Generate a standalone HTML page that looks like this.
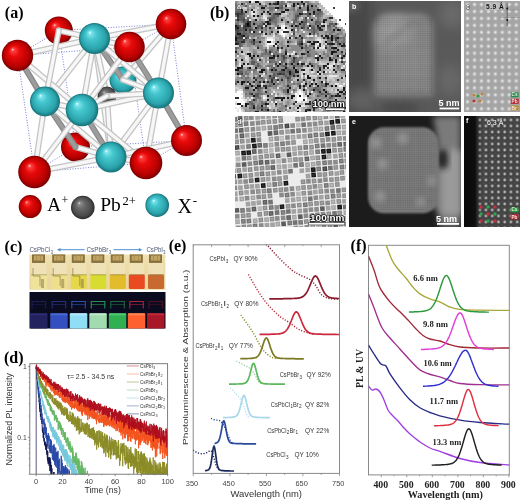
<!DOCTYPE html><html><head><meta charset="utf-8"><style>html,body{margin:0;padding:0;background:#fff;width:520px;height:501px;overflow:hidden}svg{display:block}</style></head><body><svg width="520" height="501" viewBox="0 0 520 501"><defs>
<radialGradient id="gR" cx="0.5" cy="0.5" r="0.5" fx="0.34" fy="0.3"><stop offset="0" stop-color="#ffe0e0"/><stop offset="0.1" stop-color="#ff4040"/><stop offset="0.35" stop-color="#e80a0a"/><stop offset="0.8" stop-color="#b80000"/><stop offset="1" stop-color="#780000"/></radialGradient>
<radialGradient id="gC" cx="0.5" cy="0.5" r="0.5" fx="0.34" fy="0.3"><stop offset="0" stop-color="#f0ffff"/><stop offset="0.1" stop-color="#80e4ec"/><stop offset="0.35" stop-color="#44c6ce"/><stop offset="0.8" stop-color="#2aa2aa"/><stop offset="1" stop-color="#167078"/></radialGradient>
<radialGradient id="gG" cx="0.5" cy="0.5" r="0.5" fx="0.34" fy="0.3"><stop offset="0" stop-color="#e0e0e0"/><stop offset="0.12" stop-color="#8a8a8a"/><stop offset="0.4" stop-color="#666"/><stop offset="0.8" stop-color="#4a4a4a"/><stop offset="1" stop-color="#2a2a2a"/></radialGradient>
</defs>
<line x1="58.8" y1="30.5" x2="171" y2="24" stroke="#5060c8" stroke-width="0.8" stroke-dasharray="1 1.6"/>
<line x1="171" y1="24" x2="129.5" y2="47" stroke="#5060c8" stroke-width="0.8" stroke-dasharray="1 1.6"/>
<line x1="129.5" y1="47" x2="17.5" y2="55.5" stroke="#5060c8" stroke-width="0.8" stroke-dasharray="1 1.6"/>
<line x1="17.5" y1="55.5" x2="58.8" y2="30.5" stroke="#5060c8" stroke-width="0.8" stroke-dasharray="1 1.6"/>
<line x1="75.5" y1="147" x2="186.5" y2="140.5" stroke="#5060c8" stroke-width="0.8" stroke-dasharray="1 1.6"/>
<line x1="186.5" y1="140.5" x2="146" y2="163" stroke="#5060c8" stroke-width="0.8" stroke-dasharray="1 1.6"/>
<line x1="146" y1="163" x2="34.5" y2="172" stroke="#5060c8" stroke-width="0.8" stroke-dasharray="1 1.6"/>
<line x1="34.5" y1="172" x2="75.5" y2="147" stroke="#5060c8" stroke-width="0.8" stroke-dasharray="1 1.6"/>
<line x1="58.8" y1="30.5" x2="75.5" y2="147" stroke="#5060c8" stroke-width="0.8" stroke-dasharray="1 1.6"/>
<line x1="171" y1="24" x2="186.5" y2="140.5" stroke="#5060c8" stroke-width="0.8" stroke-dasharray="1 1.6"/>
<line x1="129.5" y1="47" x2="146" y2="163" stroke="#5060c8" stroke-width="0.8" stroke-dasharray="1 1.6"/>
<line x1="17.5" y1="55.5" x2="34.5" y2="172" stroke="#5060c8" stroke-width="0.8" stroke-dasharray="1 1.6"/>
<circle cx="58.8" cy="30.5" r="14" fill="url(#gR)"/>
<circle cx="75.5" cy="147" r="14.5" fill="url(#gR)"/>
<circle cx="123" cy="80" r="13.5" fill="url(#gC)"/>
<line x1="94.5" y1="38.5" x2="123" y2="80" stroke="#8a8a8a" stroke-width="6" stroke-linecap="round"/>
<line x1="94.5" y1="38.5" x2="123" y2="80" stroke="#9c9c9c" stroke-width="3.4" stroke-linecap="round"/>
<line x1="171" y1="24" x2="123" y2="80" stroke="#c4c4c4" stroke-width="6" stroke-linecap="round"/>
<line x1="171" y1="24" x2="123" y2="80" stroke="#f7f7f7" stroke-width="3.4" stroke-linecap="round"/>
<line x1="123" y1="80" x2="158.5" y2="93" stroke="#c4c4c4" stroke-width="6" stroke-linecap="round"/>
<line x1="123" y1="80" x2="158.5" y2="93" stroke="#f7f7f7" stroke-width="3.4" stroke-linecap="round"/>
<line x1="94.5" y1="38.5" x2="111" y2="157" stroke="#c4c4c4" stroke-width="6" stroke-linecap="round"/>
<line x1="94.5" y1="38.5" x2="111" y2="157" stroke="#f7f7f7" stroke-width="3.4" stroke-linecap="round"/>
<line x1="107" y1="96" x2="94.5" y2="38.5" stroke="#c4c4c4" stroke-width="6" stroke-linecap="round"/>
<line x1="107" y1="96" x2="94.5" y2="38.5" stroke="#f7f7f7" stroke-width="3.4" stroke-linecap="round"/>
<line x1="107" y1="96" x2="111" y2="157" stroke="#c4c4c4" stroke-width="6" stroke-linecap="round"/>
<line x1="107" y1="96" x2="111" y2="157" stroke="#f7f7f7" stroke-width="3.4" stroke-linecap="round"/>
<line x1="75.5" y1="147" x2="111" y2="157" stroke="#c4c4c4" stroke-width="6" stroke-linecap="round"/>
<line x1="75.5" y1="147" x2="111" y2="157" stroke="#f7f7f7" stroke-width="3.4" stroke-linecap="round"/>
<line x1="75.5" y1="147" x2="45" y2="101.5" stroke="#8a8a8a" stroke-width="6" stroke-linecap="round"/>
<line x1="75.5" y1="147" x2="45" y2="101.5" stroke="#9c9c9c" stroke-width="3.4" stroke-linecap="round"/>
<line x1="82" y1="110" x2="111" y2="157" stroke="#8a8a8a" stroke-width="6" stroke-linecap="round"/>
<line x1="82" y1="110" x2="111" y2="157" stroke="#9c9c9c" stroke-width="3.4" stroke-linecap="round"/>
<circle cx="107" cy="96" r="9.5" fill="url(#gG)"/>
<line x1="58.8" y1="30.5" x2="94.5" y2="38.5" stroke="#c4c4c4" stroke-width="6" stroke-linecap="round"/>
<line x1="58.8" y1="30.5" x2="94.5" y2="38.5" stroke="#f7f7f7" stroke-width="3.4" stroke-linecap="round"/>
<line x1="17.5" y1="55.5" x2="94.5" y2="38.5" stroke="#c4c4c4" stroke-width="6" stroke-linecap="round"/>
<line x1="17.5" y1="55.5" x2="94.5" y2="38.5" stroke="#f7f7f7" stroke-width="3.4" stroke-linecap="round"/>
<line x1="129.5" y1="47" x2="94.5" y2="38.5" stroke="#c4c4c4" stroke-width="6" stroke-linecap="round"/>
<line x1="129.5" y1="47" x2="94.5" y2="38.5" stroke="#f7f7f7" stroke-width="3.4" stroke-linecap="round"/>
<line x1="171" y1="24" x2="94.5" y2="38.5" stroke="#c4c4c4" stroke-width="6" stroke-linecap="round"/>
<line x1="171" y1="24" x2="94.5" y2="38.5" stroke="#f7f7f7" stroke-width="3.4" stroke-linecap="round"/>
<line x1="171" y1="24" x2="158.5" y2="93" stroke="#c4c4c4" stroke-width="6" stroke-linecap="round"/>
<line x1="171" y1="24" x2="158.5" y2="93" stroke="#f7f7f7" stroke-width="3.4" stroke-linecap="round"/>
<line x1="94.5" y1="38.5" x2="82" y2="110" stroke="#c4c4c4" stroke-width="6" stroke-linecap="round"/>
<line x1="94.5" y1="38.5" x2="82" y2="110" stroke="#f7f7f7" stroke-width="3.4" stroke-linecap="round"/>
<line x1="94.5" y1="38.5" x2="45" y2="101.5" stroke="#c4c4c4" stroke-width="6" stroke-linecap="round"/>
<line x1="94.5" y1="38.5" x2="45" y2="101.5" stroke="#f7f7f7" stroke-width="3.4" stroke-linecap="round"/>
<line x1="94.5" y1="38.5" x2="158.5" y2="93" stroke="#c4c4c4" stroke-width="6" stroke-linecap="round"/>
<line x1="94.5" y1="38.5" x2="158.5" y2="93" stroke="#f7f7f7" stroke-width="3.4" stroke-linecap="round"/>
<line x1="17.5" y1="55.5" x2="45" y2="101.5" stroke="#8a8a8a" stroke-width="6" stroke-linecap="round"/>
<line x1="17.5" y1="55.5" x2="45" y2="101.5" stroke="#9c9c9c" stroke-width="3.4" stroke-linecap="round"/>
<line x1="17.5" y1="55.5" x2="82" y2="110" stroke="#c4c4c4" stroke-width="6" stroke-linecap="round"/>
<line x1="17.5" y1="55.5" x2="82" y2="110" stroke="#f7f7f7" stroke-width="3.4" stroke-linecap="round"/>
<line x1="58.8" y1="30.5" x2="45" y2="101.5" stroke="#c4c4c4" stroke-width="6" stroke-linecap="round"/>
<line x1="58.8" y1="30.5" x2="45" y2="101.5" stroke="#f7f7f7" stroke-width="3.4" stroke-linecap="round"/>
<line x1="45" y1="101.5" x2="82" y2="110" stroke="#c4c4c4" stroke-width="6" stroke-linecap="round"/>
<line x1="45" y1="101.5" x2="82" y2="110" stroke="#f7f7f7" stroke-width="3.4" stroke-linecap="round"/>
<line x1="82" y1="110" x2="158.5" y2="93" stroke="#c4c4c4" stroke-width="6" stroke-linecap="round"/>
<line x1="82" y1="110" x2="158.5" y2="93" stroke="#f7f7f7" stroke-width="3.4" stroke-linecap="round"/>
<line x1="45" y1="101.5" x2="111" y2="157" stroke="#c4c4c4" stroke-width="6" stroke-linecap="round"/>
<line x1="45" y1="101.5" x2="111" y2="157" stroke="#f7f7f7" stroke-width="3.4" stroke-linecap="round"/>
<line x1="158.5" y1="93" x2="111" y2="157" stroke="#c4c4c4" stroke-width="6" stroke-linecap="round"/>
<line x1="158.5" y1="93" x2="111" y2="157" stroke="#f7f7f7" stroke-width="3.4" stroke-linecap="round"/>
<line x1="107" y1="96" x2="158.5" y2="93" stroke="#c4c4c4" stroke-width="6" stroke-linecap="round"/>
<line x1="107" y1="96" x2="158.5" y2="93" stroke="#f7f7f7" stroke-width="3.4" stroke-linecap="round"/>
<line x1="107" y1="96" x2="82" y2="110" stroke="#c4c4c4" stroke-width="6" stroke-linecap="round"/>
<line x1="107" y1="96" x2="82" y2="110" stroke="#f7f7f7" stroke-width="3.4" stroke-linecap="round"/>
<line x1="34.5" y1="172" x2="45" y2="101.5" stroke="#c4c4c4" stroke-width="6" stroke-linecap="round"/>
<line x1="34.5" y1="172" x2="45" y2="101.5" stroke="#f7f7f7" stroke-width="3.4" stroke-linecap="round"/>
<line x1="34.5" y1="172" x2="82" y2="110" stroke="#c4c4c4" stroke-width="6" stroke-linecap="round"/>
<line x1="34.5" y1="172" x2="82" y2="110" stroke="#f7f7f7" stroke-width="3.4" stroke-linecap="round"/>
<line x1="34.5" y1="172" x2="111" y2="157" stroke="#c4c4c4" stroke-width="6" stroke-linecap="round"/>
<line x1="34.5" y1="172" x2="111" y2="157" stroke="#f7f7f7" stroke-width="3.4" stroke-linecap="round"/>
<line x1="146" y1="163" x2="111" y2="157" stroke="#c4c4c4" stroke-width="6" stroke-linecap="round"/>
<line x1="146" y1="163" x2="111" y2="157" stroke="#f7f7f7" stroke-width="3.4" stroke-linecap="round"/>
<line x1="146" y1="163" x2="82" y2="110" stroke="#c4c4c4" stroke-width="6" stroke-linecap="round"/>
<line x1="146" y1="163" x2="82" y2="110" stroke="#f7f7f7" stroke-width="3.4" stroke-linecap="round"/>
<line x1="146" y1="163" x2="158.5" y2="93" stroke="#c4c4c4" stroke-width="6" stroke-linecap="round"/>
<line x1="146" y1="163" x2="158.5" y2="93" stroke="#f7f7f7" stroke-width="3.4" stroke-linecap="round"/>
<line x1="186.5" y1="140.5" x2="158.5" y2="93" stroke="#8a8a8a" stroke-width="6" stroke-linecap="round"/>
<line x1="186.5" y1="140.5" x2="158.5" y2="93" stroke="#9c9c9c" stroke-width="3.4" stroke-linecap="round"/>
<line x1="186.5" y1="140.5" x2="111" y2="157" stroke="#c4c4c4" stroke-width="6" stroke-linecap="round"/>
<line x1="186.5" y1="140.5" x2="111" y2="157" stroke="#f7f7f7" stroke-width="3.4" stroke-linecap="round"/>
<line x1="129.5" y1="47" x2="82" y2="110" stroke="#c4c4c4" stroke-width="6" stroke-linecap="round"/>
<line x1="129.5" y1="47" x2="82" y2="110" stroke="#f7f7f7" stroke-width="3.4" stroke-linecap="round"/>
<line x1="129.5" y1="47" x2="158.5" y2="93" stroke="#8a8a8a" stroke-width="6" stroke-linecap="round"/>
<line x1="129.5" y1="47" x2="158.5" y2="93" stroke="#9c9c9c" stroke-width="3.4" stroke-linecap="round"/>
<circle cx="17.5" cy="55.5" r="15.7" fill="url(#gR)"/>
<circle cx="171" cy="24" r="15.3" fill="url(#gR)"/>
<circle cx="94.5" cy="38.5" r="15.5" fill="url(#gC)"/>
<circle cx="129.5" cy="47" r="15.3" fill="url(#gR)"/>
<circle cx="45" cy="101.5" r="15" fill="url(#gC)"/>
<circle cx="158.5" cy="93" r="15.5" fill="url(#gC)"/>
<circle cx="82" cy="110" r="16.3" fill="url(#gC)"/>
<circle cx="186.5" cy="140.5" r="15.5" fill="url(#gR)"/>
<circle cx="111" cy="157" r="15.5" fill="url(#gC)"/>
<circle cx="34.5" cy="172" r="16.3" fill="url(#gR)"/>
<circle cx="146" cy="163" r="16.3" fill="url(#gR)"/>
<circle cx="30.2" cy="206.6" r="11.5" fill="url(#gR)"/>
<circle cx="82.8" cy="207.5" r="11.8" fill="url(#gG)"/>
<circle cx="157.2" cy="205.2" r="11.8" fill="url(#gC)"/>
<text x="47.3" y="211" font-family="Liberation Serif, Times New Roman, serif" font-size="19">A</text><text x="61.5" y="203.8" font-family="Liberation Serif, Times New Roman, serif" font-size="12">+</text>
<text x="100.2" y="211.2" font-family="Liberation Serif, Times New Roman, serif" font-size="19.5">Pb</text><text x="122.4" y="204.6" font-family="Liberation Serif, Times New Roman, serif" font-size="12.5">2+</text>
<text x="177.4" y="212.6" font-family="Liberation Serif, Times New Roman, serif" font-size="20">X</text><text x="192.8" y="204.8" font-family="Liberation Serif, Times New Roman, serif" font-size="13">-</text>
<text x="4.8" y="18.3" font-family="Liberation Serif, Times New Roman, serif" font-weight="bold" font-size="16">(a)</text>
<text x="209.9" y="18.3" font-family="Liberation Serif, Times New Roman, serif" font-weight="bold" font-size="16">(b)</text>
<text x="4.6" y="252" font-family="Liberation Serif, Times New Roman, serif" font-weight="bold" font-size="16">(c)</text>
<text x="4" y="362.5" font-family="Liberation Serif, Times New Roman, serif" font-weight="bold" font-size="16">(d)</text>
<text x="168.7" y="250.8" font-family="Liberation Serif, Times New Roman, serif" font-weight="bold" font-size="16">(e)</text>
<text x="350.6" y="250.8" font-family="Liberation Serif, Times New Roman, serif" font-weight="bold" font-size="16">(f)</text>
<defs><filter id="blA" x="0" y="0" width="1" height="1"><feGaussianBlur stdDeviation="0.55"/></filter><clipPath id="cpBa"><rect x="235" y="1" width="111" height="111"/></clipPath><clipPath id="cpBd"><rect x="235" y="116" width="111" height="111"/></clipPath></defs>
<g filter="url(#blA)" clip-path="url(#cpBa)">
<path fill="#000000" d="M247 23h2v2h-2z"/>
<path fill="#171717" d="M249 1h2v2h-2zM255 1h2v2h-2zM257 1h2v2h-2zM277 1h2v2h-2zM301 1h2v2h-2zM259 3h2v2h-2zM269 3h2v2h-2zM277 3h2v2h-2zM293 3h2v2h-2zM297 3h2v2h-2zM303 3h2v2h-2zM237 5h2v2h-2zM239 5h2v2h-2zM285 5h2v2h-2zM293 5h2v2h-2zM311 5h2v2h-2zM261 7h2v2h-2zM263 7h2v2h-2zM277 7h2v2h-2zM299 7h2v2h-2zM307 7h2v2h-2zM285 9h2v2h-2zM287 9h2v2h-2zM307 9h2v2h-2zM317 9h2v2h-2zM245 11h2v2h-2zM267 11h2v2h-2zM283 11h2v2h-2zM313 11h2v2h-2zM261 13h2v2h-2zM269 13h2v2h-2zM279 13h2v2h-2zM299 13h2v2h-2zM309 13h2v2h-2zM253 15h2v2h-2zM257 15h2v2h-2zM255 19h2v2h-2zM281 19h2v2h-2zM311 19h2v2h-2zM267 21h2v2h-2zM301 21h2v2h-2zM323 21h2v2h-2zM253 23h2v2h-2zM267 23h2v2h-2zM299 23h2v2h-2zM235 25h2v2h-2zM247 25h2v2h-2zM265 25h2v2h-2zM291 25h2v2h-2zM295 25h2v2h-2zM309 25h2v2h-2zM317 25h2v2h-2zM323 25h2v2h-2zM237 27h2v2h-2zM255 27h2v2h-2zM277 27h2v2h-2zM279 27h2v2h-2zM285 27h2v2h-2zM319 27h2v2h-2zM245 29h2v2h-2zM291 29h2v2h-2zM333 29h2v2h-2zM337 29h2v2h-2zM253 31h2v2h-2zM261 31h2v2h-2zM277 31h2v2h-2zM237 33h2v2h-2zM239 33h2v2h-2zM265 33h2v2h-2zM309 33h2v2h-2zM243 35h2v2h-2zM299 35h2v2h-2zM325 35h2v2h-2zM331 35h2v2h-2zM235 37h2v2h-2zM289 37h2v2h-2zM327 37h2v2h-2zM331 37h2v2h-2zM337 37h2v2h-2zM235 39h2v2h-2zM253 39h2v2h-2zM331 39h2v2h-2zM259 41h2v2h-2zM267 41h2v2h-2zM269 41h2v2h-2zM277 41h2v2h-2zM287 41h2v2h-2zM309 41h2v2h-2zM317 41h2v2h-2zM325 41h2v2h-2zM235 43h2v2h-2zM275 43h2v2h-2zM301 43h2v2h-2zM311 43h2v2h-2zM313 43h2v2h-2zM331 43h2v2h-2zM339 43h2v2h-2zM287 45h2v2h-2zM341 45h2v2h-2zM277 47h2v2h-2zM301 47h2v2h-2zM317 47h2v2h-2zM333 47h2v2h-2zM335 47h2v2h-2zM337 49h2v2h-2zM235 51h2v2h-2zM241 51h2v2h-2zM307 51h2v2h-2zM331 51h2v2h-2zM333 51h2v2h-2zM247 53h2v2h-2zM249 53h2v2h-2zM285 53h2v2h-2zM301 53h2v2h-2zM331 53h2v2h-2zM249 55h2v2h-2zM253 55h2v2h-2zM257 55h2v2h-2zM273 55h2v2h-2zM277 55h2v2h-2zM289 55h2v2h-2zM319 55h2v2h-2zM337 55h2v2h-2zM343 55h2v2h-2zM251 57h2v2h-2zM269 57h2v2h-2zM271 57h2v2h-2zM317 57h2v2h-2zM329 57h2v2h-2zM341 57h2v2h-2zM235 59h2v2h-2zM241 59h2v2h-2zM317 59h2v2h-2zM329 59h2v2h-2zM335 59h2v2h-2zM335 61h2v2h-2zM243 63h2v2h-2zM279 63h2v2h-2zM285 63h2v2h-2zM291 63h2v2h-2zM297 63h2v2h-2zM301 63h2v2h-2zM327 63h2v2h-2zM241 65h2v2h-2zM277 65h2v2h-2zM307 65h2v2h-2zM311 65h2v2h-2zM323 65h2v2h-2zM333 65h2v2h-2zM237 67h2v2h-2zM239 67h2v2h-2zM249 67h2v2h-2zM255 67h2v2h-2zM285 67h2v2h-2zM293 67h2v2h-2zM235 69h2v2h-2zM237 69h2v2h-2zM261 69h2v2h-2zM263 69h2v2h-2zM271 69h2v2h-2zM283 69h2v2h-2zM295 69h2v2h-2zM303 69h2v2h-2zM311 69h2v2h-2zM319 69h2v2h-2zM333 69h2v2h-2zM261 71h2v2h-2zM289 71h2v2h-2zM295 71h2v2h-2zM297 71h2v2h-2zM317 71h2v2h-2zM323 71h2v2h-2zM237 73h2v2h-2zM289 73h2v2h-2zM319 73h2v2h-2zM297 75h2v2h-2zM307 75h2v2h-2zM345 75h1v2h-1zM307 77h2v2h-2zM309 77h2v2h-2zM319 77h2v2h-2zM297 79h2v2h-2zM313 79h2v2h-2zM237 81h2v2h-2zM241 81h2v2h-2zM243 81h2v2h-2zM263 81h2v2h-2zM321 81h2v2h-2zM241 83h2v2h-2zM249 83h2v2h-2zM273 83h2v2h-2zM305 83h2v2h-2zM311 83h2v2h-2zM315 83h2v2h-2zM325 83h2v2h-2zM251 85h2v2h-2zM257 85h2v2h-2zM259 85h2v2h-2zM299 85h2v2h-2zM303 85h2v2h-2zM309 85h2v2h-2zM317 85h2v2h-2zM331 85h2v2h-2zM335 85h2v2h-2zM245 87h2v2h-2zM247 87h2v2h-2zM255 87h2v2h-2zM265 87h2v2h-2zM289 87h2v2h-2zM343 87h2v2h-2zM253 89h2v2h-2zM287 89h2v2h-2zM303 89h2v2h-2zM313 89h2v2h-2zM323 89h2v2h-2zM343 89h2v2h-2zM287 91h2v2h-2zM325 91h2v2h-2zM339 91h2v2h-2zM341 91h2v2h-2zM345 91h1v2h-1zM309 93h2v2h-2zM253 95h2v2h-2zM267 95h2v2h-2zM291 95h2v2h-2zM293 95h2v2h-2zM299 95h2v2h-2zM307 95h2v2h-2zM325 95h2v2h-2zM335 95h2v2h-2zM339 95h2v2h-2zM275 97h2v2h-2zM277 97h2v2h-2zM283 97h2v2h-2zM287 97h2v2h-2zM291 97h2v2h-2zM345 97h1v2h-1zM267 99h2v2h-2zM281 99h2v2h-2zM335 99h2v2h-2zM313 101h2v2h-2zM329 101h2v2h-2zM237 103h2v2h-2zM239 103h2v2h-2zM245 103h2v2h-2zM265 103h2v2h-2zM275 103h2v2h-2zM327 103h2v2h-2zM245 105h2v2h-2zM261 105h2v2h-2zM299 105h2v2h-2zM321 105h2v2h-2zM253 107h2v2h-2zM297 107h2v2h-2zM325 107h2v2h-2zM337 107h2v2h-2zM267 109h2v2h-2zM309 109h2v2h-2zM255 111h2v1h-2zM279 111h2v1h-2zM297 111h2v1h-2zM305 111h2v1h-2zM343 111h2v1h-2z"/>
<path fill="#2e2e2e" d="M241 3h2v2h-2zM273 3h2v2h-2zM275 3h2v2h-2zM307 5h2v2h-2zM275 7h2v2h-2zM241 9h2v2h-2zM251 9h2v2h-2zM319 9h2v2h-2zM241 11h2v2h-2zM253 11h2v2h-2zM263 11h2v2h-2zM281 11h2v2h-2zM237 13h2v2h-2zM275 13h2v2h-2zM277 13h2v2h-2zM301 13h2v2h-2zM313 13h2v2h-2zM237 15h2v2h-2zM329 17h2v2h-2zM331 17h2v2h-2zM237 19h2v2h-2zM269 19h2v2h-2zM323 19h2v2h-2zM325 19h2v2h-2zM247 21h2v2h-2zM249 21h2v2h-2zM265 21h2v2h-2zM287 21h2v2h-2zM245 23h2v2h-2zM263 23h2v2h-2zM269 23h2v2h-2zM335 23h2v2h-2zM245 25h2v2h-2zM249 25h2v2h-2zM321 25h2v2h-2zM235 27h2v2h-2zM261 27h2v2h-2zM269 27h2v2h-2zM301 27h2v2h-2zM319 29h2v2h-2zM321 29h2v2h-2zM339 29h2v2h-2zM271 31h2v2h-2zM283 31h2v2h-2zM285 31h2v2h-2zM287 31h2v2h-2zM241 35h2v2h-2zM321 35h2v2h-2zM327 35h2v2h-2zM295 37h2v2h-2zM301 37h2v2h-2zM323 37h2v2h-2zM241 41h2v2h-2zM243 41h2v2h-2zM307 41h2v2h-2zM313 41h2v2h-2zM315 41h2v2h-2zM237 43h2v2h-2zM319 43h2v2h-2zM327 43h2v2h-2zM329 43h2v2h-2zM333 43h2v2h-2zM343 43h2v2h-2zM273 45h2v2h-2zM319 45h2v2h-2zM343 45h2v2h-2zM257 47h2v2h-2zM281 47h2v2h-2zM313 47h2v2h-2zM325 47h2v2h-2zM331 47h2v2h-2zM269 51h2v2h-2zM285 51h2v2h-2zM335 51h2v2h-2zM341 51h2v2h-2zM295 53h2v2h-2zM303 53h2v2h-2zM345 53h1v2h-1zM273 57h2v2h-2zM293 57h2v2h-2zM315 57h2v2h-2zM321 57h2v2h-2zM259 59h2v2h-2zM331 59h2v2h-2zM341 61h2v2h-2zM247 63h2v2h-2zM303 63h2v2h-2zM309 63h2v2h-2zM325 65h2v2h-2zM241 67h2v2h-2zM319 67h2v2h-2zM323 67h2v2h-2zM327 67h2v2h-2zM275 69h2v2h-2zM281 69h2v2h-2zM301 69h2v2h-2zM341 69h2v2h-2zM343 69h2v2h-2zM259 71h2v2h-2zM335 71h2v2h-2zM279 73h2v2h-2zM303 73h2v2h-2zM259 75h2v2h-2zM269 75h2v2h-2zM293 75h2v2h-2zM253 77h2v2h-2zM325 77h2v2h-2zM341 77h2v2h-2zM255 79h2v2h-2zM271 79h2v2h-2zM277 79h2v2h-2zM281 79h2v2h-2zM303 79h2v2h-2zM337 79h2v2h-2zM247 81h2v2h-2zM253 81h2v2h-2zM259 81h2v2h-2zM267 81h2v2h-2zM271 81h2v2h-2zM327 83h2v2h-2zM263 85h2v2h-2zM265 85h2v2h-2zM287 85h2v2h-2zM325 85h2v2h-2zM299 87h2v2h-2zM337 89h2v2h-2zM265 91h2v2h-2zM319 91h2v2h-2zM251 93h2v2h-2zM337 93h2v2h-2zM343 93h2v2h-2zM331 95h2v2h-2zM337 95h2v2h-2zM235 97h2v2h-2zM237 97h2v2h-2zM279 97h2v2h-2zM281 97h2v2h-2zM253 99h2v2h-2zM303 99h2v2h-2zM315 99h2v2h-2zM319 99h2v2h-2zM295 101h2v2h-2zM309 101h2v2h-2zM319 101h2v2h-2zM325 101h2v2h-2zM247 103h2v2h-2zM267 103h2v2h-2zM293 103h2v2h-2zM305 103h2v2h-2zM307 103h2v2h-2zM309 103h2v2h-2zM335 103h2v2h-2zM241 105h2v2h-2zM253 105h2v2h-2zM289 107h2v2h-2zM313 107h2v2h-2zM345 107h1v2h-1zM261 109h2v2h-2zM305 109h2v2h-2zM307 109h2v2h-2zM313 109h2v2h-2zM333 109h2v2h-2zM257 111h2v1h-2z"/>
<path fill="#454545" d="M333 7h2v2h-2zM235 13h2v2h-2zM239 13h2v2h-2zM241 13h2v2h-2zM297 15h2v2h-2zM237 17h2v2h-2zM305 17h2v2h-2zM243 19h2v2h-2zM339 19h2v2h-2zM249 23h2v2h-2zM345 23h1v2h-1zM237 25h2v2h-2zM243 25h2v2h-2zM297 25h2v2h-2zM243 27h2v2h-2zM245 27h2v2h-2zM307 27h2v2h-2zM317 27h2v2h-2zM235 29h2v2h-2zM237 29h2v2h-2zM249 29h2v2h-2zM237 31h2v2h-2zM293 33h2v2h-2zM235 35h2v2h-2zM239 35h2v2h-2zM237 37h2v2h-2zM239 37h2v2h-2zM241 37h2v2h-2zM245 37h2v2h-2zM335 37h2v2h-2zM243 39h2v2h-2zM335 39h2v2h-2zM235 41h2v2h-2zM237 41h2v2h-2zM253 41h2v2h-2zM301 41h2v2h-2zM253 43h2v2h-2zM299 43h2v2h-2zM283 55h2v2h-2zM283 57h2v2h-2zM293 59h2v2h-2zM293 61h2v2h-2zM275 63h2v2h-2zM293 65h2v2h-2zM241 73h2v2h-2zM277 73h2v2h-2zM281 73h2v2h-2zM283 73h2v2h-2zM273 77h2v2h-2zM287 77h2v2h-2zM257 87h2v2h-2zM345 93h1v2h-1zM285 105h2v2h-2z"/>
<path fill="#5c5c5c" d="M245 5h2v2h-2zM265 5h2v2h-2zM281 5h2v2h-2zM303 5h2v2h-2zM315 5h2v2h-2zM279 7h2v2h-2zM281 7h2v2h-2zM235 11h2v2h-2zM237 11h2v2h-2zM239 11h2v2h-2zM307 11h2v2h-2zM319 11h2v2h-2zM243 13h2v2h-2zM273 13h2v2h-2zM305 13h2v2h-2zM307 13h2v2h-2zM317 13h2v2h-2zM239 15h2v2h-2zM241 15h2v2h-2zM273 15h2v2h-2zM277 15h2v2h-2zM295 15h2v2h-2zM307 15h2v2h-2zM239 17h2v2h-2zM241 17h2v2h-2zM243 17h2v2h-2zM269 17h2v2h-2zM271 17h2v2h-2zM273 17h2v2h-2zM295 17h2v2h-2zM239 19h2v2h-2zM241 19h2v2h-2zM247 19h2v2h-2zM271 19h2v2h-2zM295 19h2v2h-2zM305 19h2v2h-2zM243 21h2v2h-2zM245 21h2v2h-2zM269 21h2v2h-2zM293 21h2v2h-2zM303 21h2v2h-2zM305 21h2v2h-2zM315 21h2v2h-2zM317 21h2v2h-2zM293 23h2v2h-2zM303 23h2v2h-2zM315 23h2v2h-2zM319 23h2v2h-2zM329 23h2v2h-2zM331 23h2v2h-2zM239 25h2v2h-2zM257 25h2v2h-2zM259 25h2v2h-2zM261 25h2v2h-2zM303 25h2v2h-2zM327 25h2v2h-2zM329 25h2v2h-2zM333 25h2v2h-2zM239 27h2v2h-2zM247 27h2v2h-2zM249 27h2v2h-2zM257 27h2v2h-2zM303 27h2v2h-2zM311 27h2v2h-2zM313 27h2v2h-2zM335 27h2v2h-2zM239 29h2v2h-2zM241 29h2v2h-2zM243 29h2v2h-2zM251 29h2v2h-2zM293 29h2v2h-2zM313 29h2v2h-2zM235 31h2v2h-2zM239 31h2v2h-2zM243 31h2v2h-2zM249 31h2v2h-2zM293 31h2v2h-2zM313 31h2v2h-2zM235 33h2v2h-2zM241 33h2v2h-2zM243 33h2v2h-2zM245 33h2v2h-2zM313 33h2v2h-2zM237 35h2v2h-2zM247 35h2v2h-2zM247 37h2v2h-2zM329 37h2v2h-2zM237 39h2v2h-2zM239 39h2v2h-2zM241 39h2v2h-2zM301 39h2v2h-2zM239 41h2v2h-2zM251 41h2v2h-2zM299 41h2v2h-2zM337 41h2v2h-2zM239 43h2v2h-2zM297 43h2v2h-2zM337 43h2v2h-2zM239 45h2v2h-2zM299 45h2v2h-2zM301 45h2v2h-2zM305 45h2v2h-2zM345 45h1v2h-1zM235 47h2v2h-2zM265 49h2v2h-2zM277 49h2v2h-2zM285 49h2v2h-2zM265 51h2v2h-2zM269 53h2v2h-2zM281 55h2v2h-2zM307 55h2v2h-2zM285 57h2v2h-2zM295 57h2v2h-2zM283 59h2v2h-2zM251 61h2v2h-2zM253 61h2v2h-2zM269 61h2v2h-2zM281 61h2v2h-2zM251 63h2v2h-2zM253 63h2v2h-2zM257 63h2v2h-2zM257 65h2v2h-2zM283 65h2v2h-2zM285 65h2v2h-2zM301 65h2v2h-2zM337 65h2v2h-2zM247 67h2v2h-2zM273 67h2v2h-2zM273 69h2v2h-2zM287 69h2v2h-2zM289 69h2v2h-2zM239 71h2v2h-2zM241 71h2v2h-2zM279 71h2v2h-2zM281 71h2v2h-2zM283 71h2v2h-2zM287 71h2v2h-2zM291 71h2v2h-2zM239 73h2v2h-2zM273 73h2v2h-2zM291 73h2v2h-2zM293 73h2v2h-2zM273 75h2v2h-2zM285 75h2v2h-2zM289 75h2v2h-2zM261 77h2v2h-2zM269 77h2v2h-2zM271 77h2v2h-2zM289 77h2v2h-2zM287 79h2v2h-2zM235 83h2v2h-2zM269 85h2v2h-2zM259 87h2v2h-2zM315 87h2v2h-2zM257 89h2v2h-2zM317 89h2v2h-2zM249 93h2v2h-2zM255 93h2v2h-2zM257 93h2v2h-2zM321 93h2v2h-2zM327 93h2v2h-2zM255 95h2v2h-2zM257 95h2v2h-2zM317 95h2v2h-2zM333 95h2v2h-2zM329 97h2v2h-2zM249 101h2v2h-2zM251 103h2v2h-2zM263 103h2v2h-2zM327 105h2v2h-2zM261 107h2v2h-2zM265 109h2v2h-2zM273 111h2v1h-2z"/>
<path fill="#737373" d="M275 1h2v2h-2zM281 1h2v2h-2zM289 1h2v2h-2zM305 1h2v2h-2zM307 1h2v2h-2zM235 3h2v2h-2zM243 3h2v2h-2zM271 3h2v2h-2zM279 3h2v2h-2zM281 3h2v2h-2zM283 3h2v2h-2zM285 3h2v2h-2zM299 3h2v2h-2zM301 3h2v2h-2zM307 3h2v2h-2zM309 3h2v2h-2zM235 5h2v2h-2zM261 5h2v2h-2zM279 5h2v2h-2zM291 5h2v2h-2zM299 5h2v2h-2zM235 7h2v2h-2zM269 7h2v2h-2zM271 7h2v2h-2zM273 7h2v2h-2zM293 7h2v2h-2zM311 7h2v2h-2zM235 9h2v2h-2zM237 9h2v2h-2zM239 9h2v2h-2zM247 9h2v2h-2zM269 9h2v2h-2zM271 9h2v2h-2zM281 9h2v2h-2zM293 9h2v2h-2zM297 9h2v2h-2zM299 9h2v2h-2zM301 9h2v2h-2zM309 9h2v2h-2zM313 9h2v2h-2zM297 11h2v2h-2zM299 11h2v2h-2zM301 11h2v2h-2zM315 11h2v2h-2zM317 11h2v2h-2zM321 11h2v2h-2zM295 13h2v2h-2zM297 13h2v2h-2zM303 13h2v2h-2zM315 13h2v2h-2zM319 13h2v2h-2zM321 13h2v2h-2zM235 15h2v2h-2zM243 15h2v2h-2zM271 15h2v2h-2zM275 15h2v2h-2zM299 15h2v2h-2zM309 15h2v2h-2zM315 15h2v2h-2zM317 15h2v2h-2zM319 15h2v2h-2zM247 17h2v2h-2zM267 17h2v2h-2zM275 17h2v2h-2zM297 17h2v2h-2zM309 17h2v2h-2zM317 17h2v2h-2zM235 19h2v2h-2zM245 19h2v2h-2zM273 19h2v2h-2zM275 19h2v2h-2zM293 19h2v2h-2zM303 19h2v2h-2zM317 19h2v2h-2zM237 21h2v2h-2zM241 21h2v2h-2zM253 21h2v2h-2zM261 21h2v2h-2zM271 21h2v2h-2zM273 21h2v2h-2zM275 21h2v2h-2zM295 21h2v2h-2zM297 21h2v2h-2zM319 21h2v2h-2zM235 23h2v2h-2zM237 23h2v2h-2zM243 23h2v2h-2zM255 23h2v2h-2zM259 23h2v2h-2zM261 23h2v2h-2zM275 23h2v2h-2zM301 23h2v2h-2zM305 23h2v2h-2zM317 23h2v2h-2zM333 23h2v2h-2zM277 25h2v2h-2zM301 25h2v2h-2zM311 25h2v2h-2zM313 25h2v2h-2zM241 27h2v2h-2zM251 27h2v2h-2zM259 27h2v2h-2zM265 27h2v2h-2zM293 27h2v2h-2zM297 27h2v2h-2zM327 27h2v2h-2zM329 27h2v2h-2zM247 29h2v2h-2zM253 29h2v2h-2zM255 29h2v2h-2zM257 29h2v2h-2zM261 29h2v2h-2zM265 29h2v2h-2zM297 29h2v2h-2zM307 29h2v2h-2zM309 29h2v2h-2zM311 29h2v2h-2zM315 29h2v2h-2zM317 29h2v2h-2zM329 29h2v2h-2zM241 31h2v2h-2zM245 31h2v2h-2zM247 31h2v2h-2zM255 31h2v2h-2zM311 31h2v2h-2zM315 31h2v2h-2zM331 31h2v2h-2zM333 31h2v2h-2zM247 33h2v2h-2zM249 33h2v2h-2zM251 33h2v2h-2zM253 33h2v2h-2zM255 33h2v2h-2zM257 33h2v2h-2zM259 33h2v2h-2zM269 33h2v2h-2zM275 33h2v2h-2zM317 33h2v2h-2zM329 33h2v2h-2zM337 33h2v2h-2zM345 33h1v2h-1zM245 35h2v2h-2zM253 35h2v2h-2zM293 35h2v2h-2zM333 35h2v2h-2zM335 35h2v2h-2zM345 35h1v2h-1zM257 37h2v2h-2zM297 37h2v2h-2zM325 37h2v2h-2zM333 37h2v2h-2zM339 37h2v2h-2zM341 37h2v2h-2zM343 37h2v2h-2zM245 39h2v2h-2zM249 39h2v2h-2zM251 39h2v2h-2zM299 39h2v2h-2zM327 39h2v2h-2zM329 39h2v2h-2zM337 39h2v2h-2zM343 39h2v2h-2zM249 41h2v2h-2zM255 41h2v2h-2zM257 41h2v2h-2zM289 41h2v2h-2zM297 41h2v2h-2zM329 41h2v2h-2zM331 41h2v2h-2zM335 41h2v2h-2zM341 41h2v2h-2zM343 41h2v2h-2zM241 43h2v2h-2zM251 43h2v2h-2zM241 45h2v2h-2zM257 45h2v2h-2zM277 45h2v2h-2zM309 45h2v2h-2zM311 45h2v2h-2zM313 45h2v2h-2zM325 45h2v2h-2zM329 45h2v2h-2zM237 47h2v2h-2zM303 47h2v2h-2zM305 47h2v2h-2zM307 47h2v2h-2zM235 49h2v2h-2zM269 49h2v2h-2zM271 49h2v2h-2zM305 49h2v2h-2zM309 49h2v2h-2zM329 49h2v2h-2zM333 49h2v2h-2zM345 49h1v2h-1zM271 51h2v2h-2zM275 51h2v2h-2zM345 51h1v2h-1zM237 53h2v2h-2zM253 53h2v2h-2zM261 53h2v2h-2zM263 53h2v2h-2zM265 53h2v2h-2zM267 53h2v2h-2zM273 53h2v2h-2zM275 53h2v2h-2zM277 53h2v2h-2zM281 53h2v2h-2zM305 53h2v2h-2zM307 53h2v2h-2zM309 53h2v2h-2zM315 53h2v2h-2zM323 53h2v2h-2zM341 53h2v2h-2zM261 55h2v2h-2zM269 55h2v2h-2zM271 55h2v2h-2zM275 55h2v2h-2zM309 55h2v2h-2zM327 55h2v2h-2zM335 55h2v2h-2zM341 55h2v2h-2zM277 57h2v2h-2zM281 57h2v2h-2zM299 57h2v2h-2zM301 57h2v2h-2zM333 57h2v2h-2zM251 59h2v2h-2zM253 59h2v2h-2zM269 59h2v2h-2zM271 59h2v2h-2zM273 59h2v2h-2zM281 59h2v2h-2zM291 59h2v2h-2zM295 59h2v2h-2zM297 59h2v2h-2zM235 61h2v2h-2zM255 61h2v2h-2zM271 61h2v2h-2zM273 61h2v2h-2zM275 61h2v2h-2zM283 61h2v2h-2zM291 61h2v2h-2zM295 61h2v2h-2zM297 61h2v2h-2zM343 61h2v2h-2zM235 63h2v2h-2zM281 63h2v2h-2zM289 63h2v2h-2zM295 63h2v2h-2zM311 63h2v2h-2zM343 63h2v2h-2zM255 65h2v2h-2zM259 65h2v2h-2zM267 65h2v2h-2zM269 65h2v2h-2zM271 65h2v2h-2zM275 65h2v2h-2zM281 65h2v2h-2zM295 65h2v2h-2zM297 65h2v2h-2zM299 65h2v2h-2zM313 65h2v2h-2zM317 65h2v2h-2zM271 67h2v2h-2zM287 67h2v2h-2zM337 67h2v2h-2zM239 69h2v2h-2zM241 69h2v2h-2zM247 69h2v2h-2zM249 69h2v2h-2zM253 69h2v2h-2zM255 69h2v2h-2zM265 69h2v2h-2zM269 69h2v2h-2zM285 69h2v2h-2zM291 69h2v2h-2zM293 69h2v2h-2zM297 69h2v2h-2zM237 71h2v2h-2zM245 71h2v2h-2zM253 71h2v2h-2zM265 71h2v2h-2zM271 71h2v2h-2zM273 71h2v2h-2zM275 71h2v2h-2zM277 71h2v2h-2zM285 71h2v2h-2zM293 71h2v2h-2zM345 71h1v2h-1zM245 73h2v2h-2zM247 73h2v2h-2zM265 73h2v2h-2zM275 73h2v2h-2zM285 73h2v2h-2zM287 73h2v2h-2zM345 73h1v2h-1zM243 75h2v2h-2zM271 75h2v2h-2zM275 75h2v2h-2zM277 75h2v2h-2zM283 75h2v2h-2zM287 75h2v2h-2zM291 75h2v2h-2zM295 75h2v2h-2zM241 77h2v2h-2zM245 77h2v2h-2zM247 77h2v2h-2zM255 77h2v2h-2zM257 77h2v2h-2zM259 77h2v2h-2zM281 77h2v2h-2zM285 77h2v2h-2zM317 77h2v2h-2zM245 79h2v2h-2zM263 79h2v2h-2zM273 79h2v2h-2zM275 79h2v2h-2zM289 79h2v2h-2zM235 81h2v2h-2zM245 81h2v2h-2zM257 81h2v2h-2zM269 81h2v2h-2zM275 81h2v2h-2zM287 81h2v2h-2zM289 81h2v2h-2zM305 81h2v2h-2zM325 81h2v2h-2zM257 83h2v2h-2zM259 83h2v2h-2zM269 83h2v2h-2zM271 83h2v2h-2zM277 83h2v2h-2zM287 83h2v2h-2zM293 83h2v2h-2zM297 83h2v2h-2zM299 83h2v2h-2zM321 83h2v2h-2zM245 85h2v2h-2zM247 85h2v2h-2zM249 85h2v2h-2zM253 85h2v2h-2zM267 85h2v2h-2zM271 85h2v2h-2zM275 85h2v2h-2zM289 85h2v2h-2zM305 85h2v2h-2zM321 85h2v2h-2zM323 85h2v2h-2zM261 87h2v2h-2zM303 87h2v2h-2zM313 87h2v2h-2zM317 87h2v2h-2zM319 87h2v2h-2zM245 89h2v2h-2zM247 89h2v2h-2zM259 89h2v2h-2zM283 89h2v2h-2zM285 89h2v2h-2zM293 89h2v2h-2zM311 89h2v2h-2zM315 89h2v2h-2zM319 89h2v2h-2zM249 91h2v2h-2zM257 91h2v2h-2zM259 91h2v2h-2zM283 91h2v2h-2zM285 91h2v2h-2zM317 91h2v2h-2zM245 93h2v2h-2zM259 93h2v2h-2zM261 93h2v2h-2zM287 93h2v2h-2zM305 93h2v2h-2zM319 93h2v2h-2zM323 93h2v2h-2zM325 93h2v2h-2zM329 93h2v2h-2zM319 95h2v2h-2zM329 95h2v2h-2zM255 97h2v2h-2zM257 97h2v2h-2zM259 97h2v2h-2zM273 97h2v2h-2zM331 97h2v2h-2zM255 99h2v2h-2zM273 99h2v2h-2zM327 99h2v2h-2zM251 101h2v2h-2zM261 101h2v2h-2zM265 101h2v2h-2zM327 101h2v2h-2zM249 103h2v2h-2zM253 103h2v2h-2zM261 103h2v2h-2zM323 103h2v2h-2zM325 103h2v2h-2zM341 103h2v2h-2zM251 105h2v2h-2zM257 105h2v2h-2zM265 105h2v2h-2zM275 105h2v2h-2zM313 105h2v2h-2zM249 107h2v2h-2zM251 107h2v2h-2zM257 107h2v2h-2zM259 107h2v2h-2zM263 107h2v2h-2zM265 107h2v2h-2zM315 107h2v2h-2zM257 109h2v2h-2zM263 109h2v2h-2zM273 109h2v2h-2zM277 109h2v2h-2zM285 109h2v2h-2zM277 111h2v1h-2z"/>
<path fill="#8b8b8b" d="M235 1h2v2h-2zM245 1h2v2h-2zM247 1h2v2h-2zM279 1h2v2h-2zM283 1h2v2h-2zM287 1h2v2h-2zM291 1h2v2h-2zM293 1h2v2h-2zM295 1h2v2h-2zM297 1h2v2h-2zM299 1h2v2h-2zM247 3h2v2h-2zM249 3h2v2h-2zM267 3h2v2h-2zM295 3h2v2h-2zM311 3h2v2h-2zM313 3h2v2h-2zM317 3h2v2h-2zM243 5h2v2h-2zM247 5h2v2h-2zM259 5h2v2h-2zM263 5h2v2h-2zM269 5h2v2h-2zM271 5h2v2h-2zM275 5h2v2h-2zM295 5h2v2h-2zM309 5h2v2h-2zM313 5h2v2h-2zM247 7h2v2h-2zM253 7h2v2h-2zM267 7h2v2h-2zM283 7h2v2h-2zM285 7h2v2h-2zM291 7h2v2h-2zM297 7h2v2h-2zM301 7h2v2h-2zM303 7h2v2h-2zM305 7h2v2h-2zM309 7h2v2h-2zM313 7h2v2h-2zM315 7h2v2h-2zM317 7h2v2h-2zM261 9h2v2h-2zM263 9h2v2h-2zM273 9h2v2h-2zM277 9h2v2h-2zM279 9h2v2h-2zM289 9h2v2h-2zM291 9h2v2h-2zM303 9h2v2h-2zM305 9h2v2h-2zM311 9h2v2h-2zM315 9h2v2h-2zM243 11h2v2h-2zM247 11h2v2h-2zM269 11h2v2h-2zM271 11h2v2h-2zM293 11h2v2h-2zM295 11h2v2h-2zM309 11h2v2h-2zM311 11h2v2h-2zM267 13h2v2h-2zM271 13h2v2h-2zM289 13h2v2h-2zM293 13h2v2h-2zM311 13h2v2h-2zM245 15h2v2h-2zM259 15h2v2h-2zM287 15h2v2h-2zM293 15h2v2h-2zM321 15h2v2h-2zM249 17h2v2h-2zM277 17h2v2h-2zM281 17h2v2h-2zM283 17h2v2h-2zM293 17h2v2h-2zM303 17h2v2h-2zM311 17h2v2h-2zM313 17h2v2h-2zM319 17h2v2h-2zM327 17h2v2h-2zM253 19h2v2h-2zM259 19h2v2h-2zM277 19h2v2h-2zM291 19h2v2h-2zM297 19h2v2h-2zM307 19h2v2h-2zM309 19h2v2h-2zM315 19h2v2h-2zM319 19h2v2h-2zM235 21h2v2h-2zM239 21h2v2h-2zM251 21h2v2h-2zM255 21h2v2h-2zM257 21h2v2h-2zM259 21h2v2h-2zM263 21h2v2h-2zM277 21h2v2h-2zM285 21h2v2h-2zM299 21h2v2h-2zM307 21h2v2h-2zM309 21h2v2h-2zM313 21h2v2h-2zM321 21h2v2h-2zM329 21h2v2h-2zM331 21h2v2h-2zM251 23h2v2h-2zM257 23h2v2h-2zM271 23h2v2h-2zM273 23h2v2h-2zM285 23h2v2h-2zM287 23h2v2h-2zM291 23h2v2h-2zM297 23h2v2h-2zM309 23h2v2h-2zM311 23h2v2h-2zM313 23h2v2h-2zM251 25h2v2h-2zM253 25h2v2h-2zM275 25h2v2h-2zM289 25h2v2h-2zM293 25h2v2h-2zM299 25h2v2h-2zM305 25h2v2h-2zM307 25h2v2h-2zM315 25h2v2h-2zM319 25h2v2h-2zM331 25h2v2h-2zM263 27h2v2h-2zM271 27h2v2h-2zM273 27h2v2h-2zM299 27h2v2h-2zM305 27h2v2h-2zM315 27h2v2h-2zM321 27h2v2h-2zM331 27h2v2h-2zM337 27h2v2h-2zM259 29h2v2h-2zM263 29h2v2h-2zM269 29h2v2h-2zM271 29h2v2h-2zM303 29h2v2h-2zM305 29h2v2h-2zM327 29h2v2h-2zM331 29h2v2h-2zM335 29h2v2h-2zM257 31h2v2h-2zM265 31h2v2h-2zM269 31h2v2h-2zM297 31h2v2h-2zM309 31h2v2h-2zM317 31h2v2h-2zM325 31h2v2h-2zM327 31h2v2h-2zM329 31h2v2h-2zM339 31h2v2h-2zM341 31h2v2h-2zM261 33h2v2h-2zM301 33h2v2h-2zM303 33h2v2h-2zM311 33h2v2h-2zM325 33h2v2h-2zM331 33h2v2h-2zM335 33h2v2h-2zM339 33h2v2h-2zM341 33h2v2h-2zM249 35h2v2h-2zM251 35h2v2h-2zM255 35h2v2h-2zM257 35h2v2h-2zM259 35h2v2h-2zM291 35h2v2h-2zM301 35h2v2h-2zM303 35h2v2h-2zM317 35h2v2h-2zM337 35h2v2h-2zM343 35h2v2h-2zM251 37h2v2h-2zM259 37h2v2h-2zM261 37h2v2h-2zM263 37h2v2h-2zM285 37h2v2h-2zM293 37h2v2h-2zM299 37h2v2h-2zM303 37h2v2h-2zM305 37h2v2h-2zM309 37h2v2h-2zM311 37h2v2h-2zM247 39h2v2h-2zM255 39h2v2h-2zM257 39h2v2h-2zM259 39h2v2h-2zM287 39h2v2h-2zM289 39h2v2h-2zM297 39h2v2h-2zM333 39h2v2h-2zM339 39h2v2h-2zM341 39h2v2h-2zM245 41h2v2h-2zM247 41h2v2h-2zM261 41h2v2h-2zM281 41h2v2h-2zM291 41h2v2h-2zM327 41h2v2h-2zM339 41h2v2h-2zM243 43h2v2h-2zM247 43h2v2h-2zM249 43h2v2h-2zM255 43h2v2h-2zM257 43h2v2h-2zM259 43h2v2h-2zM279 43h2v2h-2zM281 43h2v2h-2zM303 43h2v2h-2zM305 43h2v2h-2zM341 43h2v2h-2zM247 45h2v2h-2zM249 45h2v2h-2zM255 45h2v2h-2zM259 45h2v2h-2zM261 45h2v2h-2zM281 45h2v2h-2zM283 45h2v2h-2zM289 45h2v2h-2zM291 45h2v2h-2zM293 45h2v2h-2zM295 45h2v2h-2zM297 45h2v2h-2zM331 45h2v2h-2zM337 45h2v2h-2zM339 45h2v2h-2zM239 47h2v2h-2zM259 47h2v2h-2zM261 47h2v2h-2zM265 47h2v2h-2zM269 47h2v2h-2zM271 47h2v2h-2zM273 47h2v2h-2zM279 47h2v2h-2zM285 47h2v2h-2zM291 47h2v2h-2zM293 47h2v2h-2zM295 47h2v2h-2zM297 47h2v2h-2zM299 47h2v2h-2zM309 47h2v2h-2zM327 47h2v2h-2zM329 47h2v2h-2zM343 47h2v2h-2zM253 49h2v2h-2zM261 49h2v2h-2zM263 49h2v2h-2zM273 49h2v2h-2zM275 49h2v2h-2zM289 49h2v2h-2zM291 49h2v2h-2zM293 49h2v2h-2zM295 49h2v2h-2zM297 49h2v2h-2zM299 49h2v2h-2zM301 49h2v2h-2zM307 49h2v2h-2zM311 49h2v2h-2zM313 49h2v2h-2zM327 49h2v2h-2zM331 49h2v2h-2zM335 49h2v2h-2zM253 51h2v2h-2zM255 51h2v2h-2zM263 51h2v2h-2zM267 51h2v2h-2zM273 51h2v2h-2zM277 51h2v2h-2zM283 51h2v2h-2zM297 51h2v2h-2zM305 51h2v2h-2zM309 51h2v2h-2zM311 51h2v2h-2zM313 51h2v2h-2zM315 51h2v2h-2zM323 51h2v2h-2zM327 51h2v2h-2zM329 51h2v2h-2zM337 51h2v2h-2zM339 51h2v2h-2zM235 53h2v2h-2zM255 53h2v2h-2zM279 53h2v2h-2zM283 53h2v2h-2zM297 53h2v2h-2zM311 53h2v2h-2zM313 53h2v2h-2zM317 53h2v2h-2zM325 53h2v2h-2zM327 53h2v2h-2zM329 53h2v2h-2zM333 53h2v2h-2zM335 53h2v2h-2zM337 53h2v2h-2zM339 53h2v2h-2zM235 55h2v2h-2zM239 55h2v2h-2zM251 55h2v2h-2zM259 55h2v2h-2zM263 55h2v2h-2zM265 55h2v2h-2zM267 55h2v2h-2zM279 55h2v2h-2zM285 55h2v2h-2zM293 55h2v2h-2zM301 55h2v2h-2zM311 55h2v2h-2zM313 55h2v2h-2zM325 55h2v2h-2zM333 55h2v2h-2zM345 55h1v2h-1zM253 57h2v2h-2zM259 57h2v2h-2zM265 57h2v2h-2zM279 57h2v2h-2zM287 57h2v2h-2zM289 57h2v2h-2zM291 57h2v2h-2zM297 57h2v2h-2zM305 57h2v2h-2zM313 57h2v2h-2zM319 57h2v2h-2zM323 57h2v2h-2zM325 57h2v2h-2zM331 57h2v2h-2zM335 57h2v2h-2zM337 57h2v2h-2zM343 57h2v2h-2zM255 59h2v2h-2zM261 59h2v2h-2zM265 59h2v2h-2zM277 59h2v2h-2zM279 59h2v2h-2zM285 59h2v2h-2zM299 59h2v2h-2zM341 59h2v2h-2zM249 61h2v2h-2zM261 61h2v2h-2zM265 61h2v2h-2zM277 61h2v2h-2zM285 61h2v2h-2zM289 61h2v2h-2zM303 61h2v2h-2zM309 61h2v2h-2zM345 61h1v2h-1zM249 63h2v2h-2zM255 63h2v2h-2zM259 63h2v2h-2zM269 63h2v2h-2zM271 63h2v2h-2zM287 63h2v2h-2zM293 63h2v2h-2zM299 63h2v2h-2zM313 63h2v2h-2zM315 63h2v2h-2zM235 65h2v2h-2zM261 65h2v2h-2zM265 65h2v2h-2zM279 65h2v2h-2zM289 65h2v2h-2zM291 65h2v2h-2zM305 65h2v2h-2zM319 65h2v2h-2zM339 65h2v2h-2zM257 67h2v2h-2zM259 67h2v2h-2zM261 67h2v2h-2zM263 67h2v2h-2zM269 67h2v2h-2zM275 67h2v2h-2zM277 67h2v2h-2zM279 67h2v2h-2zM281 67h2v2h-2zM283 67h2v2h-2zM289 67h2v2h-2zM291 67h2v2h-2zM297 67h2v2h-2zM299 67h2v2h-2zM313 67h2v2h-2zM317 67h2v2h-2zM339 67h2v2h-2zM243 69h2v2h-2zM245 69h2v2h-2zM251 69h2v2h-2zM277 69h2v2h-2zM279 69h2v2h-2zM337 69h2v2h-2zM339 69h2v2h-2zM243 71h2v2h-2zM247 71h2v2h-2zM249 71h2v2h-2zM255 71h2v2h-2zM269 71h2v2h-2zM341 71h2v2h-2zM343 71h2v2h-2zM235 73h2v2h-2zM243 73h2v2h-2zM253 73h2v2h-2zM255 73h2v2h-2zM257 73h2v2h-2zM295 73h2v2h-2zM297 73h2v2h-2zM323 73h2v2h-2zM241 75h2v2h-2zM247 75h2v2h-2zM253 75h2v2h-2zM257 75h2v2h-2zM267 75h2v2h-2zM279 75h2v2h-2zM281 75h2v2h-2zM237 77h2v2h-2zM239 77h2v2h-2zM243 77h2v2h-2zM249 77h2v2h-2zM263 77h2v2h-2zM267 77h2v2h-2zM279 77h2v2h-2zM283 77h2v2h-2zM345 77h1v2h-1zM235 79h2v2h-2zM237 79h2v2h-2zM243 79h2v2h-2zM247 79h2v2h-2zM249 79h2v2h-2zM257 79h2v2h-2zM259 79h2v2h-2zM261 79h2v2h-2zM267 79h2v2h-2zM269 79h2v2h-2zM279 79h2v2h-2zM283 79h2v2h-2zM291 79h2v2h-2zM305 79h2v2h-2zM325 79h2v2h-2zM249 81h2v2h-2zM251 81h2v2h-2zM255 81h2v2h-2zM261 81h2v2h-2zM265 81h2v2h-2zM273 81h2v2h-2zM279 81h2v2h-2zM281 81h2v2h-2zM283 81h2v2h-2zM293 81h2v2h-2zM297 81h2v2h-2zM299 81h2v2h-2zM301 81h2v2h-2zM309 81h2v2h-2zM313 81h2v2h-2zM319 81h2v2h-2zM243 83h2v2h-2zM255 83h2v2h-2zM267 83h2v2h-2zM275 83h2v2h-2zM279 83h2v2h-2zM283 83h2v2h-2zM289 83h2v2h-2zM291 83h2v2h-2zM295 83h2v2h-2zM309 83h2v2h-2zM319 83h2v2h-2zM323 83h2v2h-2zM255 85h2v2h-2zM273 85h2v2h-2zM283 85h2v2h-2zM285 85h2v2h-2zM297 85h2v2h-2zM311 85h2v2h-2zM319 85h2v2h-2zM329 85h2v2h-2zM345 85h1v2h-1zM243 87h2v2h-2zM249 87h2v2h-2zM263 87h2v2h-2zM267 87h2v2h-2zM273 87h2v2h-2zM275 87h2v2h-2zM279 87h2v2h-2zM281 87h2v2h-2zM285 87h2v2h-2zM287 87h2v2h-2zM307 87h2v2h-2zM309 87h2v2h-2zM311 87h2v2h-2zM321 87h2v2h-2zM345 87h1v2h-1zM243 89h2v2h-2zM249 89h2v2h-2zM251 89h2v2h-2zM261 89h2v2h-2zM267 89h2v2h-2zM269 89h2v2h-2zM281 89h2v2h-2zM289 89h2v2h-2zM295 89h2v2h-2zM305 89h2v2h-2zM309 89h2v2h-2zM321 89h2v2h-2zM325 89h2v2h-2zM245 91h2v2h-2zM247 91h2v2h-2zM251 91h2v2h-2zM253 91h2v2h-2zM255 91h2v2h-2zM261 91h2v2h-2zM267 91h2v2h-2zM293 91h2v2h-2zM305 91h2v2h-2zM309 91h2v2h-2zM313 91h2v2h-2zM315 91h2v2h-2zM321 91h2v2h-2zM323 91h2v2h-2zM327 91h2v2h-2zM247 93h2v2h-2zM253 93h2v2h-2zM263 93h2v2h-2zM265 93h2v2h-2zM267 93h2v2h-2zM269 93h2v2h-2zM273 93h2v2h-2zM277 93h2v2h-2zM285 93h2v2h-2zM289 93h2v2h-2zM311 93h2v2h-2zM317 93h2v2h-2zM335 93h2v2h-2zM341 93h2v2h-2zM245 95h2v2h-2zM247 95h2v2h-2zM249 95h2v2h-2zM251 95h2v2h-2zM259 95h2v2h-2zM269 95h2v2h-2zM271 95h2v2h-2zM315 95h2v2h-2zM321 95h2v2h-2zM323 95h2v2h-2zM343 95h2v2h-2zM345 95h1v2h-1zM309 97h2v2h-2zM317 97h2v2h-2zM321 97h2v2h-2zM323 97h2v2h-2zM325 97h2v2h-2zM327 97h2v2h-2zM333 97h2v2h-2zM341 97h2v2h-2zM343 97h2v2h-2zM251 99h2v2h-2zM259 99h2v2h-2zM271 99h2v2h-2zM321 99h2v2h-2zM329 99h2v2h-2zM331 99h2v2h-2zM253 101h2v2h-2zM255 101h2v2h-2zM259 101h2v2h-2zM263 101h2v2h-2zM273 101h2v2h-2zM287 101h2v2h-2zM317 101h2v2h-2zM321 101h2v2h-2zM323 101h2v2h-2zM333 101h2v2h-2zM341 101h2v2h-2zM345 101h1v2h-1zM257 103h2v2h-2zM259 103h2v2h-2zM279 103h2v2h-2zM281 103h2v2h-2zM287 103h2v2h-2zM311 103h2v2h-2zM313 103h2v2h-2zM315 103h2v2h-2zM321 103h2v2h-2zM329 103h2v2h-2zM337 103h2v2h-2zM339 103h2v2h-2zM343 103h2v2h-2zM345 103h1v2h-1zM249 105h2v2h-2zM259 105h2v2h-2zM281 105h2v2h-2zM283 105h2v2h-2zM309 105h2v2h-2zM311 105h2v2h-2zM315 105h2v2h-2zM339 105h2v2h-2zM341 105h2v2h-2zM345 105h1v2h-1zM255 107h2v2h-2zM267 107h2v2h-2zM279 107h2v2h-2zM281 107h2v2h-2zM283 107h2v2h-2zM285 107h2v2h-2zM307 107h2v2h-2zM309 107h2v2h-2zM311 107h2v2h-2zM321 107h2v2h-2zM323 107h2v2h-2zM327 107h2v2h-2zM245 109h2v2h-2zM249 109h2v2h-2zM251 109h2v2h-2zM253 109h2v2h-2zM255 109h2v2h-2zM259 109h2v2h-2zM269 109h2v2h-2zM279 109h2v2h-2zM281 109h2v2h-2zM323 109h2v2h-2zM327 109h2v2h-2zM329 109h2v2h-2zM337 109h2v2h-2zM245 111h2v1h-2zM247 111h2v1h-2zM249 111h2v1h-2zM253 111h2v1h-2zM263 111h2v1h-2zM265 111h2v1h-2zM267 111h2v1h-2zM271 111h2v1h-2zM281 111h2v1h-2zM287 111h2v1h-2zM323 111h2v1h-2zM327 111h2v1h-2z"/>
<path fill="#a2a2a2" d="M237 1h2v2h-2zM241 1h2v2h-2zM243 1h2v2h-2zM265 1h2v2h-2zM267 1h2v2h-2zM269 1h2v2h-2zM273 1h2v2h-2zM303 1h2v2h-2zM309 1h2v2h-2zM315 1h2v2h-2zM237 3h2v2h-2zM251 3h2v2h-2zM253 3h2v2h-2zM255 3h2v2h-2zM265 3h2v2h-2zM291 3h2v2h-2zM315 3h2v2h-2zM241 5h2v2h-2zM251 5h2v2h-2zM253 5h2v2h-2zM257 5h2v2h-2zM273 5h2v2h-2zM277 5h2v2h-2zM305 5h2v2h-2zM237 7h2v2h-2zM239 7h2v2h-2zM249 7h2v2h-2zM251 7h2v2h-2zM259 7h2v2h-2zM265 7h2v2h-2zM287 7h2v2h-2zM289 7h2v2h-2zM249 9h2v2h-2zM257 9h2v2h-2zM259 9h2v2h-2zM265 9h2v2h-2zM283 9h2v2h-2zM295 9h2v2h-2zM259 11h2v2h-2zM261 11h2v2h-2zM273 11h2v2h-2zM275 11h2v2h-2zM277 11h2v2h-2zM279 11h2v2h-2zM287 11h2v2h-2zM289 11h2v2h-2zM291 11h2v2h-2zM245 13h2v2h-2zM247 13h2v2h-2zM259 13h2v2h-2zM291 13h2v2h-2zM323 13h2v2h-2zM249 15h2v2h-2zM261 15h2v2h-2zM269 15h2v2h-2zM279 15h2v2h-2zM289 15h2v2h-2zM291 15h2v2h-2zM301 15h2v2h-2zM303 15h2v2h-2zM305 15h2v2h-2zM311 15h2v2h-2zM259 17h2v2h-2zM279 17h2v2h-2zM289 17h2v2h-2zM291 17h2v2h-2zM321 17h2v2h-2zM325 17h2v2h-2zM251 19h2v2h-2zM261 19h2v2h-2zM267 19h2v2h-2zM279 19h2v2h-2zM283 19h2v2h-2zM285 19h2v2h-2zM301 19h2v2h-2zM313 19h2v2h-2zM321 19h2v2h-2zM327 19h2v2h-2zM329 19h2v2h-2zM279 21h2v2h-2zM281 21h2v2h-2zM289 21h2v2h-2zM311 21h2v2h-2zM325 21h2v2h-2zM327 21h2v2h-2zM239 23h2v2h-2zM241 23h2v2h-2zM277 23h2v2h-2zM289 23h2v2h-2zM295 23h2v2h-2zM327 23h2v2h-2zM255 25h2v2h-2zM267 25h2v2h-2zM269 25h2v2h-2zM273 25h2v2h-2zM335 25h2v2h-2zM253 27h2v2h-2zM267 27h2v2h-2zM291 27h2v2h-2zM295 27h2v2h-2zM323 27h2v2h-2zM333 27h2v2h-2zM341 27h2v2h-2zM267 29h2v2h-2zM273 29h2v2h-2zM277 29h2v2h-2zM299 29h2v2h-2zM323 29h2v2h-2zM341 29h2v2h-2zM343 29h2v2h-2zM263 31h2v2h-2zM267 31h2v2h-2zM275 31h2v2h-2zM291 31h2v2h-2zM295 31h2v2h-2zM299 31h2v2h-2zM301 31h2v2h-2zM305 31h2v2h-2zM307 31h2v2h-2zM319 31h2v2h-2zM321 31h2v2h-2zM323 31h2v2h-2zM335 31h2v2h-2zM337 31h2v2h-2zM267 33h2v2h-2zM271 33h2v2h-2zM277 33h2v2h-2zM297 33h2v2h-2zM299 33h2v2h-2zM305 33h2v2h-2zM307 33h2v2h-2zM315 33h2v2h-2zM319 33h2v2h-2zM321 33h2v2h-2zM323 33h2v2h-2zM327 33h2v2h-2zM333 33h2v2h-2zM343 33h2v2h-2zM275 35h2v2h-2zM277 35h2v2h-2zM279 35h2v2h-2zM289 35h2v2h-2zM295 35h2v2h-2zM313 35h2v2h-2zM319 35h2v2h-2zM329 35h2v2h-2zM339 35h2v2h-2zM341 35h2v2h-2zM253 37h2v2h-2zM279 37h2v2h-2zM281 37h2v2h-2zM307 37h2v2h-2zM313 37h2v2h-2zM321 37h2v2h-2zM345 37h1v2h-1zM261 39h2v2h-2zM263 39h2v2h-2zM275 39h2v2h-2zM279 39h2v2h-2zM281 39h2v2h-2zM283 39h2v2h-2zM291 39h2v2h-2zM293 39h2v2h-2zM295 39h2v2h-2zM307 39h2v2h-2zM309 39h2v2h-2zM311 39h2v2h-2zM313 39h2v2h-2zM345 39h1v2h-1zM275 41h2v2h-2zM279 41h2v2h-2zM283 41h2v2h-2zM293 41h2v2h-2zM305 41h2v2h-2zM311 41h2v2h-2zM345 41h1v2h-1zM245 43h2v2h-2zM261 43h2v2h-2zM263 43h2v2h-2zM283 43h2v2h-2zM287 43h2v2h-2zM289 43h2v2h-2zM309 43h2v2h-2zM323 43h2v2h-2zM335 43h2v2h-2zM243 45h2v2h-2zM245 45h2v2h-2zM251 45h2v2h-2zM253 45h2v2h-2zM279 45h2v2h-2zM285 45h2v2h-2zM303 45h2v2h-2zM307 45h2v2h-2zM327 45h2v2h-2zM249 47h2v2h-2zM251 47h2v2h-2zM263 47h2v2h-2zM275 47h2v2h-2zM283 47h2v2h-2zM287 47h2v2h-2zM289 47h2v2h-2zM311 47h2v2h-2zM337 47h2v2h-2zM341 47h2v2h-2zM237 49h2v2h-2zM239 49h2v2h-2zM241 49h2v2h-2zM249 49h2v2h-2zM251 49h2v2h-2zM255 49h2v2h-2zM257 49h2v2h-2zM259 49h2v2h-2zM267 49h2v2h-2zM281 49h2v2h-2zM283 49h2v2h-2zM287 49h2v2h-2zM303 49h2v2h-2zM339 49h2v2h-2zM341 49h2v2h-2zM343 49h2v2h-2zM237 51h2v2h-2zM251 51h2v2h-2zM261 51h2v2h-2zM281 51h2v2h-2zM287 51h2v2h-2zM289 51h2v2h-2zM291 51h2v2h-2zM295 51h2v2h-2zM299 51h2v2h-2zM301 51h2v2h-2zM303 51h2v2h-2zM317 51h2v2h-2zM319 51h2v2h-2zM321 51h2v2h-2zM343 51h2v2h-2zM245 53h2v2h-2zM257 53h2v2h-2zM259 53h2v2h-2zM299 53h2v2h-2zM321 53h2v2h-2zM343 53h2v2h-2zM241 55h2v2h-2zM255 55h2v2h-2zM287 55h2v2h-2zM291 55h2v2h-2zM299 55h2v2h-2zM303 55h2v2h-2zM305 55h2v2h-2zM317 55h2v2h-2zM321 55h2v2h-2zM323 55h2v2h-2zM329 55h2v2h-2zM235 57h2v2h-2zM237 57h2v2h-2zM241 57h2v2h-2zM243 57h2v2h-2zM249 57h2v2h-2zM255 57h2v2h-2zM257 57h2v2h-2zM263 57h2v2h-2zM303 57h2v2h-2zM307 57h2v2h-2zM309 57h2v2h-2zM311 57h2v2h-2zM327 57h2v2h-2zM339 57h2v2h-2zM243 59h2v2h-2zM249 59h2v2h-2zM267 59h2v2h-2zM275 59h2v2h-2zM289 59h2v2h-2zM301 59h2v2h-2zM303 59h2v2h-2zM305 59h2v2h-2zM311 59h2v2h-2zM313 59h2v2h-2zM319 59h2v2h-2zM321 59h2v2h-2zM323 59h2v2h-2zM325 59h2v2h-2zM327 59h2v2h-2zM333 59h2v2h-2zM337 59h2v2h-2zM237 61h2v2h-2zM243 61h2v2h-2zM257 61h2v2h-2zM259 61h2v2h-2zM301 61h2v2h-2zM305 61h2v2h-2zM311 61h2v2h-2zM313 61h2v2h-2zM317 61h2v2h-2zM329 61h2v2h-2zM339 61h2v2h-2zM237 63h2v2h-2zM241 63h2v2h-2zM261 63h2v2h-2zM263 63h2v2h-2zM267 63h2v2h-2zM273 63h2v2h-2zM277 63h2v2h-2zM283 63h2v2h-2zM307 63h2v2h-2zM317 63h2v2h-2zM335 63h2v2h-2zM341 63h2v2h-2zM253 65h2v2h-2zM287 65h2v2h-2zM303 65h2v2h-2zM315 65h2v2h-2zM321 65h2v2h-2zM335 65h2v2h-2zM345 65h1v2h-1zM243 67h2v2h-2zM265 67h2v2h-2zM295 67h2v2h-2zM301 67h2v2h-2zM315 67h2v2h-2zM321 67h2v2h-2zM335 67h2v2h-2zM345 67h1v2h-1zM299 69h2v2h-2zM309 69h2v2h-2zM315 69h2v2h-2zM317 69h2v2h-2zM321 69h2v2h-2zM323 69h2v2h-2zM335 69h2v2h-2zM235 71h2v2h-2zM257 71h2v2h-2zM263 71h2v2h-2zM267 71h2v2h-2zM315 71h2v2h-2zM321 71h2v2h-2zM327 71h2v2h-2zM339 71h2v2h-2zM249 73h2v2h-2zM259 73h2v2h-2zM261 73h2v2h-2zM267 73h2v2h-2zM269 73h2v2h-2zM271 73h2v2h-2zM313 73h2v2h-2zM315 73h2v2h-2zM325 73h2v2h-2zM327 73h2v2h-2zM333 73h2v2h-2zM335 73h2v2h-2zM341 73h2v2h-2zM343 73h2v2h-2zM237 75h2v2h-2zM265 75h2v2h-2zM299 75h2v2h-2zM303 75h2v2h-2zM317 75h2v2h-2zM339 75h2v2h-2zM341 75h2v2h-2zM235 77h2v2h-2zM265 77h2v2h-2zM277 77h2v2h-2zM291 77h2v2h-2zM293 77h2v2h-2zM299 77h2v2h-2zM303 77h2v2h-2zM323 77h2v2h-2zM239 79h2v2h-2zM241 79h2v2h-2zM251 79h2v2h-2zM253 79h2v2h-2zM285 79h2v2h-2zM299 79h2v2h-2zM301 79h2v2h-2zM311 79h2v2h-2zM317 79h2v2h-2zM319 79h2v2h-2zM335 79h2v2h-2zM339 79h2v2h-2zM239 81h2v2h-2zM285 81h2v2h-2zM295 81h2v2h-2zM307 81h2v2h-2zM317 81h2v2h-2zM329 81h2v2h-2zM337 81h2v2h-2zM341 81h2v2h-2zM239 83h2v2h-2zM245 83h2v2h-2zM251 83h2v2h-2zM265 83h2v2h-2zM281 83h2v2h-2zM285 83h2v2h-2zM307 83h2v2h-2zM313 83h2v2h-2zM317 83h2v2h-2zM345 83h1v2h-1zM241 85h2v2h-2zM243 85h2v2h-2zM277 85h2v2h-2zM281 85h2v2h-2zM291 85h2v2h-2zM301 85h2v2h-2zM315 85h2v2h-2zM327 85h2v2h-2zM251 87h2v2h-2zM269 87h2v2h-2zM271 87h2v2h-2zM283 87h2v2h-2zM291 87h2v2h-2zM295 87h2v2h-2zM323 87h2v2h-2zM325 87h2v2h-2zM255 89h2v2h-2zM265 89h2v2h-2zM275 89h2v2h-2zM277 89h2v2h-2zM279 89h2v2h-2zM291 89h2v2h-2zM333 89h2v2h-2zM341 89h2v2h-2zM345 89h1v2h-1zM243 91h2v2h-2zM263 91h2v2h-2zM269 91h2v2h-2zM271 91h2v2h-2zM281 91h2v2h-2zM289 91h2v2h-2zM343 91h2v2h-2zM283 93h2v2h-2zM315 93h2v2h-2zM331 93h2v2h-2zM333 93h2v2h-2zM339 93h2v2h-2zM273 95h2v2h-2zM287 95h2v2h-2zM309 95h2v2h-2zM311 95h2v2h-2zM327 95h2v2h-2zM341 95h2v2h-2zM245 97h2v2h-2zM249 97h2v2h-2zM253 97h2v2h-2zM261 97h2v2h-2zM267 97h2v2h-2zM269 97h2v2h-2zM271 97h2v2h-2zM289 97h2v2h-2zM307 97h2v2h-2zM311 97h2v2h-2zM313 97h2v2h-2zM315 97h2v2h-2zM319 97h2v2h-2zM337 97h2v2h-2zM339 97h2v2h-2zM257 99h2v2h-2zM261 99h2v2h-2zM275 99h2v2h-2zM287 99h2v2h-2zM289 99h2v2h-2zM311 99h2v2h-2zM313 99h2v2h-2zM317 99h2v2h-2zM323 99h2v2h-2zM325 99h2v2h-2zM333 99h2v2h-2zM339 99h2v2h-2zM341 99h2v2h-2zM343 99h2v2h-2zM345 99h1v2h-1zM247 101h2v2h-2zM257 101h2v2h-2zM269 101h2v2h-2zM277 101h2v2h-2zM281 101h2v2h-2zM285 101h2v2h-2zM289 101h2v2h-2zM293 101h2v2h-2zM311 101h2v2h-2zM315 101h2v2h-2zM331 101h2v2h-2zM335 101h2v2h-2zM337 101h2v2h-2zM339 101h2v2h-2zM343 101h2v2h-2zM255 103h2v2h-2zM277 103h2v2h-2zM285 103h2v2h-2zM289 103h2v2h-2zM291 103h2v2h-2zM319 103h2v2h-2zM331 103h2v2h-2zM333 103h2v2h-2zM255 105h2v2h-2zM263 105h2v2h-2zM277 105h2v2h-2zM279 105h2v2h-2zM287 105h2v2h-2zM295 105h2v2h-2zM317 105h2v2h-2zM319 105h2v2h-2zM331 105h2v2h-2zM343 105h2v2h-2zM243 107h2v2h-2zM245 107h2v2h-2zM247 107h2v2h-2zM277 107h2v2h-2zM293 107h2v2h-2zM303 107h2v2h-2zM317 107h2v2h-2zM329 107h2v2h-2zM339 107h2v2h-2zM247 109h2v2h-2zM271 109h2v2h-2zM283 109h2v2h-2zM293 109h2v2h-2zM311 109h2v2h-2zM315 109h2v2h-2zM317 109h2v2h-2zM325 109h2v2h-2zM331 109h2v2h-2zM339 109h2v2h-2zM251 111h2v1h-2zM259 111h2v1h-2zM261 111h2v1h-2zM269 111h2v1h-2zM275 111h2v1h-2zM283 111h2v1h-2zM303 111h2v1h-2zM313 111h2v1h-2zM321 111h2v1h-2zM325 111h2v1h-2zM329 111h2v1h-2zM339 111h2v1h-2zM345 111h1v1h-1z"/>
<path fill="#b9b9b9" d="M239 1h2v2h-2zM259 1h2v2h-2zM263 1h2v2h-2zM271 1h2v2h-2zM311 1h2v2h-2zM317 1h2v2h-2zM239 3h2v2h-2zM245 3h2v2h-2zM257 3h2v2h-2zM261 3h2v2h-2zM289 3h2v2h-2zM305 3h2v2h-2zM319 3h2v2h-2zM255 5h2v2h-2zM267 5h2v2h-2zM283 5h2v2h-2zM317 5h2v2h-2zM319 5h2v2h-2zM321 5h2v2h-2zM241 7h2v2h-2zM255 7h2v2h-2zM295 7h2v2h-2zM321 7h2v2h-2zM323 7h2v2h-2zM243 9h2v2h-2zM245 9h2v2h-2zM267 9h2v2h-2zM321 9h2v2h-2zM249 11h2v2h-2zM257 11h2v2h-2zM265 11h2v2h-2zM285 11h2v2h-2zM325 11h2v2h-2zM249 13h2v2h-2zM257 13h2v2h-2zM265 13h2v2h-2zM281 13h2v2h-2zM287 13h2v2h-2zM255 15h2v2h-2zM267 15h2v2h-2zM283 15h2v2h-2zM285 15h2v2h-2zM323 15h2v2h-2zM325 15h2v2h-2zM327 15h2v2h-2zM329 15h2v2h-2zM331 15h2v2h-2zM251 17h2v2h-2zM257 17h2v2h-2zM261 17h2v2h-2zM285 17h2v2h-2zM287 17h2v2h-2zM299 17h2v2h-2zM315 17h2v2h-2zM323 17h2v2h-2zM257 19h2v2h-2zM263 19h2v2h-2zM287 19h2v2h-2zM289 19h2v2h-2zM299 19h2v2h-2zM335 19h2v2h-2zM283 21h2v2h-2zM333 21h2v2h-2zM335 21h2v2h-2zM265 23h2v2h-2zM279 23h2v2h-2zM323 23h2v2h-2zM337 23h2v2h-2zM271 25h2v2h-2zM279 25h2v2h-2zM285 25h2v2h-2zM287 25h2v2h-2zM287 27h2v2h-2zM289 27h2v2h-2zM339 27h2v2h-2zM275 29h2v2h-2zM273 31h2v2h-2zM343 31h2v2h-2zM289 33h2v2h-2zM295 33h2v2h-2zM261 35h2v2h-2zM267 35h2v2h-2zM269 35h2v2h-2zM271 35h2v2h-2zM297 35h2v2h-2zM305 35h2v2h-2zM323 35h2v2h-2zM255 37h2v2h-2zM265 37h2v2h-2zM275 37h2v2h-2zM277 37h2v2h-2zM315 37h2v2h-2zM277 39h2v2h-2zM285 39h2v2h-2zM305 39h2v2h-2zM323 39h2v2h-2zM325 39h2v2h-2zM263 41h2v2h-2zM285 41h2v2h-2zM295 41h2v2h-2zM323 41h2v2h-2zM277 43h2v2h-2zM285 43h2v2h-2zM291 43h2v2h-2zM293 43h2v2h-2zM345 43h1v2h-1zM263 45h2v2h-2zM269 45h2v2h-2zM271 45h2v2h-2zM317 45h2v2h-2zM333 45h2v2h-2zM335 45h2v2h-2zM243 47h2v2h-2zM245 47h2v2h-2zM247 47h2v2h-2zM253 47h2v2h-2zM255 47h2v2h-2zM339 47h2v2h-2zM345 47h1v2h-1zM243 49h2v2h-2zM245 49h2v2h-2zM247 49h2v2h-2zM315 49h2v2h-2zM317 49h2v2h-2zM319 49h2v2h-2zM321 49h2v2h-2zM323 49h2v2h-2zM325 49h2v2h-2zM239 51h2v2h-2zM243 51h2v2h-2zM245 51h2v2h-2zM249 51h2v2h-2zM257 51h2v2h-2zM259 51h2v2h-2zM325 51h2v2h-2zM239 53h2v2h-2zM251 53h2v2h-2zM289 53h2v2h-2zM319 53h2v2h-2zM243 55h2v2h-2zM295 55h2v2h-2zM331 55h2v2h-2zM239 57h2v2h-2zM267 57h2v2h-2zM275 57h2v2h-2zM237 59h2v2h-2zM263 59h2v2h-2zM287 59h2v2h-2zM307 59h2v2h-2zM309 59h2v2h-2zM241 61h2v2h-2zM245 61h2v2h-2zM263 61h2v2h-2zM287 61h2v2h-2zM307 61h2v2h-2zM321 61h2v2h-2zM323 61h2v2h-2zM325 61h2v2h-2zM327 61h2v2h-2zM331 61h2v2h-2zM337 61h2v2h-2zM265 63h2v2h-2zM325 63h2v2h-2zM339 63h2v2h-2zM237 65h2v2h-2zM263 65h2v2h-2zM309 65h2v2h-2zM341 65h2v2h-2zM235 67h2v2h-2zM245 67h2v2h-2zM251 67h2v2h-2zM253 67h2v2h-2zM311 67h2v2h-2zM333 67h2v2h-2zM343 67h2v2h-2zM259 69h2v2h-2zM267 69h2v2h-2zM313 69h2v2h-2zM325 69h2v2h-2zM329 69h2v2h-2zM299 71h2v2h-2zM309 71h2v2h-2zM331 71h2v2h-2zM337 71h2v2h-2zM251 73h2v2h-2zM299 73h2v2h-2zM305 73h2v2h-2zM309 73h2v2h-2zM311 73h2v2h-2zM329 73h2v2h-2zM331 73h2v2h-2zM337 73h2v2h-2zM339 73h2v2h-2zM235 75h2v2h-2zM245 75h2v2h-2zM249 75h2v2h-2zM251 75h2v2h-2zM255 75h2v2h-2zM263 75h2v2h-2zM319 75h2v2h-2zM321 75h2v2h-2zM325 75h2v2h-2zM343 75h2v2h-2zM251 77h2v2h-2zM295 77h2v2h-2zM297 77h2v2h-2zM311 77h2v2h-2zM313 77h2v2h-2zM315 77h2v2h-2zM321 77h2v2h-2zM333 77h2v2h-2zM335 77h2v2h-2zM337 77h2v2h-2zM339 77h2v2h-2zM293 79h2v2h-2zM295 79h2v2h-2zM307 79h2v2h-2zM309 79h2v2h-2zM315 79h2v2h-2zM321 79h2v2h-2zM323 79h2v2h-2zM329 79h2v2h-2zM331 79h2v2h-2zM341 79h2v2h-2zM343 79h2v2h-2zM345 79h1v2h-1zM315 81h2v2h-2zM327 81h2v2h-2zM331 81h2v2h-2zM333 81h2v2h-2zM335 81h2v2h-2zM339 81h2v2h-2zM343 81h2v2h-2zM345 81h1v2h-1zM237 83h2v2h-2zM253 83h2v2h-2zM263 83h2v2h-2zM303 83h2v2h-2zM329 83h2v2h-2zM331 83h2v2h-2zM333 83h2v2h-2zM339 83h2v2h-2zM341 83h2v2h-2zM235 85h2v2h-2zM237 85h2v2h-2zM239 85h2v2h-2zM279 85h2v2h-2zM293 85h2v2h-2zM295 85h2v2h-2zM307 85h2v2h-2zM333 85h2v2h-2zM343 85h2v2h-2zM239 87h2v2h-2zM241 87h2v2h-2zM253 87h2v2h-2zM293 87h2v2h-2zM297 87h2v2h-2zM301 87h2v2h-2zM327 87h2v2h-2zM329 87h2v2h-2zM331 87h2v2h-2zM333 87h2v2h-2zM335 87h2v2h-2zM235 89h2v2h-2zM263 89h2v2h-2zM271 89h2v2h-2zM273 89h2v2h-2zM301 89h2v2h-2zM307 89h2v2h-2zM327 89h2v2h-2zM329 89h2v2h-2zM339 89h2v2h-2zM275 91h2v2h-2zM277 91h2v2h-2zM279 91h2v2h-2zM295 91h2v2h-2zM303 91h2v2h-2zM329 91h2v2h-2zM331 91h2v2h-2zM333 91h2v2h-2zM337 91h2v2h-2zM243 93h2v2h-2zM279 93h2v2h-2zM281 93h2v2h-2zM291 93h2v2h-2zM293 93h2v2h-2zM313 93h2v2h-2zM243 95h2v2h-2zM261 95h2v2h-2zM277 95h2v2h-2zM279 95h2v2h-2zM283 95h2v2h-2zM285 95h2v2h-2zM289 95h2v2h-2zM313 95h2v2h-2zM285 97h2v2h-2zM335 97h2v2h-2zM247 99h2v2h-2zM265 99h2v2h-2zM269 99h2v2h-2zM277 99h2v2h-2zM283 99h2v2h-2zM285 99h2v2h-2zM291 99h2v2h-2zM309 99h2v2h-2zM337 99h2v2h-2zM267 101h2v2h-2zM279 101h2v2h-2zM283 101h2v2h-2zM291 101h2v2h-2zM269 103h2v2h-2zM271 103h2v2h-2zM283 103h2v2h-2zM297 103h2v2h-2zM299 103h2v2h-2zM301 103h2v2h-2zM243 105h2v2h-2zM247 105h2v2h-2zM271 105h2v2h-2zM289 105h2v2h-2zM293 105h2v2h-2zM297 105h2v2h-2zM305 105h2v2h-2zM307 105h2v2h-2zM241 107h2v2h-2zM271 107h2v2h-2zM273 107h2v2h-2zM275 107h2v2h-2zM291 107h2v2h-2zM301 107h2v2h-2zM305 107h2v2h-2zM331 107h2v2h-2zM333 107h2v2h-2zM243 109h2v2h-2zM275 109h2v2h-2zM287 109h2v2h-2zM289 109h2v2h-2zM291 109h2v2h-2zM295 109h2v2h-2zM301 109h2v2h-2zM303 109h2v2h-2zM319 109h2v2h-2zM335 109h2v2h-2zM345 109h1v2h-1zM243 111h2v1h-2zM289 111h2v1h-2zM291 111h2v1h-2zM295 111h2v1h-2zM301 111h2v1h-2zM307 111h2v1h-2zM309 111h2v1h-2zM315 111h2v1h-2zM317 111h2v1h-2zM319 111h2v1h-2zM331 111h2v1h-2zM333 111h2v1h-2zM335 111h2v1h-2zM337 111h2v1h-2zM341 111h2v1h-2z"/>
<path fill="#d0d0d0" d="M253 1h2v2h-2zM261 1h2v2h-2zM285 1h2v2h-2zM313 1h2v2h-2zM263 3h2v2h-2zM287 3h2v2h-2zM249 5h2v2h-2zM289 5h2v2h-2zM297 5h2v2h-2zM301 5h2v2h-2zM243 7h2v2h-2zM245 7h2v2h-2zM257 7h2v2h-2zM319 7h2v2h-2zM253 9h2v2h-2zM255 9h2v2h-2zM323 9h2v2h-2zM325 9h2v2h-2zM255 11h2v2h-2zM323 11h2v2h-2zM327 11h2v2h-2zM255 13h2v2h-2zM263 13h2v2h-2zM283 13h2v2h-2zM285 13h2v2h-2zM325 13h2v2h-2zM329 13h2v2h-2zM251 15h2v2h-2zM265 15h2v2h-2zM281 15h2v2h-2zM245 17h2v2h-2zM253 17h2v2h-2zM255 17h2v2h-2zM301 17h2v2h-2zM333 17h2v2h-2zM331 19h2v2h-2zM333 19h2v2h-2zM281 23h2v2h-2zM283 23h2v2h-2zM325 23h2v2h-2zM241 25h2v2h-2zM325 25h2v2h-2zM325 27h2v2h-2zM281 29h2v2h-2zM289 29h2v2h-2zM301 29h2v2h-2zM325 29h2v2h-2zM289 31h2v2h-2zM345 31h1v2h-1zM263 33h2v2h-2zM273 33h2v2h-2zM287 33h2v2h-2zM263 35h2v2h-2zM265 35h2v2h-2zM281 35h2v2h-2zM285 35h2v2h-2zM287 35h2v2h-2zM309 35h2v2h-2zM249 37h2v2h-2zM273 37h2v2h-2zM283 37h2v2h-2zM291 37h2v2h-2zM317 37h2v2h-2zM319 37h2v2h-2zM265 39h2v2h-2zM315 39h2v2h-2zM321 39h2v2h-2zM265 41h2v2h-2zM273 41h2v2h-2zM321 41h2v2h-2zM333 41h2v2h-2zM265 43h2v2h-2zM295 43h2v2h-2zM307 43h2v2h-2zM315 43h2v2h-2zM321 43h2v2h-2zM325 43h2v2h-2zM237 45h2v2h-2zM265 45h2v2h-2zM321 45h2v2h-2zM247 51h2v2h-2zM241 53h2v2h-2zM243 53h2v2h-2zM293 53h2v2h-2zM245 55h2v2h-2zM247 55h2v2h-2zM297 55h2v2h-2zM247 57h2v2h-2zM261 57h2v2h-2zM345 57h1v2h-1zM239 59h2v2h-2zM245 59h2v2h-2zM247 59h2v2h-2zM315 59h2v2h-2zM345 59h1v2h-1zM239 61h2v2h-2zM247 61h2v2h-2zM315 61h2v2h-2zM319 61h2v2h-2zM333 61h2v2h-2zM245 63h2v2h-2zM305 63h2v2h-2zM319 63h2v2h-2zM321 63h2v2h-2zM323 63h2v2h-2zM329 63h2v2h-2zM331 63h2v2h-2zM337 63h2v2h-2zM243 65h2v2h-2zM245 65h2v2h-2zM247 65h2v2h-2zM249 65h2v2h-2zM251 65h2v2h-2zM273 65h2v2h-2zM327 65h2v2h-2zM303 67h2v2h-2zM305 67h2v2h-2zM307 67h2v2h-2zM309 67h2v2h-2zM325 67h2v2h-2zM331 67h2v2h-2zM257 69h2v2h-2zM305 69h2v2h-2zM307 69h2v2h-2zM327 69h2v2h-2zM331 69h2v2h-2zM345 69h1v2h-1zM301 71h2v2h-2zM305 71h2v2h-2zM307 71h2v2h-2zM313 71h2v2h-2zM319 71h2v2h-2zM333 71h2v2h-2zM301 73h2v2h-2zM307 73h2v2h-2zM321 73h2v2h-2zM309 75h2v2h-2zM311 75h2v2h-2zM313 75h2v2h-2zM315 75h2v2h-2zM323 75h2v2h-2zM327 75h2v2h-2zM337 75h2v2h-2zM301 77h2v2h-2zM305 77h2v2h-2zM327 77h2v2h-2zM329 77h2v2h-2zM331 77h2v2h-2zM343 77h2v2h-2zM327 79h2v2h-2zM333 79h2v2h-2zM277 81h2v2h-2zM303 81h2v2h-2zM247 83h2v2h-2zM261 85h2v2h-2zM313 85h2v2h-2zM337 85h2v2h-2zM235 87h2v2h-2zM237 87h2v2h-2zM337 87h2v2h-2zM339 87h2v2h-2zM341 87h2v2h-2zM237 89h2v2h-2zM241 89h2v2h-2zM297 89h2v2h-2zM331 89h2v2h-2zM335 89h2v2h-2zM235 91h2v2h-2zM307 91h2v2h-2zM335 91h2v2h-2zM275 93h2v2h-2zM303 93h2v2h-2zM307 93h2v2h-2zM265 95h2v2h-2zM281 95h2v2h-2zM303 95h2v2h-2zM305 95h2v2h-2zM243 97h2v2h-2zM247 97h2v2h-2zM293 97h2v2h-2zM263 99h2v2h-2zM279 99h2v2h-2zM293 99h2v2h-2zM307 99h2v2h-2zM245 101h2v2h-2zM301 101h2v2h-2zM305 101h2v2h-2zM307 101h2v2h-2zM235 103h2v2h-2zM273 103h2v2h-2zM295 103h2v2h-2zM303 103h2v2h-2zM269 105h2v2h-2zM273 105h2v2h-2zM291 105h2v2h-2zM325 105h2v2h-2zM329 105h2v2h-2zM335 105h2v2h-2zM337 105h2v2h-2zM295 107h2v2h-2zM299 107h2v2h-2zM335 107h2v2h-2zM341 107h2v2h-2zM241 109h2v2h-2zM297 109h2v2h-2zM321 109h2v2h-2zM341 109h2v2h-2zM343 109h2v2h-2zM299 111h2v1h-2z"/>
<path fill="#e7e7e7" d="M251 1h2v2h-2zM287 5h2v2h-2zM275 9h2v2h-2zM251 11h2v2h-2zM303 11h2v2h-2zM305 11h2v2h-2zM251 13h2v2h-2zM253 13h2v2h-2zM327 13h2v2h-2zM247 15h2v2h-2zM263 15h2v2h-2zM313 15h2v2h-2zM235 17h2v2h-2zM263 17h2v2h-2zM265 17h2v2h-2zM307 17h2v2h-2zM249 19h2v2h-2zM265 19h2v2h-2zM291 21h2v2h-2zM307 23h2v2h-2zM321 23h2v2h-2zM263 25h2v2h-2zM281 25h2v2h-2zM337 25h2v2h-2zM339 25h2v2h-2zM275 27h2v2h-2zM309 27h2v2h-2zM279 29h2v2h-2zM287 29h2v2h-2zM295 29h2v2h-2zM251 31h2v2h-2zM259 31h2v2h-2zM279 31h2v2h-2zM303 31h2v2h-2zM279 33h2v2h-2zM285 33h2v2h-2zM291 33h2v2h-2zM273 35h2v2h-2zM307 35h2v2h-2zM311 35h2v2h-2zM315 35h2v2h-2zM243 37h2v2h-2zM267 37h2v2h-2zM269 37h2v2h-2zM271 37h2v2h-2zM287 37h2v2h-2zM273 39h2v2h-2zM303 39h2v2h-2zM317 39h2v2h-2zM319 39h2v2h-2zM271 41h2v2h-2zM303 41h2v2h-2zM319 41h2v2h-2zM273 43h2v2h-2zM235 45h2v2h-2zM267 45h2v2h-2zM275 45h2v2h-2zM315 45h2v2h-2zM323 45h2v2h-2zM241 47h2v2h-2zM267 47h2v2h-2zM315 47h2v2h-2zM319 47h2v2h-2zM321 47h2v2h-2zM323 47h2v2h-2zM279 49h2v2h-2zM279 51h2v2h-2zM293 51h2v2h-2zM271 53h2v2h-2zM287 53h2v2h-2zM291 53h2v2h-2zM237 55h2v2h-2zM339 55h2v2h-2zM245 57h2v2h-2zM257 59h2v2h-2zM339 59h2v2h-2zM343 59h2v2h-2zM267 61h2v2h-2zM279 61h2v2h-2zM299 61h2v2h-2zM239 63h2v2h-2zM333 63h2v2h-2zM345 63h1v2h-1zM239 65h2v2h-2zM329 65h2v2h-2zM331 65h2v2h-2zM343 65h2v2h-2zM267 67h2v2h-2zM329 67h2v2h-2zM341 67h2v2h-2zM251 71h2v2h-2zM303 71h2v2h-2zM311 71h2v2h-2zM325 71h2v2h-2zM329 71h2v2h-2zM263 73h2v2h-2zM317 73h2v2h-2zM239 75h2v2h-2zM261 75h2v2h-2zM301 75h2v2h-2zM305 75h2v2h-2zM329 75h2v2h-2zM331 75h2v2h-2zM333 75h2v2h-2zM335 75h2v2h-2zM275 77h2v2h-2zM265 79h2v2h-2zM291 81h2v2h-2zM311 81h2v2h-2zM323 81h2v2h-2zM261 83h2v2h-2zM301 83h2v2h-2zM335 83h2v2h-2zM337 83h2v2h-2zM343 83h2v2h-2zM341 85h2v2h-2zM277 87h2v2h-2zM305 87h2v2h-2zM239 89h2v2h-2zM299 89h2v2h-2zM273 91h2v2h-2zM291 91h2v2h-2zM297 91h2v2h-2zM301 91h2v2h-2zM311 91h2v2h-2zM241 93h2v2h-2zM271 93h2v2h-2zM297 93h2v2h-2zM263 95h2v2h-2zM275 95h2v2h-2zM295 95h2v2h-2zM241 97h2v2h-2zM251 97h2v2h-2zM265 97h2v2h-2zM295 97h2v2h-2zM303 97h2v2h-2zM243 99h2v2h-2zM245 99h2v2h-2zM249 99h2v2h-2zM295 99h2v2h-2zM235 101h2v2h-2zM271 101h2v2h-2zM275 101h2v2h-2zM297 101h2v2h-2zM299 101h2v2h-2zM303 101h2v2h-2zM243 103h2v2h-2zM317 103h2v2h-2zM267 105h2v2h-2zM301 105h2v2h-2zM303 105h2v2h-2zM323 105h2v2h-2zM333 105h2v2h-2zM235 107h2v2h-2zM239 107h2v2h-2zM269 107h2v2h-2zM287 107h2v2h-2zM319 107h2v2h-2zM343 107h2v2h-2zM237 109h2v2h-2zM299 109h2v2h-2zM237 111h2v1h-2zM241 111h2v1h-2zM285 111h2v1h-2zM293 111h2v1h-2zM311 111h2v1h-2z"/>
<path fill="#ffffff" d="M319 1h2v2h-2zM321 1h2v2h-2zM323 1h2v2h-2zM325 1h2v2h-2zM327 1h2v2h-2zM329 1h2v2h-2zM331 1h2v2h-2zM333 1h2v2h-2zM335 1h2v2h-2zM337 1h2v2h-2zM339 1h2v2h-2zM341 1h2v2h-2zM343 1h2v2h-2zM345 1h1v2h-1zM321 3h2v2h-2zM323 3h2v2h-2zM325 3h2v2h-2zM327 3h2v2h-2zM329 3h2v2h-2zM331 3h2v2h-2zM333 3h2v2h-2zM335 3h2v2h-2zM337 3h2v2h-2zM339 3h2v2h-2zM341 3h2v2h-2zM343 3h2v2h-2zM345 3h1v2h-1zM323 5h2v2h-2zM325 5h2v2h-2zM327 5h2v2h-2zM329 5h2v2h-2zM331 5h2v2h-2zM333 5h2v2h-2zM335 5h2v2h-2zM337 5h2v2h-2zM339 5h2v2h-2zM341 5h2v2h-2zM343 5h2v2h-2zM345 5h1v2h-1zM325 7h2v2h-2zM327 7h2v2h-2zM329 7h2v2h-2zM331 7h2v2h-2zM335 7h2v2h-2zM337 7h2v2h-2zM339 7h2v2h-2zM341 7h2v2h-2zM343 7h2v2h-2zM345 7h1v2h-1zM327 9h2v2h-2zM329 9h2v2h-2zM331 9h2v2h-2zM333 9h2v2h-2zM335 9h2v2h-2zM337 9h2v2h-2zM339 9h2v2h-2zM341 9h2v2h-2zM343 9h2v2h-2zM345 9h1v2h-1zM329 11h2v2h-2zM331 11h2v2h-2zM333 11h2v2h-2zM335 11h2v2h-2zM337 11h2v2h-2zM339 11h2v2h-2zM341 11h2v2h-2zM343 11h2v2h-2zM345 11h1v2h-1zM331 13h2v2h-2zM333 13h2v2h-2zM335 13h2v2h-2zM337 13h2v2h-2zM339 13h2v2h-2zM341 13h2v2h-2zM343 13h2v2h-2zM345 13h1v2h-1zM333 15h2v2h-2zM335 15h2v2h-2zM337 15h2v2h-2zM339 15h2v2h-2zM341 15h2v2h-2zM343 15h2v2h-2zM345 15h1v2h-1zM335 17h2v2h-2zM337 17h2v2h-2zM339 17h2v2h-2zM341 17h2v2h-2zM343 17h2v2h-2zM345 17h1v2h-1zM337 19h2v2h-2zM341 19h2v2h-2zM343 19h2v2h-2zM345 19h1v2h-1zM337 21h2v2h-2zM339 21h2v2h-2zM341 21h2v2h-2zM343 21h2v2h-2zM345 21h1v2h-1zM339 23h2v2h-2zM341 23h2v2h-2zM343 23h2v2h-2zM283 25h2v2h-2zM341 25h2v2h-2zM343 25h2v2h-2zM345 25h1v2h-1zM281 27h2v2h-2zM283 27h2v2h-2zM343 27h2v2h-2zM345 27h1v2h-1zM283 29h2v2h-2zM285 29h2v2h-2zM345 29h1v2h-1zM281 31h2v2h-2zM281 33h2v2h-2zM283 33h2v2h-2zM283 35h2v2h-2zM267 39h2v2h-2zM269 39h2v2h-2zM271 39h2v2h-2zM267 43h2v2h-2zM269 43h2v2h-2zM271 43h2v2h-2zM317 43h2v2h-2zM315 55h2v2h-2zM339 85h2v2h-2zM237 91h2v2h-2zM239 91h2v2h-2zM241 91h2v2h-2zM299 91h2v2h-2zM235 93h2v2h-2zM237 93h2v2h-2zM239 93h2v2h-2zM295 93h2v2h-2zM299 93h2v2h-2zM301 93h2v2h-2zM235 95h2v2h-2zM237 95h2v2h-2zM239 95h2v2h-2zM241 95h2v2h-2zM297 95h2v2h-2zM301 95h2v2h-2zM239 97h2v2h-2zM263 97h2v2h-2zM297 97h2v2h-2zM299 97h2v2h-2zM301 97h2v2h-2zM305 97h2v2h-2zM235 99h2v2h-2zM237 99h2v2h-2zM239 99h2v2h-2zM241 99h2v2h-2zM297 99h2v2h-2zM299 99h2v2h-2zM301 99h2v2h-2zM305 99h2v2h-2zM237 101h2v2h-2zM239 101h2v2h-2zM241 101h2v2h-2zM243 101h2v2h-2zM241 103h2v2h-2zM235 105h2v2h-2zM237 105h2v2h-2zM239 105h2v2h-2zM237 107h2v2h-2zM235 109h2v2h-2zM239 109h2v2h-2zM235 111h2v1h-2zM239 111h2v1h-2z"/>
</g>
<rect x="235" y="116" width="111" height="111" fill="#ececec"/>
<g filter="url(#blA)" clip-path="url(#cpBd)"><g transform="rotate(-5 290 171)">
<path fill="#171717" d="M333.7 123.9h4.6v4.6h-4.6zM339.5 123.4h4.6v4.6h-4.6zM253.9 134.8h4.6v4.6h-4.6zM328.2 135.1h4.6v4.6h-4.6zM334.2 134.8h4.6v4.6h-4.6zM254.4 140.8h4.6v4.6h-4.6zM243 146.8h4.6v4.6h-4.6zM248.2 146.8h4.6v4.6h-4.6zM322.7 152h4.6v4.6h-4.6zM328.1 152.2h4.6v4.6h-4.6zM322.8 157.7h4.6v4.6h-4.6zM237.3 169.3h4.6v4.6h-4.6zM311 169.4h4.6v4.6h-4.6zM254.2 174.8h4.6v4.6h-4.6zM310.9 174.7h4.6v4.6h-4.6zM259.8 180.9h4.6v4.6h-4.6zM282.6 180.5h4.6v4.6h-4.6zM276.6 203.6h4.6v4.6h-4.6zM334 209h4.6v4.6h-4.6z"/>
<path fill="#2e2e2e" d="M334.9 125.1h2.2v2.2h-2.2zM340.7 124.6h2.2v2.2h-2.2zM255.1 136h2.2v2.2h-2.2zM329.4 136.3h2.2v2.2h-2.2zM335.4 136h2.2v2.2h-2.2zM255.6 142h2.2v2.2h-2.2zM244.2 148h2.2v2.2h-2.2zM249.4 148h2.2v2.2h-2.2zM323.9 153.2h2.2v2.2h-2.2zM329.3 153.4h2.2v2.2h-2.2zM324 158.9h2.2v2.2h-2.2zM238.5 170.5h2.2v2.2h-2.2zM312.2 170.6h2.2v2.2h-2.2zM255.4 176h2.2v2.2h-2.2zM312.1 175.9h2.2v2.2h-2.2zM261 182.1h2.2v2.2h-2.2zM283.8 181.7h2.2v2.2h-2.2zM277.8 204.8h2.2v2.2h-2.2zM335.2 210.2h2.2v2.2h-2.2z"/>
<path fill="#454545" d="M288.6 123.6h4.6v4.6h-4.6zM237 140.7h4.6v4.6h-4.6zM322.6 169.6h4.6v4.6h-4.6zM254.3 231.8h4.6v4.6h-4.6z"/>
<path fill="#5c5c5c" d="M253.9 106.4h4.6v4.6h-4.6zM271.4 106.6h4.6v4.6h-4.6zM272.6 107.8h2.2v2.2h-2.2zM288 106.6h4.6v4.6h-4.6zM289.2 107.8h2.2v2.2h-2.2zM225.6 112.4h4.6v4.6h-4.6zM242.6 112h4.6v4.6h-4.6zM339.5 118h4.6v4.6h-4.6zM242.7 123.9h4.6v4.6h-4.6zM289.8 124.8h2.2v2.2h-2.2zM225.9 129.7h4.6v4.6h-4.6zM227.1 130.9h2.2v2.2h-2.2zM242.9 129.5h4.6v4.6h-4.6zM271.1 129.5h4.6v4.6h-4.6zM272.3 130.7h2.2v2.2h-2.2zM277 129.3h4.6v4.6h-4.6zM334.1 129.2h4.6v4.6h-4.6zM231.2 141.1h4.6v4.6h-4.6zM238.2 141.9h2.2v2.2h-2.2zM259.8 140.5h4.6v4.6h-4.6zM253.8 146.2h4.6v4.6h-4.6zM339.5 146.5h4.6v4.6h-4.6zM345.6 146.8h4.6v4.6h-4.6zM277.2 152.5h4.6v4.6h-4.6zM288.1 152.4h4.6v4.6h-4.6zM289.3 153.6h2.2v2.2h-2.2zM242.6 158.2h4.6v4.6h-4.6zM243.8 159.4h2.2v2.2h-2.2zM259.6 157.6h4.6v4.6h-4.6zM265.7 158h4.6v4.6h-4.6zM305.6 158.1h4.6v4.6h-4.6zM231.1 163.4h4.6v4.6h-4.6zM270.9 163.8h4.6v4.6h-4.6zM231.2 169.2h4.6v4.6h-4.6zM232.4 170.4h2.2v2.2h-2.2zM323.8 170.8h2.2v2.2h-2.2zM345.1 186.3h4.6v4.6h-4.6zM346.3 187.5h2.2v2.2h-2.2zM260.1 197.7h4.6v4.6h-4.6zM231.4 203.3h4.6v4.6h-4.6zM232.6 204.5h2.2v2.2h-2.2zM248.5 203.5h4.6v4.6h-4.6zM265.2 209.3h4.6v4.6h-4.6zM316.7 209h4.6v4.6h-4.6zM317.9 210.2h2.2v2.2h-2.2zM282.3 215h4.6v4.6h-4.6zM294 215.1h4.6v4.6h-4.6zM295.2 216.3h2.2v2.2h-2.2zM276.7 220.8h4.6v4.6h-4.6zM277.9 222h2.2v2.2h-2.2zM225.5 226.2h4.6v4.6h-4.6zM328.5 226.2h4.6v4.6h-4.6zM255.5 233h2.2v2.2h-2.2zM311.3 232.1h4.6v4.6h-4.6z"/>
<path fill="#737373" d="M255.1 107.6h2.2v2.2h-2.2zM226.8 113.6h2.2v2.2h-2.2zM237.3 112.5h4.6v4.6h-4.6zM243.8 113.2h2.2v2.2h-2.2zM248.1 117.7h4.6v4.6h-4.6zM340.7 119.2h2.2v2.2h-2.2zM237.2 123.8h4.6v4.6h-4.6zM238.4 125h2.2v2.2h-2.2zM243.9 125.1h2.2v2.2h-2.2zM277.2 124h4.6v4.6h-4.6zM282.4 123.5h4.6v4.6h-4.6zM305.3 123.8h4.6v4.6h-4.6zM306.5 125h2.2v2.2h-2.2zM244.1 130.7h2.2v2.2h-2.2zM278.2 130.5h2.2v2.2h-2.2zM293.8 129.3h4.6v4.6h-4.6zM295 130.5h2.2v2.2h-2.2zM299.7 129.3h4.6v4.6h-4.6zM328.2 129.6h4.6v4.6h-4.6zM335.3 130.4h2.2v2.2h-2.2zM225.5 135.3h4.6v4.6h-4.6zM310.8 135.4h4.6v4.6h-4.6zM316.6 135h4.6v4.6h-4.6zM322.7 135.4h4.6v4.6h-4.6zM225.3 140.8h4.6v4.6h-4.6zM232.4 142.3h2.2v2.2h-2.2zM248.5 140.7h4.6v4.6h-4.6zM261 141.7h2.2v2.2h-2.2zM265.5 141.1h4.6v4.6h-4.6zM282.6 140.9h4.6v4.6h-4.6zM225.4 146.3h4.6v4.6h-4.6zM231.5 146.6h4.6v4.6h-4.6zM255 147.4h2.2v2.2h-2.2zM305.4 146.6h4.6v4.6h-4.6zM317 146.2h4.6v4.6h-4.6zM322.8 146.3h4.6v4.6h-4.6zM324 147.5h2.2v2.2h-2.2zM340.7 147.7h2.2v2.2h-2.2zM346.8 148h2.2v2.2h-2.2zM242.9 152.1h4.6v4.6h-4.6zM244.1 153.3h2.2v2.2h-2.2zM278.4 153.7h2.2v2.2h-2.2zM316.9 151.9h4.6v4.6h-4.6zM345.1 152h4.6v4.6h-4.6zM254.2 157.7h4.6v4.6h-4.6zM260.8 158.8h2.2v2.2h-2.2zM266.9 159.2h2.2v2.2h-2.2zM306.8 159.3h2.2v2.2h-2.2zM232.3 164.6h2.2v2.2h-2.2zM272.1 165h2.2v2.2h-2.2zM293.8 163.5h4.6v4.6h-4.6zM295 164.7h2.2v2.2h-2.2zM299.7 163.3h4.6v4.6h-4.6zM322.8 163.6h4.6v4.6h-4.6zM339.7 163.3h4.6v4.6h-4.6zM259.6 169.1h4.6v4.6h-4.6zM288.2 169h4.6v4.6h-4.6zM289.4 170.2h2.2v2.2h-2.2zM316.5 169.1h4.6v4.6h-4.6zM328.2 169.2h4.6v4.6h-4.6zM329.4 170.4h2.2v2.2h-2.2zM339.9 169.3h4.6v4.6h-4.6zM248.2 174.9h4.6v4.6h-4.6zM271.3 180.7h4.6v4.6h-4.6zM225.5 186.3h4.6v4.6h-4.6zM265.4 186.5h4.6v4.6h-4.6zM322.6 186.2h4.6v4.6h-4.6zM282.7 192.4h4.6v4.6h-4.6zM334.2 192.4h4.6v4.6h-4.6zM335.4 193.6h2.2v2.2h-2.2zM345.6 192.3h4.6v4.6h-4.6zM261.3 198.9h2.2v2.2h-2.2zM265.6 198h4.6v4.6h-4.6zM266.8 199.2h2.2v2.2h-2.2zM305.5 198.1h4.6v4.6h-4.6zM306.7 199.3h2.2v2.2h-2.2zM328.5 197.5h4.6v4.6h-4.6zM225.9 203.2h4.6v4.6h-4.6zM237 203.8h4.6v4.6h-4.6zM249.7 204.7h2.2v2.2h-2.2zM265.8 203.4h4.6v4.6h-4.6zM300 203.7h4.6v4.6h-4.6zM345.5 203.8h4.6v4.6h-4.6zM225.6 208.9h4.6v4.6h-4.6zM266.4 210.5h2.2v2.2h-2.2zM271.2 209h4.6v4.6h-4.6zM272.4 210.2h2.2v2.2h-2.2zM277.2 209.4h4.6v4.6h-4.6zM282.5 208.9h4.6v4.6h-4.6zM283.7 210.1h2.2v2.2h-2.2zM339.6 209.3h4.6v4.6h-4.6zM340.8 210.5h2.2v2.2h-2.2zM351.3 209.1h4.6v4.6h-4.6zM352.5 210.3h2.2v2.2h-2.2zM236.9 214.8h4.6v4.6h-4.6zM242.4 214.9h4.6v4.6h-4.6zM283.5 216.2h2.2v2.2h-2.2zM328.4 214.8h4.6v4.6h-4.6zM329.6 216h2.2v2.2h-2.2zM248.2 220.4h4.6v4.6h-4.6zM282.9 220.4h4.6v4.6h-4.6zM288.3 220.5h4.6v4.6h-4.6zM289.5 221.7h2.2v2.2h-2.2zM293.8 220.8h4.6v4.6h-4.6zM305.6 220.6h4.6v4.6h-4.6zM306.8 221.8h2.2v2.2h-2.2zM316.6 220.6h4.6v4.6h-4.6zM226.7 227.4h2.2v2.2h-2.2zM237.3 226.6h4.6v4.6h-4.6zM242.6 226.4h4.6v4.6h-4.6zM329.7 227.4h2.2v2.2h-2.2zM248.6 231.7h4.6v4.6h-4.6zM249.8 232.9h2.2v2.2h-2.2zM260.1 231.7h4.6v4.6h-4.6zM300 232.2h4.6v4.6h-4.6zM312.5 233.3h2.2v2.2h-2.2zM334 231.8h4.6v4.6h-4.6zM335.2 233h2.2v2.2h-2.2zM345.1 232.3h4.6v4.6h-4.6zM351.3 231.9h4.6v4.6h-4.6z"/>
<path fill="#8b8b8b" d="M225.7 106.8h4.6v4.6h-4.6zM237.1 106.3h4.6v4.6h-4.6zM248.7 106.9h4.6v4.6h-4.6zM259.9 106.4h4.6v4.6h-4.6zM282.5 106.9h4.6v4.6h-4.6zM293.9 106.9h4.6v4.6h-4.6zM295.1 108.1h2.2v2.2h-2.2zM299.6 106.4h4.6v4.6h-4.6zM305.5 106.5h4.6v4.6h-4.6zM311 106.4h4.6v4.6h-4.6zM334 106.9h4.6v4.6h-4.6zM339.3 106.3h4.6v4.6h-4.6zM350.7 106.9h4.6v4.6h-4.6zM351.9 108.1h2.2v2.2h-2.2zM231.1 112.5h4.6v4.6h-4.6zM238.5 113.7h2.2v2.2h-2.2zM248.7 112.3h4.6v4.6h-4.6zM253.8 112.1h4.6v4.6h-4.6zM255 113.3h2.2v2.2h-2.2zM277.1 112.5h4.6v4.6h-4.6zM282.8 112.6h4.6v4.6h-4.6zM299.5 112h4.6v4.6h-4.6zM305.2 112.4h4.6v4.6h-4.6zM306.4 113.6h2.2v2.2h-2.2zM316.5 112.1h4.6v4.6h-4.6zM322.2 112.5h4.6v4.6h-4.6zM328.3 112.6h4.6v4.6h-4.6zM329.5 113.8h2.2v2.2h-2.2zM333.8 112.6h4.6v4.6h-4.6zM351.1 112.5h4.6v4.6h-4.6zM225.5 117.8h4.6v4.6h-4.6zM226.7 119h2.2v2.2h-2.2zM231 118.2h4.6v4.6h-4.6zM232.2 119.4h2.2v2.2h-2.2zM237.3 118.2h4.6v4.6h-4.6zM242.5 118.3h4.6v4.6h-4.6zM249.3 118.9h2.2v2.2h-2.2zM254.3 118.2h4.6v4.6h-4.6zM255.5 119.4h2.2v2.2h-2.2zM260.1 118h4.6v4.6h-4.6zM261.3 119.2h2.2v2.2h-2.2zM265.3 117.8h4.6v4.6h-4.6zM271 117.8h4.6v4.6h-4.6zM276.9 118h4.6v4.6h-4.6zM282.9 117.7h4.6v4.6h-4.6zM299.8 117.7h4.6v4.6h-4.6zM305.2 118h4.6v4.6h-4.6zM306.4 119.2h2.2v2.2h-2.2zM310.8 117.7h4.6v4.6h-4.6zM317.1 118.1h4.6v4.6h-4.6zM328.1 117.7h4.6v4.6h-4.6zM225.8 123.4h4.6v4.6h-4.6zM227 124.6h2.2v2.2h-2.2zM231 123.9h4.6v4.6h-4.6zM248.3 123.7h4.6v4.6h-4.6zM254.4 123.9h4.6v4.6h-4.6zM255.6 125.1h2.2v2.2h-2.2zM271.4 123.9h4.6v4.6h-4.6zM278.4 125.2h2.2v2.2h-2.2zM283.6 124.7h2.2v2.2h-2.2zM294.3 123.7h4.6v4.6h-4.6zM295.5 124.9h2.2v2.2h-2.2zM311.2 124h4.6v4.6h-4.6zM312.4 125.2h2.2v2.2h-2.2zM316.8 124h4.6v4.6h-4.6zM318 125.2h2.2v2.2h-2.2zM322.5 123.5h4.6v4.6h-4.6zM345.3 123.5h4.6v4.6h-4.6zM236.8 129.6h4.6v4.6h-4.6zM254.2 129.5h4.6v4.6h-4.6zM259.7 129.4h4.6v4.6h-4.6zM282.7 129.4h4.6v4.6h-4.6zM300.9 130.5h2.2v2.2h-2.2zM305.6 129.4h4.6v4.6h-4.6zM306.8 130.6h2.2v2.2h-2.2zM329.4 130.8h2.2v2.2h-2.2zM339.9 129.1h4.6v4.6h-4.6zM351 129.4h4.6v4.6h-4.6zM226.7 136.5h2.2v2.2h-2.2zM231.4 135.3h4.6v4.6h-4.6zM237.1 134.9h4.6v4.6h-4.6zM242.7 134.8h4.6v4.6h-4.6zM259.5 134.9h4.6v4.6h-4.6zM260.7 136.1h2.2v2.2h-2.2zM277.2 135.2h4.6v4.6h-4.6zM288.1 135.1h4.6v4.6h-4.6zM289.3 136.3h2.2v2.2h-2.2zM312 136.6h2.2v2.2h-2.2zM317.8 136.2h2.2v2.2h-2.2zM323.9 136.6h2.2v2.2h-2.2zM351.1 134.9h4.6v4.6h-4.6zM226.5 142h2.2v2.2h-2.2zM249.7 141.9h2.2v2.2h-2.2zM266.7 142.3h2.2v2.2h-2.2zM276.9 141h4.6v4.6h-4.6zM278.1 142.2h2.2v2.2h-2.2zM283.8 142.1h2.2v2.2h-2.2zM288.1 140.6h4.6v4.6h-4.6zM289.3 141.8h2.2v2.2h-2.2zM293.7 140.6h4.6v4.6h-4.6zM316.6 140.7h4.6v4.6h-4.6zM322.8 141h4.6v4.6h-4.6zM328.4 140.6h4.6v4.6h-4.6zM329.6 141.8h2.2v2.2h-2.2zM334.1 141.1h4.6v4.6h-4.6zM339.8 140.6h4.6v4.6h-4.6zM345.5 141h4.6v4.6h-4.6zM346.7 142.2h2.2v2.2h-2.2zM226.6 147.5h2.2v2.2h-2.2zM232.7 147.8h2.2v2.2h-2.2zM259.8 146.6h4.6v4.6h-4.6zM261 147.8h2.2v2.2h-2.2zM277 146.2h4.6v4.6h-4.6zM282.7 146.5h4.6v4.6h-4.6zM288 146.7h4.6v4.6h-4.6zM299.6 146.6h4.6v4.6h-4.6zM306.6 147.8h2.2v2.2h-2.2zM311.2 146.8h4.6v4.6h-4.6zM318.2 147.4h2.2v2.2h-2.2zM328.5 146.4h4.6v4.6h-4.6zM329.7 147.6h2.2v2.2h-2.2zM334 146.6h4.6v4.6h-4.6zM335.2 147.8h2.2v2.2h-2.2zM350.7 146.5h4.6v4.6h-4.6zM225.7 152.1h4.6v4.6h-4.6zM231.2 152h4.6v4.6h-4.6zM248.1 152.1h4.6v4.6h-4.6zM259.9 152.4h4.6v4.6h-4.6zM265.7 152h4.6v4.6h-4.6zM271.1 151.9h4.6v4.6h-4.6zM305.1 152.4h4.6v4.6h-4.6zM318.1 153.1h2.2v2.2h-2.2zM333.9 152h4.6v4.6h-4.6zM339.6 152.2h4.6v4.6h-4.6zM346.3 153.2h2.2v2.2h-2.2zM225.9 158h4.6v4.6h-4.6zM231.4 157.9h4.6v4.6h-4.6zM232.6 159.1h2.2v2.2h-2.2zM236.8 158.1h4.6v4.6h-4.6zM238 159.3h2.2v2.2h-2.2zM248.4 158h4.6v4.6h-4.6zM249.6 159.2h2.2v2.2h-2.2zM255.4 158.9h2.2v2.2h-2.2zM271.5 158h4.6v4.6h-4.6zM272.7 159.2h2.2v2.2h-2.2zM282.6 157.9h4.6v4.6h-4.6zM283.8 159.1h2.2v2.2h-2.2zM294.1 157.8h4.6v4.6h-4.6zM299.4 158.2h4.6v4.6h-4.6zM316.5 158h4.6v4.6h-4.6zM339.8 157.8h4.6v4.6h-4.6zM345.3 157.9h4.6v4.6h-4.6zM225.9 163.7h4.6v4.6h-4.6zM227.1 164.9h2.2v2.2h-2.2zM236.8 163.7h4.6v4.6h-4.6zM248.1 163.8h4.6v4.6h-4.6zM254.3 163.4h4.6v4.6h-4.6zM260.1 163.5h4.6v4.6h-4.6zM265.7 163.4h4.6v4.6h-4.6zM300.9 164.5h2.2v2.2h-2.2zM316.7 163.5h4.6v4.6h-4.6zM324 164.8h2.2v2.2h-2.2zM328.2 163.6h4.6v4.6h-4.6zM329.4 164.8h2.2v2.2h-2.2zM333.8 163.9h4.6v4.6h-4.6zM335 165.1h2.2v2.2h-2.2zM340.9 164.5h2.2v2.2h-2.2zM345.1 163.5h4.6v4.6h-4.6zM225.3 169.5h4.6v4.6h-4.6zM226.5 170.7h2.2v2.2h-2.2zM242.5 169.6h4.6v4.6h-4.6zM248.3 169.6h4.6v4.6h-4.6zM260.8 170.3h2.2v2.2h-2.2zM265.5 169.5h4.6v4.6h-4.6zM276.9 169.1h4.6v4.6h-4.6zM278.1 170.3h2.2v2.2h-2.2zM317.7 170.3h2.2v2.2h-2.2zM333.6 169.2h4.6v4.6h-4.6zM341.1 170.5h2.2v2.2h-2.2zM345.2 169.4h4.6v4.6h-4.6zM351.1 169.6h4.6v4.6h-4.6zM225.4 174.7h4.6v4.6h-4.6zM226.6 175.9h2.2v2.2h-2.2zM231.6 174.8h4.6v4.6h-4.6zM242.6 175.3h4.6v4.6h-4.6zM243.8 176.5h2.2v2.2h-2.2zM249.4 176.1h2.2v2.2h-2.2zM260 174.9h4.6v4.6h-4.6zM271.3 175.2h4.6v4.6h-4.6zM272.5 176.4h2.2v2.2h-2.2zM276.6 175.3h4.6v4.6h-4.6zM282.8 174.8h4.6v4.6h-4.6zM316.8 174.9h4.6v4.6h-4.6zM322.2 175.2h4.6v4.6h-4.6zM328.4 174.8h4.6v4.6h-4.6zM339.3 174.7h4.6v4.6h-4.6zM345.6 175.2h4.6v4.6h-4.6zM231.3 180.7h4.6v4.6h-4.6zM232.5 181.9h2.2v2.2h-2.2zM243 180.6h4.6v4.6h-4.6zM272.5 181.9h2.2v2.2h-2.2zM276.7 180.5h4.6v4.6h-4.6zM299.8 180.6h4.6v4.6h-4.6zM305.2 180.6h4.6v4.6h-4.6zM306.4 181.8h2.2v2.2h-2.2zM310.8 180.7h4.6v4.6h-4.6zM316.7 181h4.6v4.6h-4.6zM317.9 182.2h2.2v2.2h-2.2zM322.3 180.4h4.6v4.6h-4.6zM323.5 181.6h2.2v2.2h-2.2zM328.2 180.9h4.6v4.6h-4.6zM333.8 180.9h4.6v4.6h-4.6zM339.4 180.5h4.6v4.6h-4.6zM345 180.8h4.6v4.6h-4.6zM346.2 182h2.2v2.2h-2.2zM226.7 187.5h2.2v2.2h-2.2zM237.1 186.3h4.6v4.6h-4.6zM248.7 186.2h4.6v4.6h-4.6zM249.9 187.4h2.2v2.2h-2.2zM254.3 186.3h4.6v4.6h-4.6zM260.1 186.4h4.6v4.6h-4.6zM266.6 187.7h2.2v2.2h-2.2zM271.4 186.6h4.6v4.6h-4.6zM277 186.6h4.6v4.6h-4.6zM282.3 186.7h4.6v4.6h-4.6zM283.5 187.9h2.2v2.2h-2.2zM288.1 186.5h4.6v4.6h-4.6zM289.3 187.7h2.2v2.2h-2.2zM299.7 186.4h4.6v4.6h-4.6zM305.7 186.6h4.6v4.6h-4.6zM311.2 186.2h4.6v4.6h-4.6zM312.4 187.4h2.2v2.2h-2.2zM323.8 187.4h2.2v2.2h-2.2zM333.7 186.2h4.6v4.6h-4.6zM242.6 192h4.6v4.6h-4.6zM243.8 193.2h2.2v2.2h-2.2zM254.2 191.9h4.6v4.6h-4.6zM255.4 193.1h2.2v2.2h-2.2zM259.5 192h4.6v4.6h-4.6zM265.6 191.8h4.6v4.6h-4.6zM277.2 191.8h4.6v4.6h-4.6zM278.4 193h2.2v2.2h-2.2zM283.9 193.6h2.2v2.2h-2.2zM288.3 192h4.6v4.6h-4.6zM289.5 193.2h2.2v2.2h-2.2zM299.5 192.1h4.6v4.6h-4.6zM305.7 192.3h4.6v4.6h-4.6zM306.9 193.5h2.2v2.2h-2.2zM316.7 191.8h4.6v4.6h-4.6zM322.5 191.9h4.6v4.6h-4.6zM323.7 193.1h2.2v2.2h-2.2zM328.2 192.4h4.6v4.6h-4.6zM329.4 193.6h2.2v2.2h-2.2zM339.8 192.2h4.6v4.6h-4.6zM346.8 193.5h2.2v2.2h-2.2zM351 191.9h4.6v4.6h-4.6zM311.1 197.6h4.6v4.6h-4.6zM312.3 198.8h2.2v2.2h-2.2zM322.5 197.8h4.6v4.6h-4.6zM329.7 198.7h2.2v2.2h-2.2zM334.2 197.5h4.6v4.6h-4.6zM339.9 198.1h4.6v4.6h-4.6zM350.9 197.7h4.6v4.6h-4.6zM352.1 198.9h2.2v2.2h-2.2zM227.1 204.4h2.2v2.2h-2.2zM238.2 205h2.2v2.2h-2.2zM242.9 203.8h4.6v4.6h-4.6zM244.1 205h2.2v2.2h-2.2zM259.6 203.4h4.6v4.6h-4.6zM267 204.6h2.2v2.2h-2.2zM271.3 203.8h4.6v4.6h-4.6zM272.5 205h2.2v2.2h-2.2zM282.7 203.7h4.6v4.6h-4.6zM288.1 203.7h4.6v4.6h-4.6zM289.3 204.9h2.2v2.2h-2.2zM294 203.5h4.6v4.6h-4.6zM301.2 204.9h2.2v2.2h-2.2zM305.4 203.3h4.6v4.6h-4.6zM311.3 203.3h4.6v4.6h-4.6zM316.8 203.3h4.6v4.6h-4.6zM322.4 203.8h4.6v4.6h-4.6zM323.6 205h2.2v2.2h-2.2zM333.7 203.3h4.6v4.6h-4.6zM346.7 205h2.2v2.2h-2.2zM226.8 210.1h2.2v2.2h-2.2zM231.2 209.3h4.6v4.6h-4.6zM232.4 210.5h2.2v2.2h-2.2zM237.2 209.2h4.6v4.6h-4.6zM242.5 209.2h4.6v4.6h-4.6zM253.8 209.2h4.6v4.6h-4.6zM260.1 208.9h4.6v4.6h-4.6zM278.4 210.6h2.2v2.2h-2.2zM299.7 209.4h4.6v4.6h-4.6zM300.9 210.6h2.2v2.2h-2.2zM305.2 209h4.6v4.6h-4.6zM306.4 210.2h2.2v2.2h-2.2zM310.8 209.2h4.6v4.6h-4.6zM312 210.4h2.2v2.2h-2.2zM345.1 209.1h4.6v4.6h-4.6zM238.1 216h2.2v2.2h-2.2zM243.6 216.1h2.2v2.2h-2.2zM254.4 215h4.6v4.6h-4.6zM265.6 215h4.6v4.6h-4.6zM270.9 214.8h4.6v4.6h-4.6zM272.1 216h2.2v2.2h-2.2zM276.8 214.8h4.6v4.6h-4.6zM278 216h2.2v2.2h-2.2zM299.7 214.7h4.6v4.6h-4.6zM300.9 215.9h2.2v2.2h-2.2zM305.5 214.9h4.6v4.6h-4.6zM311.1 214.7h4.6v4.6h-4.6zM312.3 215.9h2.2v2.2h-2.2zM316.9 214.6h4.6v4.6h-4.6zM318.1 215.8h2.2v2.2h-2.2zM322.7 214.8h4.6v4.6h-4.6zM333.6 214.8h4.6v4.6h-4.6zM351 215.2h4.6v4.6h-4.6zM225.4 220.4h4.6v4.6h-4.6zM226.6 221.6h2.2v2.2h-2.2zM231.2 220.9h4.6v4.6h-4.6zM236.9 220.4h4.6v4.6h-4.6zM238.1 221.6h2.2v2.2h-2.2zM242.5 220.7h4.6v4.6h-4.6zM249.4 221.6h2.2v2.2h-2.2zM254.3 220.6h4.6v4.6h-4.6zM255.5 221.8h2.2v2.2h-2.2zM284.1 221.6h2.2v2.2h-2.2zM295 222h2.2v2.2h-2.2zM299.5 220.4h4.6v4.6h-4.6zM317.8 221.8h2.2v2.2h-2.2zM333.7 220.8h4.6v4.6h-4.6zM334.9 222h2.2v2.2h-2.2zM350.8 220.3h4.6v4.6h-4.6zM352 221.5h2.2v2.2h-2.2zM231.3 226h4.6v4.6h-4.6zM232.5 227.2h2.2v2.2h-2.2zM238.5 227.8h2.2v2.2h-2.2zM243.8 227.6h2.2v2.2h-2.2zM254.4 226.6h4.6v4.6h-4.6zM265.4 226.1h4.6v4.6h-4.6zM270.9 226.6h4.6v4.6h-4.6zM272.1 227.8h2.2v2.2h-2.2zM276.9 226.3h4.6v4.6h-4.6zM288.5 226h4.6v4.6h-4.6zM299.6 226.2h4.6v4.6h-4.6zM300.8 227.4h2.2v2.2h-2.2zM316.8 226.6h4.6v4.6h-4.6zM318 227.8h2.2v2.2h-2.2zM322.8 226.2h4.6v4.6h-4.6zM339.4 226.5h4.6v4.6h-4.6zM340.6 227.7h2.2v2.2h-2.2zM345.1 226.6h4.6v4.6h-4.6zM350.9 226.5h4.6v4.6h-4.6zM225.6 232.2h4.6v4.6h-4.6zM231.3 231.8h4.6v4.6h-4.6zM232.5 233h2.2v2.2h-2.2zM242.5 231.8h4.6v4.6h-4.6zM261.3 232.9h2.2v2.2h-2.2zM265.5 232h4.6v4.6h-4.6zM266.7 233.2h2.2v2.2h-2.2zM271.4 231.7h4.6v4.6h-4.6zM288.2 231.9h4.6v4.6h-4.6zM293.7 232h4.6v4.6h-4.6zM301.2 233.4h2.2v2.2h-2.2zM305.3 232h4.6v4.6h-4.6zM317.1 232.2h4.6v4.6h-4.6zM346.3 233.5h2.2v2.2h-2.2zM352.5 233.1h2.2v2.2h-2.2z"/>
<path fill="#a2a2a2" d="M226.9 108h2.2v2.2h-2.2zM231.1 106.4h4.6v4.6h-4.6zM232.3 107.6h2.2v2.2h-2.2zM238.3 107.5h2.2v2.2h-2.2zM242.5 106.7h4.6v4.6h-4.6zM243.7 107.9h2.2v2.2h-2.2zM249.9 108.1h2.2v2.2h-2.2zM261.1 107.6h2.2v2.2h-2.2zM277.1 106.3h4.6v4.6h-4.6zM278.3 107.5h2.2v2.2h-2.2zM283.7 108.1h2.2v2.2h-2.2zM300.8 107.6h2.2v2.2h-2.2zM306.7 107.7h2.2v2.2h-2.2zM312.2 107.6h2.2v2.2h-2.2zM317.1 106.6h4.6v4.6h-4.6zM322.2 106.5h4.6v4.6h-4.6zM323.4 107.7h2.2v2.2h-2.2zM328.2 106.4h4.6v4.6h-4.6zM329.4 107.6h2.2v2.2h-2.2zM335.2 108.1h2.2v2.2h-2.2zM340.5 107.5h2.2v2.2h-2.2zM345 106.7h4.6v4.6h-4.6zM232.3 113.7h2.2v2.2h-2.2zM249.9 113.5h2.2v2.2h-2.2zM260.1 112.6h4.6v4.6h-4.6zM261.3 113.8h2.2v2.2h-2.2zM265.3 112.4h4.6v4.6h-4.6zM266.5 113.6h2.2v2.2h-2.2zM271.1 112.5h4.6v4.6h-4.6zM272.3 113.7h2.2v2.2h-2.2zM278.3 113.7h2.2v2.2h-2.2zM284 113.8h2.2v2.2h-2.2zM300.7 113.2h2.2v2.2h-2.2zM311.1 112.4h4.6v4.6h-4.6zM312.3 113.6h2.2v2.2h-2.2zM317.7 113.3h2.2v2.2h-2.2zM323.4 113.7h2.2v2.2h-2.2zM335 113.8h2.2v2.2h-2.2zM345.1 112.4h4.6v4.6h-4.6zM346.3 113.6h2.2v2.2h-2.2zM352.3 113.7h2.2v2.2h-2.2zM238.5 119.4h2.2v2.2h-2.2zM243.7 119.5h2.2v2.2h-2.2zM266.5 119h2.2v2.2h-2.2zM272.2 119h2.2v2.2h-2.2zM278.1 119.2h2.2v2.2h-2.2zM284.1 118.9h2.2v2.2h-2.2zM301 118.9h2.2v2.2h-2.2zM312 118.9h2.2v2.2h-2.2zM318.3 119.3h2.2v2.2h-2.2zM322.3 118.2h4.6v4.6h-4.6zM329.3 118.9h2.2v2.2h-2.2zM345 118h4.6v4.6h-4.6zM351.3 118.3h4.6v4.6h-4.6zM352.5 119.5h2.2v2.2h-2.2zM232.2 125.1h2.2v2.2h-2.2zM249.5 124.9h2.2v2.2h-2.2zM259.9 123.8h4.6v4.6h-4.6zM261.1 125h2.2v2.2h-2.2zM265.5 123.8h4.6v4.6h-4.6zM272.6 125.1h2.2v2.2h-2.2zM323.7 124.7h2.2v2.2h-2.2zM328.2 124h4.6v4.6h-4.6zM329.4 125.2h2.2v2.2h-2.2zM346.5 124.7h2.2v2.2h-2.2zM351 123.8h4.6v4.6h-4.6zM231.1 129.1h4.6v4.6h-4.6zM232.3 130.3h2.2v2.2h-2.2zM238 130.8h2.2v2.2h-2.2zM248.2 129.4h4.6v4.6h-4.6zM249.4 130.6h2.2v2.2h-2.2zM255.4 130.7h2.2v2.2h-2.2zM260.9 130.6h2.2v2.2h-2.2zM283.9 130.6h2.2v2.2h-2.2zM288.6 129.3h4.6v4.6h-4.6zM289.8 130.5h2.2v2.2h-2.2zM311.3 129.5h4.6v4.6h-4.6zM312.5 130.7h2.2v2.2h-2.2zM317 129.1h4.6v4.6h-4.6zM322.2 129.5h4.6v4.6h-4.6zM341.1 130.3h2.2v2.2h-2.2zM345.5 129.7h4.6v4.6h-4.6zM352.2 130.6h2.2v2.2h-2.2zM232.6 136.5h2.2v2.2h-2.2zM238.3 136.1h2.2v2.2h-2.2zM243.9 136h2.2v2.2h-2.2zM248.6 135.1h4.6v4.6h-4.6zM249.8 136.3h2.2v2.2h-2.2zM271.5 135.2h4.6v4.6h-4.6zM278.4 136.4h2.2v2.2h-2.2zM293.7 135.4h4.6v4.6h-4.6zM299.5 135.2h4.6v4.6h-4.6zM300.7 136.4h2.2v2.2h-2.2zM305.1 135.4h4.6v4.6h-4.6zM306.3 136.6h2.2v2.2h-2.2zM339.6 134.9h4.6v4.6h-4.6zM345 135.2h4.6v4.6h-4.6zM346.2 136.4h2.2v2.2h-2.2zM352.3 136.1h2.2v2.2h-2.2zM242.6 140.7h4.6v4.6h-4.6zM243.8 141.9h2.2v2.2h-2.2zM271.2 141.1h4.6v4.6h-4.6zM294.9 141.8h2.2v2.2h-2.2zM305.5 141h4.6v4.6h-4.6zM311.3 140.9h4.6v4.6h-4.6zM317.8 141.9h2.2v2.2h-2.2zM324 142.2h2.2v2.2h-2.2zM335.3 142.3h2.2v2.2h-2.2zM341 141.8h2.2v2.2h-2.2zM351.3 140.9h4.6v4.6h-4.6zM352.5 142.1h2.2v2.2h-2.2zM237 146.4h4.6v4.6h-4.6zM265.3 146.7h4.6v4.6h-4.6zM278.2 147.4h2.2v2.2h-2.2zM283.9 147.7h2.2v2.2h-2.2zM289.2 147.9h2.2v2.2h-2.2zM294 146.7h4.6v4.6h-4.6zM300.8 147.8h2.2v2.2h-2.2zM312.4 148h2.2v2.2h-2.2zM351.9 147.7h2.2v2.2h-2.2zM226.9 153.3h2.2v2.2h-2.2zM232.4 153.2h2.2v2.2h-2.2zM249.3 153.3h2.2v2.2h-2.2zM254 152.5h4.6v4.6h-4.6zM255.2 153.7h2.2v2.2h-2.2zM261.1 153.6h2.2v2.2h-2.2zM266.9 153.2h2.2v2.2h-2.2zM272.3 153.1h2.2v2.2h-2.2zM293.9 151.9h4.6v4.6h-4.6zM295.1 153.1h2.2v2.2h-2.2zM299.6 151.9h4.6v4.6h-4.6zM300.8 153.1h2.2v2.2h-2.2zM306.3 153.6h2.2v2.2h-2.2zM310.8 152.1h4.6v4.6h-4.6zM335.1 153.2h2.2v2.2h-2.2zM340.8 153.4h2.2v2.2h-2.2zM351 152.3h4.6v4.6h-4.6zM352.2 153.5h2.2v2.2h-2.2zM227.1 159.2h2.2v2.2h-2.2zM288.6 157.8h4.6v4.6h-4.6zM295.3 159h2.2v2.2h-2.2zM300.6 159.4h2.2v2.2h-2.2zM311.3 157.7h4.6v4.6h-4.6zM317.7 159.2h2.2v2.2h-2.2zM328 157.6h4.6v4.6h-4.6zM334.2 157.9h4.6v4.6h-4.6zM335.4 159.1h2.2v2.2h-2.2zM341 159h2.2v2.2h-2.2zM346.5 159.1h2.2v2.2h-2.2zM350.7 157.6h4.6v4.6h-4.6zM351.9 158.8h2.2v2.2h-2.2zM238 164.9h2.2v2.2h-2.2zM242.6 163.4h4.6v4.6h-4.6zM243.8 164.6h2.2v2.2h-2.2zM249.3 165h2.2v2.2h-2.2zM255.5 164.6h2.2v2.2h-2.2zM261.3 164.7h2.2v2.2h-2.2zM266.9 164.6h2.2v2.2h-2.2zM277.1 163.7h4.6v4.6h-4.6zM282.6 163.8h4.6v4.6h-4.6zM283.8 165h2.2v2.2h-2.2zM305.7 163.9h4.6v4.6h-4.6zM311.4 163.9h4.6v4.6h-4.6zM317.9 164.7h2.2v2.2h-2.2zM346.3 164.7h2.2v2.2h-2.2zM350.7 163.4h4.6v4.6h-4.6zM351.9 164.6h2.2v2.2h-2.2zM243.7 170.8h2.2v2.2h-2.2zM249.5 170.8h2.2v2.2h-2.2zM254.3 169.1h4.6v4.6h-4.6zM255.5 170.3h2.2v2.2h-2.2zM266.7 170.7h2.2v2.2h-2.2zM271.2 169.4h4.6v4.6h-4.6zM272.4 170.6h2.2v2.2h-2.2zM282.9 169.1h4.6v4.6h-4.6zM284.1 170.3h2.2v2.2h-2.2zM299.5 169.5h4.6v4.6h-4.6zM300.7 170.7h2.2v2.2h-2.2zM305.4 169.2h4.6v4.6h-4.6zM306.6 170.4h2.2v2.2h-2.2zM334.8 170.4h2.2v2.2h-2.2zM346.4 170.6h2.2v2.2h-2.2zM352.3 170.8h2.2v2.2h-2.2zM232.8 176h2.2v2.2h-2.2zM237.1 175h4.6v4.6h-4.6zM238.3 176.2h2.2v2.2h-2.2zM261.2 176.1h2.2v2.2h-2.2zM265.2 174.8h4.6v4.6h-4.6zM266.4 176h2.2v2.2h-2.2zM277.8 176.5h2.2v2.2h-2.2zM284 176h2.2v2.2h-2.2zM305.2 175.3h4.6v4.6h-4.6zM306.4 176.5h2.2v2.2h-2.2zM318 176.1h2.2v2.2h-2.2zM323.4 176.4h2.2v2.2h-2.2zM329.6 176h2.2v2.2h-2.2zM334.1 175.3h4.6v4.6h-4.6zM335.3 176.5h2.2v2.2h-2.2zM340.5 175.9h2.2v2.2h-2.2zM346.8 176.4h2.2v2.2h-2.2zM350.8 174.7h4.6v4.6h-4.6zM352 175.9h2.2v2.2h-2.2zM236.9 181h4.6v4.6h-4.6zM238.1 182.2h2.2v2.2h-2.2zM244.2 181.8h2.2v2.2h-2.2zM248.4 180.8h4.6v4.6h-4.6zM249.6 182h2.2v2.2h-2.2zM253.9 181h4.6v4.6h-4.6zM255.1 182.2h2.2v2.2h-2.2zM265.7 180.6h4.6v4.6h-4.6zM277.9 181.7h2.2v2.2h-2.2zM301 181.8h2.2v2.2h-2.2zM312 181.9h2.2v2.2h-2.2zM329.4 182.1h2.2v2.2h-2.2zM335 182.1h2.2v2.2h-2.2zM340.6 181.7h2.2v2.2h-2.2zM350.8 180.5h4.6v4.6h-4.6zM231.2 186.7h4.6v4.6h-4.6zM232.4 187.9h2.2v2.2h-2.2zM238.3 187.5h2.2v2.2h-2.2zM242.6 186.2h4.6v4.6h-4.6zM243.8 187.4h2.2v2.2h-2.2zM255.5 187.5h2.2v2.2h-2.2zM261.3 187.6h2.2v2.2h-2.2zM272.6 187.8h2.2v2.2h-2.2zM278.2 187.8h2.2v2.2h-2.2zM294.3 186.7h4.6v4.6h-4.6zM300.9 187.6h2.2v2.2h-2.2zM306.9 187.8h2.2v2.2h-2.2zM316.5 186.6h4.6v4.6h-4.6zM328 186.4h4.6v4.6h-4.6zM334.9 187.4h2.2v2.2h-2.2zM350.7 186.6h4.6v4.6h-4.6zM351.9 187.8h2.2v2.2h-2.2zM225.7 192.4h4.6v4.6h-4.6zM226.9 193.6h2.2v2.2h-2.2zM231 191.9h4.6v4.6h-4.6zM232.2 193.1h2.2v2.2h-2.2zM237.2 192.3h4.6v4.6h-4.6zM248.5 192.1h4.6v4.6h-4.6zM260.7 193.2h2.2v2.2h-2.2zM266.8 193h2.2v2.2h-2.2zM300.7 193.3h2.2v2.2h-2.2zM311.1 191.8h4.6v4.6h-4.6zM312.3 193h2.2v2.2h-2.2zM317.9 193h2.2v2.2h-2.2zM341 193.4h2.2v2.2h-2.2zM352.2 193.1h2.2v2.2h-2.2zM225.3 197.9h4.6v4.6h-4.6zM243 198h4.6v4.6h-4.6zM244.2 199.2h2.2v2.2h-2.2zM248.5 197.8h4.6v4.6h-4.6zM249.7 199h2.2v2.2h-2.2zM253.9 197.5h4.6v4.6h-4.6zM255.1 198.7h2.2v2.2h-2.2zM282.4 197.9h4.6v4.6h-4.6zM283.6 199.1h2.2v2.2h-2.2zM288.3 197.7h4.6v4.6h-4.6zM289.5 198.9h2.2v2.2h-2.2zM293.9 197.5h4.6v4.6h-4.6zM299.8 197.8h4.6v4.6h-4.6zM316.6 197.6h4.6v4.6h-4.6zM317.8 198.8h2.2v2.2h-2.2zM323.7 199h2.2v2.2h-2.2zM335.4 198.7h2.2v2.2h-2.2zM341.1 199.3h2.2v2.2h-2.2zM345 197.5h4.6v4.6h-4.6zM346.2 198.7h2.2v2.2h-2.2zM260.8 204.6h2.2v2.2h-2.2zM283.9 204.9h2.2v2.2h-2.2zM295.2 204.7h2.2v2.2h-2.2zM306.6 204.5h2.2v2.2h-2.2zM312.5 204.5h2.2v2.2h-2.2zM318 204.5h2.2v2.2h-2.2zM327.9 203.2h4.6v4.6h-4.6zM334.9 204.5h2.2v2.2h-2.2zM339.3 203.7h4.6v4.6h-4.6zM340.5 204.9h2.2v2.2h-2.2zM238.4 210.4h2.2v2.2h-2.2zM243.7 210.4h2.2v2.2h-2.2zM255 210.4h2.2v2.2h-2.2zM261.3 210.1h2.2v2.2h-2.2zM288 209.4h4.6v4.6h-4.6zM289.2 210.6h2.2v2.2h-2.2zM294 209.3h4.6v4.6h-4.6zM295.2 210.5h2.2v2.2h-2.2zM322.5 209.1h4.6v4.6h-4.6zM323.7 210.3h2.2v2.2h-2.2zM327.9 208.9h4.6v4.6h-4.6zM346.3 210.3h2.2v2.2h-2.2zM225.3 214.7h4.6v4.6h-4.6zM226.5 215.9h2.2v2.2h-2.2zM231 214.6h4.6v4.6h-4.6zM248.7 215.2h4.6v4.6h-4.6zM255.6 216.2h2.2v2.2h-2.2zM260.1 215.1h4.6v4.6h-4.6zM266.8 216.2h2.2v2.2h-2.2zM288 215.1h4.6v4.6h-4.6zM306.7 216.1h2.2v2.2h-2.2zM323.9 216h2.2v2.2h-2.2zM334.8 216h2.2v2.2h-2.2zM339.7 215.1h4.6v4.6h-4.6zM345.4 214.8h4.6v4.6h-4.6zM352.2 216.4h2.2v2.2h-2.2zM232.4 222.1h2.2v2.2h-2.2zM243.7 221.9h2.2v2.2h-2.2zM260 220.7h4.6v4.6h-4.6zM261.2 221.9h2.2v2.2h-2.2zM265.6 220.8h4.6v4.6h-4.6zM266.8 222h2.2v2.2h-2.2zM270.9 220.5h4.6v4.6h-4.6zM300.7 221.6h2.2v2.2h-2.2zM311 220.4h4.6v4.6h-4.6zM322.4 220.7h4.6v4.6h-4.6zM323.6 221.9h2.2v2.2h-2.2zM328.5 220.7h4.6v4.6h-4.6zM329.7 221.9h2.2v2.2h-2.2zM339.5 220.8h4.6v4.6h-4.6zM345.1 220.9h4.6v4.6h-4.6zM346.3 222.1h2.2v2.2h-2.2zM248.2 226h4.6v4.6h-4.6zM249.4 227.2h2.2v2.2h-2.2zM255.6 227.8h2.2v2.2h-2.2zM259.5 226.5h4.6v4.6h-4.6zM260.7 227.7h2.2v2.2h-2.2zM266.6 227.3h2.2v2.2h-2.2zM278.1 227.5h2.2v2.2h-2.2zM289.7 227.2h2.2v2.2h-2.2zM293.8 226.6h4.6v4.6h-4.6zM295 227.8h2.2v2.2h-2.2zM305.6 226.2h4.6v4.6h-4.6zM324 227.4h2.2v2.2h-2.2zM333.9 226.2h4.6v4.6h-4.6zM335.1 227.4h2.2v2.2h-2.2zM346.3 227.8h2.2v2.2h-2.2zM352.1 227.7h2.2v2.2h-2.2zM226.8 233.4h2.2v2.2h-2.2zM236.9 231.9h4.6v4.6h-4.6zM238.1 233.1h2.2v2.2h-2.2zM243.7 233h2.2v2.2h-2.2zM272.6 232.9h2.2v2.2h-2.2zM277 231.9h4.6v4.6h-4.6zM282.4 232.3h4.6v4.6h-4.6zM289.4 233.1h2.2v2.2h-2.2zM294.9 233.2h2.2v2.2h-2.2zM306.5 233.2h2.2v2.2h-2.2zM318.3 233.4h2.2v2.2h-2.2zM322.8 231.9h4.6v4.6h-4.6zM324 233.1h2.2v2.2h-2.2zM339.4 231.7h4.6v4.6h-4.6zM340.6 232.9h2.2v2.2h-2.2z"/>
<path fill="#b9b9b9" d="M265.6 106.4h4.6v4.6h-4.6zM318.3 107.8h2.2v2.2h-2.2zM346.2 107.9h2.2v2.2h-2.2zM339.5 112.5h4.6v4.6h-4.6zM340.7 113.7h2.2v2.2h-2.2zM323.5 119.4h2.2v2.2h-2.2zM334.1 118h4.6v4.6h-4.6zM335.3 119.2h2.2v2.2h-2.2zM346.2 119.2h2.2v2.2h-2.2zM266.7 125h2.2v2.2h-2.2zM300 123.6h4.6v4.6h-4.6zM301.2 124.8h2.2v2.2h-2.2zM352.2 125h2.2v2.2h-2.2zM318.2 130.3h2.2v2.2h-2.2zM323.4 130.7h2.2v2.2h-2.2zM346.7 130.9h2.2v2.2h-2.2zM272.7 136.4h2.2v2.2h-2.2zM282.3 135.4h4.6v4.6h-4.6zM294.9 136.6h2.2v2.2h-2.2zM340.8 136.1h2.2v2.2h-2.2zM272.4 142.3h2.2v2.2h-2.2zM306.7 142.2h2.2v2.2h-2.2zM312.5 142.1h2.2v2.2h-2.2zM238.2 147.6h2.2v2.2h-2.2zM266.5 147.9h2.2v2.2h-2.2zM270.9 146.6h4.6v4.6h-4.6zM272.1 147.8h2.2v2.2h-2.2zM295.2 147.9h2.2v2.2h-2.2zM237 152.4h4.6v4.6h-4.6zM238.2 153.6h2.2v2.2h-2.2zM312 153.3h2.2v2.2h-2.2zM277.2 158.1h4.6v4.6h-4.6zM278.4 159.3h2.2v2.2h-2.2zM289.8 159h2.2v2.2h-2.2zM312.5 158.9h2.2v2.2h-2.2zM329.2 158.8h2.2v2.2h-2.2zM278.3 164.9h2.2v2.2h-2.2zM288.2 163.7h4.6v4.6h-4.6zM289.4 164.9h2.2v2.2h-2.2zM306.9 165.1h2.2v2.2h-2.2zM312.6 165.1h2.2v2.2h-2.2zM225.5 180.4h4.6v4.6h-4.6zM266.9 181.8h2.2v2.2h-2.2zM352 181.7h2.2v2.2h-2.2zM295.5 187.9h2.2v2.2h-2.2zM317.7 187.8h2.2v2.2h-2.2zM329.2 187.6h2.2v2.2h-2.2zM238.4 193.5h2.2v2.2h-2.2zM249.7 193.3h2.2v2.2h-2.2zM294.1 192.3h4.6v4.6h-4.6zM295.3 193.5h2.2v2.2h-2.2zM226.5 199.1h2.2v2.2h-2.2zM295.1 198.7h2.2v2.2h-2.2zM301 199h2.2v2.2h-2.2zM254.4 203.6h4.6v4.6h-4.6zM255.6 204.8h2.2v2.2h-2.2zM329.1 204.4h2.2v2.2h-2.2zM351.1 203.6h4.6v4.6h-4.6zM352.3 204.8h2.2v2.2h-2.2zM329.1 210.1h2.2v2.2h-2.2zM232.2 215.8h2.2v2.2h-2.2zM249.9 216.4h2.2v2.2h-2.2zM261.3 216.3h2.2v2.2h-2.2zM289.2 216.3h2.2v2.2h-2.2zM340.9 216.3h2.2v2.2h-2.2zM346.6 216h2.2v2.2h-2.2zM272.1 221.7h2.2v2.2h-2.2zM312.2 221.6h2.2v2.2h-2.2zM340.7 222h2.2v2.2h-2.2zM282.6 226.6h4.6v4.6h-4.6zM283.8 227.8h2.2v2.2h-2.2zM306.8 227.4h2.2v2.2h-2.2zM311.3 226.2h4.6v4.6h-4.6zM312.5 227.4h2.2v2.2h-2.2zM278.2 233.1h2.2v2.2h-2.2zM283.6 233.5h2.2v2.2h-2.2zM328.1 232.1h4.6v4.6h-4.6zM329.3 233.3h2.2v2.2h-2.2z"/>
<path fill="#d0d0d0" d="M266.8 107.6h2.2v2.2h-2.2zM283.5 136.6h2.2v2.2h-2.2zM282.3 152.3h4.6v4.6h-4.6zM283.5 153.5h2.2v2.2h-2.2zM226.7 181.6h2.2v2.2h-2.2z"/>
</g></g>
<defs><radialGradient id="gBb" cx="0.5" cy="0.45" r="0.55"><stop offset="0" stop-color="#8c8c8c"/><stop offset="0.55" stop-color="#7a7a7a"/><stop offset="1" stop-color="#505050"/></radialGradient><filter id="bl1" x="-10%" y="-10%" width="120%" height="120%"><feGaussianBlur stdDeviation="1"/></filter><filter id="bl3" x="-30%" y="-30%" width="160%" height="160%"><feGaussianBlur stdDeviation="3"/></filter><filter id="bl6" x="-30%" y="-30%" width="160%" height="160%"><feGaussianBlur stdDeviation="6"/></filter><pattern id="pGrid" width="2.2" height="2.2" patternUnits="userSpaceOnUse"><rect width="2.2" height="2.2" fill="none"/><rect width="1" height="1" fill="#000" fill-opacity="0.18"/></pattern><clipPath id="cpBb"><rect x="349" y="1" width="112" height="111"/></clipPath><clipPath id="cpBe"><rect x="349" y="116" width="112" height="111"/></clipPath></defs>
<rect x="349" y="1" width="112" height="111" fill="#595959"/>
<g clip-path="url(#cpBb)">
<rect x="340" y="-5" width="32" height="125" fill="#464646" filter="url(#bl6)"/>
<ellipse cx="352" cy="6" rx="8" ry="6" fill="#606060" filter="url(#bl3)"/>
<ellipse cx="452" cy="14" rx="12" ry="14" fill="#6a6a6a" filter="url(#bl6)"/>
<ellipse cx="450" cy="80" rx="12" ry="16" fill="#686868" filter="url(#bl6)"/>
<ellipse cx="362" cy="100" rx="16" ry="12" fill="#626262" filter="url(#bl6)"/>
<ellipse cx="400" cy="108" rx="20" ry="6" fill="#4c4c4c" filter="url(#bl3)"/>
<path d="M374.5 30Q374.5 13.5 391 13.5H418Q433 13.5 433 30V96H374.5Z" fill="#868686" filter="url(#bl3)"/>
<ellipse cx="395" cy="34" rx="18" ry="17" fill="#9c9c9c" filter="url(#bl6)"/>
<ellipse cx="408" cy="62" rx="18" ry="20" fill="#8c8c8c" filter="url(#bl6)"/>
<path d="M384 44L418 19" stroke="#7a7a7a" stroke-width="3" filter="url(#bl3)"/>
<rect x="376" y="18" width="56" height="76" fill="url(#pGrid)"/>
</g>
<text x="352" y="9" font-family="Liberation Sans, Arial, sans-serif" font-weight="bold" font-size="7" fill="#fff">b</text>
<text x="438.5" y="105.5" font-family="Liberation Sans, Arial, sans-serif" font-weight="bold" font-size="9" fill="#fff">5 nm</text>
<rect x="439.6" y="107.6" width="19.6" height="1.8" fill="#fff"/>
<rect x="349" y="116" width="112" height="111" fill="#1c1c1c"/>
<g clip-path="url(#cpBe)">
<path d="M433 116H461V227H439V214L432 205V152L438 146Z" fill="#7a7a7a" filter="url(#bl3)"/>
<path d="M441 150L452 148L461 152V215L441 215Z" fill="#9a9a9a" filter="url(#bl3)"/>
<rect x="437" y="149.5" width="11" height="19" rx="4" fill="#202020" filter="url(#bl3)"/>
<rect x="368" y="127.2" width="70.5" height="86" rx="16" fill="#7a7a7a" filter="url(#bl1)"/>
<rect x="369" y="128" width="69" height="82" rx="11" fill="url(#pGrid)"/>
<circle cx="376" cy="143" r="5" fill="#9a9a9a" filter="url(#bl3)"/>
<circle cx="402.7" cy="138.4" r="5" fill="#9a9a9a" filter="url(#bl3)"/>
<circle cx="382.6" cy="164" r="5" fill="#9a9a9a" filter="url(#bl3)"/>
<circle cx="380" cy="196.5" r="5" fill="#9a9a9a" filter="url(#bl3)"/>
<circle cx="420.6" cy="202" r="4" fill="#9a9a9a" filter="url(#bl3)"/>
<circle cx="431.8" cy="181" r="4" fill="#9a9a9a" filter="url(#bl3)"/>
</g>
<text x="352" y="124" font-family="Liberation Sans, Arial, sans-serif" font-weight="bold" font-size="7" fill="#fff">e</text>
<text x="436" y="221.5" font-family="Liberation Sans, Arial, sans-serif" font-weight="bold" font-size="9" fill="#fff">5 nm</text>
<rect x="437" y="223" width="22" height="1.8" fill="#fff"/>
<defs><radialGradient id="gDot"><stop offset="0" stop-color="#f0f0f0"/><stop offset="0.3" stop-color="#dcdcdc" stop-opacity="0.85"/><stop offset="0.65" stop-color="#bcbcbc" stop-opacity="0.4"/><stop offset="1" stop-color="#a4a4a4" stop-opacity="0"/></radialGradient><radialGradient id="gDotF"><stop offset="0" stop-color="#f4f4f4"/><stop offset="0.3" stop-color="#c8c8c8" stop-opacity="0.8"/><stop offset="0.7" stop-color="#808080" stop-opacity="0.3"/><stop offset="1" stop-color="#505050" stop-opacity="0"/></radialGradient><pattern id="pLatC" x="464.05" y="1" width="6.95" height="6.95" patternUnits="userSpaceOnUse"><rect x="0" y="0" width="6.95" height="6.95" fill="#a4a4a4"/><circle cx="3.5" cy="3.5" r="3.3" fill="url(#gDot)"/></pattern><pattern id="pLatF" x="476.5" y="116.8" width="6.25" height="6.0" patternUnits="userSpaceOnUse"><rect width="6.25" height="6" fill="#424242"/><circle cx="0" cy="0" r="1.2" fill="#5c5c5c"/><circle cx="3.2" cy="3.1" r="2.6" fill="url(#gDotF)"/></pattern><linearGradient id="gFl" x1="0" x2="1"><stop offset="0" stop-color="#111"/><stop offset="0.18" stop-color="#151515"/><stop offset="0.24" stop-color="#2a2a2a"/><stop offset="1" stop-color="#3a3a3a"/></linearGradient></defs>
<rect x="464" y="1" width="56" height="111" fill="#a6a6a6"/>
<rect x="464" y="1" width="56" height="111" fill="url(#pLatC)"/>
<rect x="485" y="2.5" width="20" height="7.5" fill="#c4c4c4" opacity="0.8"/>
<text x="466.3" y="8.6" font-family="Liberation Sans, Arial, sans-serif" font-weight="bold" font-size="6.5" fill="#fff" stroke="#333" stroke-width="0.8" paint-order="stroke">c</text>
<text x="486" y="8.6" font-family="Liberation Sans, Arial, sans-serif" font-weight="bold" font-size="6.6" fill="#111" textLength="17.8" lengthAdjust="spacing">5.9 Å</text>
<line x1="507.2" y1="3" x2="507.2" y2="26" stroke="#222" stroke-width="0.5"/>
<line x1="499" y1="10" x2="519" y2="10" stroke="#777" stroke-width="0.4"/><line x1="499" y1="17.5" x2="519" y2="17.5" stroke="#777" stroke-width="0.4"/>
<circle cx="507.2" cy="8.4" r="0.9" fill="#111"/><circle cx="507.2" cy="20" r="0.9" fill="#111"/>
<rect x="510.8" y="92.3" width="7.8" height="5" fill="#2a8a4a"/>
<text x="511.6" y="96.4" font-family="Liberation Sans, Arial, sans-serif" font-weight="bold" font-size="4.6" fill="#e8f0e0">Cs</text>
<rect x="510.8" y="98.8" width="7.8" height="5" fill="#b81828"/>
<text x="511.6" y="102.9" font-family="Liberation Sans, Arial, sans-serif" font-weight="bold" font-size="4.6" fill="#e8f0e0">Pb</text>
<rect x="510.8" y="105.4" width="7.8" height="5" fill="#c08a40"/>
<text x="511.6" y="109.5" font-family="Liberation Sans, Arial, sans-serif" font-weight="bold" font-size="4.6" fill="#e8f0e0">Br</text>
<circle cx="474" cy="95" r="1.6" fill="#c08040"/>
<circle cx="478" cy="96" r="1.6" fill="#30a040"/>
<circle cx="482" cy="94" r="1.6" fill="#c08040"/>
<circle cx="474" cy="101" r="1.6" fill="#c03030"/>
<circle cx="480" cy="101" r="1.6" fill="#c08040"/>
<rect x="464" y="116" width="56" height="111" fill="url(#gFl)"/>
<rect x="476" y="116" width="44" height="111" fill="url(#pLatF)"/>
<defs><linearGradient id="gFfade" x1="0" x2="1"><stop offset="0" stop-color="#0a0a0a"/><stop offset="0.62" stop-color="#0e0e0e"/><stop offset="1" stop-color="#1a1a1a" stop-opacity="0"/></linearGradient></defs>
<rect x="464" y="116" width="17" height="111" fill="url(#gFfade)"/>
<text x="466" y="123" font-family="Liberation Sans, Arial, sans-serif" font-weight="bold" font-size="7" fill="#fff">f</text>
<text x="487" y="125" font-family="Liberation Sans, Arial, sans-serif" font-size="7" fill="#fff">6.3 Å</text>
<rect x="510.6" y="207.3" width="7.8" height="5" fill="#2a9a3a"/>
<text x="511.4" y="211.4" font-family="Liberation Sans, Arial, sans-serif" font-weight="bold" font-size="4.6" fill="#e8f0e0">Cs</text>
<rect x="510.6" y="214.4" width="7.8" height="5" fill="#c01828"/>
<text x="511.4" y="218.5" font-family="Liberation Sans, Arial, sans-serif" font-weight="bold" font-size="4.6" fill="#e8f0e0">Pb</text>
<circle cx="481" cy="207" r="1.7" fill="#c03040"/>
<circle cx="488" cy="207" r="1.7" fill="#30a050"/>
<circle cx="495" cy="207" r="1.7" fill="#c03040"/>
<circle cx="481" cy="214" r="1.7" fill="#30a050"/>
<circle cx="488" cy="214" r="1.7" fill="#c03040"/>
<circle cx="495" cy="214" r="1.7" fill="#30a050"/>
<circle cx="481" cy="221" r="1.7" fill="#c03040"/>
<circle cx="488" cy="221" r="1.7" fill="#30a050"/>
<circle cx="495" cy="221" r="1.7" fill="#c03040"/>
<text x="312.5" y="106.8" font-family="Liberation Sans, Arial, sans-serif" font-weight="bold" font-size="8.6" fill="#fff" stroke="#111" stroke-width="1.6" paint-order="stroke" textLength="32.5" lengthAdjust="spacingAndGlyphs">100 nm</text>
<rect x="325.3" y="107.8" width="19.7" height="2.8" fill="#111"/><rect x="325.8" y="108.3" width="18.7" height="1.8" fill="#fff"/>
<text x="310" y="221" font-family="Liberation Sans, Arial, sans-serif" font-weight="bold" font-size="8.6" fill="#fff" stroke="#111" stroke-width="1.6" paint-order="stroke" textLength="34.5" lengthAdjust="spacingAndGlyphs">100 nm</text>
<rect x="308.5" y="222.4" width="36.5" height="2.8" fill="#111"/><rect x="309" y="222.9" width="35.5" height="1.8" fill="#fff"/>
<text x="237" y="8.5" font-family="Liberation Sans, Arial, sans-serif" font-weight="bold" font-size="7.5" fill="#fff" stroke="#222" stroke-width="0.9" paint-order="stroke">a</text>
<text x="237" y="124" font-family="Liberation Sans, Arial, sans-serif" font-weight="bold" font-size="8" fill="#fff" stroke="#222" stroke-width="0.9" paint-order="stroke">d</text>
<defs><linearGradient id="gTop" x1="0" y1="0" x2="0" y2="1"><stop offset="0" stop-color="#efe0b0"/><stop offset="1" stop-color="#e8d49a"/></linearGradient></defs>
<rect x="29.4" y="254.5" width="136" height="35.2" fill="url(#gTop)"/>
<rect x="32" y="254.4" width="13" height="8.5" fill="#86703c"/>
<rect x="33.8" y="255.6" width="9.4" height="5" fill="#bfa463"/>
<rect x="36" y="255.6" width="0.8" height="5" fill="#a88c50"/><rect x="40.2" y="255.6" width="0.8" height="5" fill="#a88c50"/>
<rect x="31.5" y="263" width="15" height="13" fill="#f0e4bc" opacity="0.8"/>
<rect x="31" y="274.5" width="16" height="14.6" rx="1.5" fill="#efe39a"/>
<line x1="31" y1="274.8" x2="47" y2="274.8" stroke="#8a7a40" stroke-width="0.8" opacity="0.7"/>
<rect x="52.2" y="254.4" width="13" height="8.5" fill="#86703c"/>
<rect x="54" y="255.6" width="9.4" height="5" fill="#bfa463"/>
<rect x="56.2" y="255.6" width="0.8" height="5" fill="#a88c50"/><rect x="60.4" y="255.6" width="0.8" height="5" fill="#a88c50"/>
<rect x="51.7" y="263" width="15" height="13" fill="#f0e4bc" opacity="0.8"/>
<rect x="51.2" y="274.5" width="16" height="14.6" rx="1.5" fill="#eee08a"/>
<line x1="51.2" y1="274.8" x2="67.2" y2="274.8" stroke="#8a7a40" stroke-width="0.8" opacity="0.7"/>
<rect x="71.8" y="254.4" width="13" height="8.5" fill="#86703c"/>
<rect x="73.6" y="255.6" width="9.4" height="5" fill="#bfa463"/>
<rect x="75.8" y="255.6" width="0.8" height="5" fill="#a88c50"/><rect x="80" y="255.6" width="0.8" height="5" fill="#a88c50"/>
<rect x="71.3" y="263" width="15" height="13" fill="#f0e4bc" opacity="0.8"/>
<rect x="70.8" y="274.5" width="16" height="14.6" rx="1.5" fill="#e6d84a"/>
<line x1="70.8" y1="274.8" x2="86.8" y2="274.8" stroke="#8a7a40" stroke-width="0.8" opacity="0.7"/>
<rect x="91.3" y="254.4" width="13" height="8.5" fill="#86703c"/>
<rect x="93.1" y="255.6" width="9.4" height="5" fill="#bfa463"/>
<rect x="95.3" y="255.6" width="0.8" height="5" fill="#a88c50"/><rect x="99.5" y="255.6" width="0.8" height="5" fill="#a88c50"/>
<rect x="90.8" y="263" width="15" height="13" fill="#f0e4bc" opacity="0.8"/>
<rect x="90.3" y="274.5" width="16" height="14.6" rx="1.5" fill="#d8dc30"/>
<line x1="90.3" y1="274.8" x2="106.3" y2="274.8" stroke="#8a7a40" stroke-width="0.8" opacity="0.7"/>
<rect x="110.8" y="254.4" width="13" height="8.5" fill="#86703c"/>
<rect x="112.6" y="255.6" width="9.4" height="5" fill="#bfa463"/>
<rect x="114.8" y="255.6" width="0.8" height="5" fill="#a88c50"/><rect x="119" y="255.6" width="0.8" height="5" fill="#a88c50"/>
<rect x="110.3" y="263" width="15" height="13" fill="#f0e4bc" opacity="0.8"/>
<rect x="109.8" y="274.5" width="16" height="14.6" rx="1.5" fill="#e2bc2a"/>
<line x1="109.8" y1="274.8" x2="125.8" y2="274.8" stroke="#8a7a40" stroke-width="0.8" opacity="0.7"/>
<rect x="129.8" y="254.4" width="13" height="8.5" fill="#86703c"/>
<rect x="131.6" y="255.6" width="9.4" height="5" fill="#bfa463"/>
<rect x="133.8" y="255.6" width="0.8" height="5" fill="#a88c50"/><rect x="138" y="255.6" width="0.8" height="5" fill="#a88c50"/>
<rect x="129.3" y="263" width="15" height="13" fill="#f0e4bc" opacity="0.8"/>
<rect x="128.8" y="274.5" width="16" height="14.6" rx="1.5" fill="#ea4a22"/>
<line x1="128.8" y1="274.8" x2="144.8" y2="274.8" stroke="#8a7a40" stroke-width="0.8" opacity="0.7"/>
<rect x="149" y="254.4" width="13" height="8.5" fill="#86703c"/>
<rect x="150.8" y="255.6" width="9.4" height="5" fill="#bfa463"/>
<rect x="153" y="255.6" width="0.8" height="5" fill="#a88c50"/><rect x="157.2" y="255.6" width="0.8" height="5" fill="#a88c50"/>
<rect x="148.5" y="263" width="15" height="13" fill="#f0e4bc" opacity="0.8"/>
<rect x="148" y="274.5" width="16" height="14.6" rx="1.5" fill="#c86a30"/>
<line x1="148" y1="274.8" x2="164" y2="274.8" stroke="#8a7a40" stroke-width="0.8" opacity="0.7"/>
<path d="M33 268v8h7v10" stroke="#7a6a40" stroke-width="1" fill="none" opacity="0.6"/>
<rect x="41" y="279" width="3" height="9" fill="#8a7a50" opacity="0.55"/>
<path d="M53.2 268v8h7v10" stroke="#7a6a40" stroke-width="1" fill="none" opacity="0.6"/>
<rect x="61.2" y="279" width="3" height="9" fill="#8a7a50" opacity="0.55"/>
<path d="M72.8 268v8h7v10" stroke="#7a6a40" stroke-width="1" fill="none" opacity="0.6"/>
<rect x="80.8" y="279" width="3" height="9" fill="#8a7a50" opacity="0.55"/>
<rect x="29.5" y="292" width="136" height="36.5" fill="#0b0b20"/>
<rect x="30" y="313.2" width="17.5" height="15.3" rx="1" fill="#22225e"/>
<rect x="30.5" y="313.2" width="16.5" height="2.2" fill="#303078" opacity="0.7"/>
<path d="M32 308.5V301.5H45.5V308.5" fill="none" stroke="#202060" stroke-width="1.1" opacity="0.8"/>
<line x1="32" y1="304.5" x2="45.5" y2="304.5" stroke="#202060" stroke-width="0.8" opacity="0.6"/>
<rect x="50.2" y="313.2" width="17.5" height="15.3" rx="1" fill="#3450c0"/>
<rect x="50.7" y="313.2" width="16.5" height="2.2" fill="#5070d8" opacity="0.7"/>
<path d="M52.2 308.5V301.5H65.7V308.5" fill="none" stroke="#2a3a90" stroke-width="1.1" opacity="0.8"/>
<line x1="52.2" y1="304.5" x2="65.7" y2="304.5" stroke="#2a3a90" stroke-width="0.8" opacity="0.6"/>
<rect x="69.8" y="313.2" width="17.5" height="15.3" rx="1" fill="#90def6"/>
<rect x="70.3" y="313.2" width="16.5" height="2.2" fill="#c0f0ff" opacity="0.7"/>
<path d="M71.8 308.5V301.5H85.3V308.5" fill="none" stroke="#3060c8" stroke-width="1.1" opacity="0.8"/>
<line x1="71.8" y1="304.5" x2="85.3" y2="304.5" stroke="#3060c8" stroke-width="0.8" opacity="0.6"/>
<rect x="89.3" y="313.2" width="17.5" height="15.3" rx="1" fill="#a0dcb0"/>
<rect x="89.8" y="313.2" width="16.5" height="2.2" fill="#c8f0d0" opacity="0.7"/>
<path d="M91.3 308.5V301.5H104.8V308.5" fill="none" stroke="#30b060" stroke-width="1.1" opacity="0.8"/>
<line x1="91.3" y1="304.5" x2="104.8" y2="304.5" stroke="#30b060" stroke-width="0.8" opacity="0.6"/>
<rect x="108.8" y="313.2" width="17.5" height="15.3" rx="1" fill="#30b050"/>
<rect x="109.3" y="313.2" width="16.5" height="2.2" fill="#60d080" opacity="0.7"/>
<path d="M110.8 308.5V301.5H124.3V308.5" fill="none" stroke="#208040" stroke-width="1.1" opacity="0.8"/>
<line x1="110.8" y1="304.5" x2="124.3" y2="304.5" stroke="#208040" stroke-width="0.8" opacity="0.6"/>
<rect x="127.8" y="313.2" width="17.5" height="15.3" rx="1" fill="#ff6030"/>
<rect x="128.3" y="313.2" width="16.5" height="2.2" fill="#ff9060" opacity="0.7"/>
<path d="M129.8 308.5V301.5H143.3V308.5" fill="none" stroke="#d02840" stroke-width="1.1" opacity="0.8"/>
<line x1="129.8" y1="304.5" x2="143.3" y2="304.5" stroke="#d02840" stroke-width="0.8" opacity="0.6"/>
<rect x="147" y="313.2" width="17.5" height="15.3" rx="1" fill="#a81828"/>
<rect x="147.5" y="313.2" width="16.5" height="2.2" fill="#c83040" opacity="0.7"/>
<path d="M149 308.5V301.5H162.5V308.5" fill="none" stroke="#601020" stroke-width="1.1" opacity="0.8"/>
<line x1="149" y1="304.5" x2="162.5" y2="304.5" stroke="#601020" stroke-width="0.8" opacity="0.6"/>
<text x="29.4" y="252.2" font-family="Liberation Sans, Arial, sans-serif" font-size="7.6" fill="#4a5870" textLength="21" lengthAdjust="spacingAndGlyphs">CsPbCl</text><text x="50.6" y="253.5" font-family="Liberation Sans, Arial, sans-serif" font-size="4.5" fill="#4a5870">3</text>
<text x="86.5" y="252.2" font-family="Liberation Sans, Arial, sans-serif" font-size="7.6" fill="#4a5870" textLength="22" lengthAdjust="spacingAndGlyphs">CsPbBr</text><text x="108.7" y="253.5" font-family="Liberation Sans, Arial, sans-serif" font-size="4.5" fill="#4a5870">3</text>
<text x="146.5" y="252.2" font-family="Liberation Sans, Arial, sans-serif" font-size="7.6" fill="#4a5870" textLength="16.5" lengthAdjust="spacingAndGlyphs">CsPbI</text><text x="163.1" y="253.5" font-family="Liberation Sans, Arial, sans-serif" font-size="4.5" fill="#4a5870">3</text>
<line x1="58" y1="249.7" x2="84.6" y2="249.7" stroke="#4a90d0" stroke-width="1"/><path d="M57 249.7l3.5-1.8v3.6z" fill="#4a90d0"/>
<line x1="113.5" y1="249.7" x2="141" y2="249.7" stroke="#4a90d0" stroke-width="1"/><path d="M142.3 249.7l-3.5-1.8v3.6z" fill="#4a90d0"/>
<defs><clipPath id="cpD"><rect x="29.8" y="363.7" width="137.79999999999998" height="110.5"/></clipPath></defs>
<g clip-path="url(#cpD)">
<polyline points="36.2,366.9 36.3,369.3 36.5,371.0 36.6,370.7 36.8,375.3 36.9,377.6 37.1,376.6 37.2,379.8 37.4,380.2 37.5,384.8 37.6,383.0 37.8,385.9 37.9,388.0 38.1,390.8 38.2,392.8 38.4,394.8 38.5,394.8 38.7,397.3 38.8,396.7 38.9,396.5 39.1,401.8 39.2,400.6 39.4,404.5 39.5,403.3 39.7,408.8 39.8,404.4 40.0,412.0 40.1,408.8 40.3,408.4 40.4,416.6 40.5,416.0 40.7,413.6 40.8,415.9 41.0,414.4 41.1,420.0 41.3,416.1 41.4,417.6 41.6,422.2 41.7,421.4 41.8,423.8 42.0,423.5 42.1,423.0 42.3,430.4 42.4,431.2 42.6,429.6 42.7,432.0 42.9,432.7 43.0,427.5 43.1,437.4 43.3,436.8 43.4,437.8 43.6,431.8 43.7,433.8 43.9,440.8 44.0,441.5 44.2,438.0 44.3,438.7 44.4,440.1 44.6,445.0 44.7,442.4 44.9,441.4 45.0,445.4 45.2,442.0 45.3,446.9 45.5,446.5 45.6,444.2 45.7,444.0 45.9,449.8 46.0,445.5 46.2,449.9 46.3,443.7 46.5,447.0 46.6,449.9 46.8,452.7 46.9,450.0 47.0,455.0 47.2,451.2 47.3,457.9 47.5,459.9 47.6,455.1 47.8,451.5 47.9,461.5 48.1,459.1 48.2,464.1 48.4,459.0 48.5,457.6 48.6,462.8 48.8,463.5 48.9,459.7 49.1,457.4 49.2,465.9 49.4,459.3 49.5,461.4 49.7,457.1 49.8,462.4 49.9,471.0 50.1,458.2 50.2,462.7 50.4,460.9 50.5,468.7 50.7,461.7 50.8,465.8 51.0,475.6 51.1,468.1 51.2,472.1 51.4,465.0 51.5,472.1 51.7,479.0 51.8,469.9 52.0,468.5 52.1,479.3 52.3,480.3 52.4,475.3 52.5,483.0 52.7,483.4 52.8,477.9 53.0,485.0 53.1,476.0 53.3,486.4 53.4,474.8 53.6,472.5 53.7,478.7 53.8,485.3 54.0,472.0 54.1,477.3 54.3,489.2 54.4,476.1 54.6,479.2 54.7,483.2 54.9,486.3 55.0,477.4 55.1,481.5 55.3,482.7 55.4,487.1 55.6,484.3 55.7,491.6 55.9,487.3 56.0,496.8 56.2,479.2 56.3,488.4" fill="none" stroke="#141850" stroke-width="0.9"/>
<polyline points="36.2,367.6 36.3,367.9 36.5,368.9 36.6,373.4 36.8,375.9 36.9,374.8 37.1,373.9 37.2,380.0 37.4,378.1 37.5,379.6 37.6,383.0 37.8,383.9 37.9,386.1 38.1,387.6 38.2,389.4 38.4,385.1 38.5,391.5 38.7,386.9 38.8,395.6 38.9,393.2 39.1,390.9 39.2,392.9 39.4,397.5 39.5,393.8 39.7,396.4 39.8,398.9 40.0,401.5 40.1,398.2 40.3,402.4 40.4,403.9 40.5,402.3 40.7,403.2 40.8,407.6 41.0,406.3 41.1,405.4 41.3,413.7 41.4,408.7 41.6,408.7 41.7,412.1 41.8,419.4 42.0,413.4 42.1,417.5 42.3,421.1 42.4,423.1 42.6,417.4 42.7,419.7 42.9,421.7 43.0,421.7 43.1,419.9 43.3,421.7 43.4,423.1 43.6,421.8 43.7,424.4 43.9,424.1 44.0,418.7 44.2,430.8 44.3,425.5 44.4,422.6 44.6,426.0 44.7,434.8 44.9,427.4 45.0,425.9 45.2,423.6 45.3,428.8 45.5,433.9 45.6,431.4 45.7,426.8 45.9,429.9 46.0,438.0 46.2,427.4 46.3,433.0 46.5,432.9 46.6,435.0 46.8,439.5 46.9,435.4 47.0,443.7 47.2,436.3 47.3,434.9 47.5,440.3 47.6,446.5 47.8,437.2 47.9,446.0 48.1,448.7 48.2,433.0 48.4,433.5 48.5,439.7 48.6,440.6 48.8,436.6 48.9,440.8 49.1,435.7 49.2,436.4 49.4,450.9 49.5,450.3 49.7,445.0 49.8,445.9 49.9,447.3 50.1,452.8 50.2,444.9 50.4,443.4 50.5,439.0 50.7,452.7 50.8,442.2 51.0,439.8 51.1,449.7 51.2,453.4 51.4,444.5 51.5,441.3 51.7,445.6 51.8,450.6 52.0,452.8 52.1,451.6 52.3,456.6 52.4,459.7 52.5,455.1 52.7,457.6 52.8,445.8 53.0,447.3 53.1,454.2 53.3,454.2 53.4,445.5 53.6,460.6 53.7,459.4 53.8,451.1 54.0,444.2 54.1,461.3 54.3,446.4 54.4,448.3 54.6,454.3 54.7,464.6 54.9,464.8 55.0,454.9 55.1,462.4 55.3,457.6 55.4,466.4 55.6,464.3 55.7,447.6 55.9,457.7 56.0,458.5 56.2,452.1 56.3,455.8 56.5,453.5 56.6,453.9 56.7,467.6 56.9,462.8 57.0,452.3 57.2,462.1 57.3,451.8 57.5,478.0 57.6,457.5 57.8,470.4 57.9,469.2 58.0,450.9 58.2,468.5 58.3,461.7 58.5,460.5 58.6,468.5 58.8,475.6 58.9,474.5 59.1,468.6 59.2,472.1 59.3,467.4 59.5,465.9 59.6,458.7 59.8,467.9 59.9,471.6 60.1,477.3 60.2,479.9 60.4,471.4 60.5,477.5 60.6,476.3 60.8,476.1 60.9,488.5 61.1,469.6 61.2,455.8 61.4,460.6 61.5,479.9 61.7,472.6 61.8,459.5 61.9,471.6 62.1,467.1 62.2,463.0 62.4,464.7 62.5,489.0 62.7,479.6 62.8,473.7 63.0,482.6 63.1,470.1 63.2,473.5 63.4,467.5 63.5,476.3 63.7,466.0 63.8,475.6 64.0,471.9 64.1,478.6 64.3,486.9 64.4,484.7 64.6,470.0 64.7,479.8 64.8,467.9 65.0,486.1 65.1,466.4 65.3,471.9 65.4,465.2 65.6,484.3 65.7,486.7 65.9,490.6 66.0,481.9 66.1,467.0 66.3,469.6 66.4,477.7 66.6,491.7 66.7,480.8 66.9,467.8 67.0,476.1 67.2,480.2 67.3,504.4 67.4,487.9 67.6,468.9 67.7,476.8 67.9,495.3 68.0,475.2 68.2,488.7 68.3,485.1 68.5,477.5 68.6,489.4 68.7,474.7 68.9,469.5 69.0,470.5 69.2,500.6 69.3,480.7 69.5,471.0 69.6,506.2 69.8,484.1 69.9,484.3 70.0,489.6 70.2,502.7 70.3,489.5 70.5,502.8 70.6,492.9 70.8,497.2 70.9,491.0 71.1,493.1 71.2,482.6 71.3,485.4 71.5,500.6 71.6,484.7 71.8,498.7 71.9,476.7 72.1,487.0" fill="none" stroke="#2848a8" stroke-width="0.9"/>
<polyline points="36.2,368.8 36.3,366.8 36.5,367.8 36.6,368.9 36.8,369.0 36.9,372.9 37.1,372.5 37.2,375.1 37.4,374.3 37.5,377.2 37.6,375.9 37.8,378.1 37.9,379.9 38.1,380.8 38.2,379.1 38.4,380.0 38.5,381.3 38.7,385.3 38.8,382.1 38.9,385.9 39.1,387.1 39.2,385.2 39.4,386.9 39.5,385.1 39.7,385.7 39.8,388.6 40.0,389.2 40.1,392.4 40.3,391.1 40.4,394.0 40.5,395.0 40.7,391.4 40.8,391.6 41.0,395.8 41.1,394.6 41.3,394.8 41.4,399.2 41.6,397.2 41.7,396.3 41.8,396.8 42.0,397.1 42.1,398.4 42.3,402.1 42.4,399.6 42.6,402.4 42.7,403.6 42.9,405.1 43.0,406.2 43.1,401.2 43.3,405.0 43.4,407.1 43.6,409.5 43.7,403.7 43.9,407.4 44.0,405.4 44.2,407.0 44.3,406.7 44.4,409.7 44.6,412.5 44.7,414.1 44.9,408.5 45.0,407.2 45.2,411.3 45.3,412.0 45.5,410.4 45.6,411.4 45.7,409.9 45.9,414.3 46.0,412.9 46.2,415.7 46.3,415.3 46.5,412.5 46.6,415.5 46.8,419.0 46.9,417.6 47.0,419.0 47.2,416.4 47.3,416.5 47.5,416.1 47.6,419.5 47.8,415.7 47.9,419.9 48.1,422.3 48.2,416.3 48.4,419.3 48.5,422.5 48.6,420.2 48.8,420.4 48.9,421.0 49.1,418.4 49.2,419.7 49.4,425.2 49.5,424.6 49.7,423.0 49.8,423.7 49.9,427.9 50.1,426.8 50.2,421.4 50.4,421.5 50.5,425.8 50.7,423.8 50.8,430.3 51.0,423.8 51.1,430.5 51.2,428.3 51.4,425.8 51.5,428.2 51.7,432.1 51.8,427.8 52.0,429.3 52.1,426.9 52.3,427.0 52.4,432.0 52.5,429.0 52.7,436.2 52.8,427.3 53.0,430.3 53.1,437.3 53.3,427.5 53.4,429.2 53.6,427.6 53.7,428.5 53.8,430.9 54.0,434.2 54.1,436.9 54.3,431.2 54.4,439.2 54.6,433.1 54.7,430.5 54.9,437.2 55.0,429.7 55.1,433.2 55.3,437.1 55.4,439.3 55.6,434.3 55.7,436.3 55.9,437.8 56.0,433.2 56.2,431.8 56.3,440.3 56.5,432.8 56.6,438.6 56.7,443.4 56.9,435.7 57.0,440.5 57.2,441.9 57.3,433.9 57.5,440.6 57.6,440.0 57.8,438.0 57.9,439.0 58.0,443.7 58.2,444.3 58.3,445.5 58.5,436.0 58.6,437.3 58.8,441.4 58.9,442.1 59.1,437.1 59.2,446.1 59.3,447.2 59.5,446.0 59.6,449.4 59.8,450.2 59.9,444.1 60.1,439.6 60.2,444.0 60.4,447.9 60.5,441.3 60.6,450.5 60.8,442.4 60.9,445.6 61.1,440.5 61.2,450.1 61.4,451.5 61.5,450.6 61.7,452.8 61.8,446.7 61.9,450.1 62.1,451.1 62.2,444.6 62.4,445.6 62.5,455.4 62.7,453.8 62.8,444.3 63.0,449.6 63.1,445.9 63.2,448.1 63.4,456.8 63.5,448.7 63.7,445.6 63.8,445.6 64.0,455.3 64.1,456.2 64.3,458.1 64.4,455.5 64.6,452.0 64.7,449.4 64.8,460.8 65.0,449.7 65.1,459.4 65.3,452.9 65.4,459.5 65.6,452.0 65.7,449.6 65.9,449.3 66.0,461.5 66.1,449.1 66.3,455.6 66.4,451.2 66.6,459.8 66.7,453.1 66.9,451.0 67.0,463.8 67.2,451.6 67.3,466.6 67.4,453.8 67.6,463.1 67.7,456.1 67.9,458.2 68.0,454.2 68.2,455.9 68.3,459.8 68.5,460.1 68.6,461.4 68.7,463.0 68.9,459.3 69.0,455.3 69.2,467.4 69.3,459.5 69.5,466.2 69.6,466.6 69.8,466.5 69.9,459.7 70.0,459.4 70.2,455.6 70.3,457.9 70.5,466.9 70.6,469.8 70.8,466.2 70.9,459.1 71.1,461.8 71.2,458.5 71.3,463.1 71.5,473.1 71.6,464.0 71.8,479.8 71.9,470.3 72.1,465.6 72.2,474.4 72.4,462.9 72.5,466.3 72.7,466.9 72.8,459.7 72.9,474.6 73.1,469.9 73.2,475.9 73.4,465.5 73.5,478.0 73.7,461.3 73.8,465.7 74.0,469.0 74.1,479.0 74.2,463.4 74.4,479.8 74.5,467.2 74.7,480.6 74.8,479.5 75.0,477.2 75.1,465.9 75.3,469.7 75.4,474.9 75.5,479.7 75.7,477.7 75.8,481.5 76.0,471.5 76.1,471.8 76.3,474.1 76.4,469.6 76.6,483.9 76.7,481.8 76.8,477.2 77.0,473.5 77.1,478.6 77.3,482.0 77.4,474.0 77.6,473.6 77.7,476.8 77.9,478.9 78.0,489.8 78.1,469.8 78.3,482.3 78.4,478.0 78.6,481.2 78.7,473.8 78.9,486.3 79.0,476.0 79.2,480.0 79.3,475.6 79.5,482.4 79.6,476.3 79.7,480.0 79.9,487.9 80.0,483.4 80.2,495.3 80.3,479.5 80.5,474.4 80.6,494.5 80.8,486.8 80.9,474.5 81.0,491.9 81.2,477.8 81.3,489.3 81.5,488.8 81.6,484.9 81.8,494.9 81.9,474.0 82.1,488.6 82.2,489.4 82.3,488.1 82.5,489.7 82.6,490.8 82.8,496.9 82.9,496.5 83.1,480.1 83.2,487.5 83.4,493.6 83.5,498.2 83.6,489.4 83.8,483.7 83.9,507.2 84.1,492.3 84.2,496.0 84.4,480.3 84.5,492.2 84.7,501.1 84.8,502.5" fill="none" stroke="#78c8dc" stroke-width="0.9"/>
<polyline points="36.2,368.0 36.3,368.2 36.5,369.0 36.6,369.3 36.8,370.7 36.9,371.8 37.1,370.7 37.2,373.0 37.4,371.3 37.5,372.3 37.6,372.4 37.8,376.0 37.9,374.7 38.1,374.9 38.2,374.6 38.4,374.4 38.5,375.9 38.7,379.0 38.8,376.7 38.9,378.8 39.1,377.2 39.2,379.6 39.4,378.1 39.5,381.4 39.7,382.3 39.8,384.7 40.0,381.8 40.1,384.3 40.3,383.6 40.4,380.8 40.5,383.3 40.7,387.5 40.8,384.6 41.0,382.8 41.1,385.3 41.3,384.7 41.4,385.9 41.6,388.5 41.7,386.8 41.8,387.8 42.0,388.4 42.1,388.1 42.3,386.9 42.4,389.6 42.6,388.9 42.7,391.1 42.9,389.9 43.0,392.2 43.1,389.5 43.3,388.6 43.4,393.5 43.6,389.3 43.7,393.7 43.9,391.0 44.0,393.7 44.2,395.1 44.3,393.3 44.4,391.8 44.6,396.0 44.7,396.5 44.9,397.3 45.0,397.3 45.2,397.7 45.3,393.4 45.5,396.9 45.6,398.1 45.7,396.3 45.9,397.1 46.0,396.0 46.2,400.2 46.3,399.4 46.5,395.6 46.6,398.0 46.8,400.4 46.9,399.1 47.0,399.7 47.2,399.8 47.3,402.8 47.5,400.0 47.6,402.5 47.8,399.2 47.9,405.1 48.1,400.1 48.2,401.2 48.4,401.2 48.5,402.7 48.6,404.1 48.8,406.0 48.9,405.4 49.1,404.6 49.2,406.0 49.4,402.6 49.5,404.4 49.7,404.0 49.8,404.1 49.9,404.8 50.1,407.1 50.2,410.2 50.4,404.6 50.5,407.9 50.7,409.8 50.8,411.1 51.0,406.4 51.1,409.7 51.2,406.8 51.4,411.9 51.5,408.8 51.7,410.4 51.8,408.3 52.0,410.6 52.1,411.0 52.3,413.9 52.4,410.3 52.5,410.2 52.7,414.6 52.8,411.9 53.0,412.3 53.1,413.2 53.3,414.2 53.4,410.2 53.6,415.0 53.7,414.9 53.8,411.7 54.0,415.5 54.1,410.7 54.3,416.8 54.4,420.7 54.6,414.8 54.7,415.7 54.9,416.7 55.0,416.9 55.1,417.6 55.3,416.0 55.4,418.4 55.6,414.8 55.7,419.1 55.9,417.8 56.0,416.8 56.2,420.5 56.3,418.2 56.5,415.3 56.6,422.3 56.7,417.2 56.9,420.2 57.0,418.9 57.2,421.7 57.3,419.5 57.5,418.1 57.6,417.9 57.8,422.0 57.9,422.0 58.0,422.3 58.2,429.8 58.3,426.2 58.5,421.2 58.6,427.0 58.8,421.4 58.9,428.0 59.1,423.5 59.2,422.0 59.3,422.8 59.5,421.5 59.6,427.1 59.8,426.6 59.9,428.7 60.1,427.7 60.2,430.1 60.4,430.4 60.5,422.8 60.6,428.6 60.8,429.8 60.9,424.6 61.1,430.5 61.2,426.7 61.4,433.2 61.5,426.6 61.7,435.0 61.8,432.2 61.9,430.0 62.1,428.4 62.2,430.1 62.4,430.4 62.5,428.0 62.7,429.4 62.8,428.2 63.0,437.1 63.1,436.0 63.2,436.6 63.4,431.2 63.5,430.1 63.7,434.0 63.8,432.1 64.0,435.9 64.1,432.2 64.3,432.6 64.4,439.9 64.6,432.7 64.7,435.6 64.8,435.8 65.0,433.9 65.1,435.3 65.3,439.2 65.4,432.3 65.6,436.7 65.7,440.8 65.9,442.5 66.0,440.6 66.1,439.9 66.3,442.3 66.4,439.3 66.6,440.2 66.7,437.8 66.9,440.1 67.0,446.2 67.2,446.3 67.3,439.3 67.4,442.1 67.6,437.1 67.7,441.2 67.9,441.6 68.0,438.3 68.2,444.7 68.3,445.9 68.5,440.7 68.6,442.3 68.7,449.0 68.9,448.0 69.0,442.4 69.2,449.7 69.3,443.7 69.5,444.6 69.6,447.2 69.8,444.2 69.9,442.2 70.0,441.3 70.2,451.6 70.3,448.5 70.5,448.4 70.6,443.8 70.8,450.4 70.9,452.8 71.1,449.8 71.2,449.8 71.3,449.0 71.5,451.3 71.6,448.3 71.8,451.1 71.9,452.0 72.1,446.1 72.2,447.9 72.4,451.7 72.5,458.7 72.7,455.3 72.8,448.1 72.9,463.1 73.1,451.5 73.2,454.5 73.4,458.2 73.5,457.1 73.7,461.0 73.8,460.5 74.0,461.6 74.1,458.0 74.2,457.1 74.4,456.4 74.5,462.4 74.7,463.1 74.8,459.1 75.0,460.7 75.1,461.2 75.3,456.2 75.4,456.0 75.5,455.3 75.7,465.1 75.8,452.9 76.0,463.6 76.1,465.0 76.3,452.7 76.4,457.8 76.6,460.7 76.7,462.3 76.8,456.6 77.0,464.2 77.1,468.0 77.3,461.3 77.4,469.4 77.6,462.7 77.7,458.8 77.9,470.1 78.0,459.1 78.1,465.1 78.3,466.3 78.4,468.4 78.6,469.4 78.7,458.9 78.9,458.4 79.0,473.3 79.2,460.8 79.3,473.6 79.5,467.2 79.6,465.3 79.7,468.2 79.9,473.9 80.0,469.9 80.2,471.8 80.3,474.1 80.5,471.3 80.6,471.8 80.8,468.3 80.9,479.0 81.0,465.6 81.2,476.8 81.3,460.9 81.5,474.1 81.6,472.9 81.8,467.9 81.9,462.3 82.1,476.9 82.2,476.7 82.3,476.4 82.5,465.3 82.6,472.3 82.8,478.6 82.9,470.7 83.1,469.2 83.2,490.3 83.4,481.3 83.5,472.5 83.6,467.9 83.8,476.0 83.9,474.7 84.1,486.1 84.2,482.6 84.4,481.5 84.5,481.6 84.7,481.5 84.8,471.0 84.9,485.7 85.1,467.6 85.2,487.8 85.4,477.7 85.5,480.9 85.7,478.2 85.8,486.9 86.0,483.8 86.1,472.9 86.2,482.7 86.4,474.1 86.5,487.4 86.7,475.8 86.8,485.3 87.0,489.0 87.1,487.6 87.3,483.1 87.4,470.9 87.6,480.8 87.7,492.8 87.8,484.2 88.0,491.5 88.1,481.8 88.3,494.5 88.4,476.0 88.6,487.6 88.7,489.1 88.9,490.6 89.0,495.6 89.1,496.2 89.3,480.9 89.4,477.0 89.6,482.7 89.7,485.8 89.9,483.8 90.0,487.6 90.2,476.7 90.3,490.1 90.4,493.6 90.6,476.3 90.7,493.9 90.9,481.0 91.0,500.5 91.2,488.7 91.3,486.0" fill="none" stroke="#66b866" stroke-width="0.9"/>
<polyline points="36.2,368.8 36.3,365.7 36.5,367.0 36.6,369.2 36.8,370.2 36.9,371.5 37.1,368.7 37.2,370.6 37.4,372.3 37.5,374.7 37.6,371.9 37.8,374.3 37.9,373.2 38.1,372.9 38.2,374.3 38.4,374.3 38.5,373.9 38.7,376.4 38.8,376.3 38.9,378.9 39.1,379.3 39.2,376.3 39.4,380.8 39.5,376.4 39.7,378.7 39.8,382.1 40.0,380.0 40.1,380.2 40.3,382.6 40.4,381.0 40.5,378.1 40.7,381.4 40.8,384.0 41.0,383.4 41.1,384.0 41.3,380.9 41.4,382.9 41.6,381.4 41.7,383.5 41.8,386.3 42.0,384.8 42.1,382.7 42.3,387.8 42.4,386.1 42.6,386.4 42.7,386.2 42.9,383.7 43.0,386.9 43.1,386.9 43.3,387.1 43.4,387.9 43.6,389.5 43.7,387.4 43.9,389.2 44.0,385.5 44.2,386.5 44.3,386.4 44.4,389.5 44.6,389.3 44.7,393.4 44.9,392.7 45.0,386.8 45.2,391.3 45.3,392.1 45.5,386.4 45.6,388.4 45.7,386.8 45.9,389.4 46.0,391.0 46.2,390.7 46.3,389.6 46.5,389.9 46.6,394.9 46.8,388.6 46.9,393.5 47.0,390.4 47.2,388.9 47.3,395.0 47.5,394.7 47.6,392.2 47.8,395.2 47.9,389.9 48.1,396.4 48.2,396.7 48.4,394.0 48.5,394.7 48.6,395.5 48.8,394.7 48.9,393.7 49.1,398.0 49.2,395.1 49.4,392.4 49.5,393.1 49.7,395.1 49.8,392.1 49.9,392.7 50.1,399.3 50.2,398.7 50.4,392.7 50.5,394.8 50.7,394.8 50.8,398.4 51.0,398.2 51.1,397.4 51.2,395.9 51.4,394.9 51.5,395.4 51.7,395.2 51.8,394.3 52.0,398.9 52.1,401.6 52.3,396.0 52.4,401.5 52.5,402.2 52.7,397.5 52.8,395.3 53.0,402.2 53.1,402.3 53.3,402.2 53.4,403.6 53.6,403.5 53.7,404.1 53.8,401.3 54.0,403.7 54.1,398.6 54.3,398.1 54.4,401.1 54.6,398.0 54.7,404.9 54.9,404.5 55.0,404.2 55.1,400.5 55.3,399.6 55.4,404.6 55.6,404.8 55.7,401.5 55.9,398.2 56.0,404.2 56.2,402.2 56.3,406.5 56.5,405.4 56.6,400.7 56.7,403.4 56.9,406.7 57.0,406.2 57.2,400.5 57.3,400.8 57.5,403.3 57.6,408.4 57.8,406.5 57.9,403.5 58.0,404.5 58.2,406.2 58.3,401.9 58.5,407.1 58.6,408.0 58.8,401.0 58.9,409.7 59.1,405.5 59.2,408.3 59.3,408.0 59.5,405.2 59.6,403.2 59.8,407.3 59.9,404.8 60.1,402.3 60.2,406.6 60.4,403.2 60.5,410.2 60.6,403.3 60.8,410.1 60.9,403.3 61.1,411.9 61.2,403.8 61.4,411.2 61.5,410.1 61.7,414.6 61.8,412.7 61.9,408.8 62.1,413.6 62.2,412.0 62.4,413.0 62.5,411.7 62.7,405.6 62.8,410.1 63.0,411.1 63.1,414.3 63.2,414.5 63.4,408.4 63.5,415.1 63.7,413.3 63.8,408.5 64.0,415.6 64.1,414.6 64.3,410.0 64.4,411.8 64.6,413.8 64.7,415.4 64.8,406.9 65.0,414.6 65.1,413.6 65.3,414.4 65.4,412.7 65.6,412.6 65.7,409.6 65.9,410.8 66.0,407.6 66.1,409.3 66.3,410.1 66.4,416.4 66.6,419.0 66.7,409.8 66.9,418.2 67.0,408.3 67.2,418.2 67.3,409.4 67.4,415.6 67.6,413.8 67.7,411.7 67.9,420.0 68.0,419.6 68.2,415.2 68.3,419.2 68.5,414.7 68.6,419.7 68.7,415.3 68.9,421.9 69.0,418.9 69.2,418.4 69.3,420.8 69.5,421.0 69.6,419.9 69.8,420.6 69.9,420.4 70.0,411.4 70.2,419.0 70.3,415.9 70.5,415.1 70.6,418.9 70.8,421.0 70.9,418.1 71.1,421.8 71.2,418.4 71.3,422.0 71.5,423.9 71.6,423.0 71.8,415.7 71.9,423.7 72.1,419.7 72.2,412.4 72.4,420.0 72.5,414.0 72.7,422.5 72.8,424.2 72.9,419.7 73.1,424.4 73.2,413.5 73.4,414.8 73.5,414.0 73.7,420.6 73.8,424.6 74.0,422.2 74.1,420.1 74.2,417.3 74.4,418.7 74.5,424.1 74.7,422.8 74.8,427.1 75.0,419.8 75.1,416.5 75.3,424.0 75.4,419.2 75.5,420.0 75.7,418.0 75.8,426.6 76.0,420.7 76.1,420.5 76.3,422.6 76.4,430.8 76.6,420.0 76.7,421.8 76.8,422.8 77.0,418.0 77.1,422.9 77.3,424.6 77.4,417.2 77.6,430.2 77.7,416.2 77.9,424.1 78.0,417.5 78.1,424.4 78.3,430.1 78.4,421.5 78.6,418.4 78.7,429.4 78.9,426.7 79.0,423.6 79.2,434.3 79.3,427.3 79.5,418.6 79.6,425.9 79.7,424.9 79.9,430.1 80.0,432.9 80.2,431.7 80.3,429.4 80.5,427.0 80.6,431.3 80.8,429.3 80.9,423.7 81.0,418.9 81.2,421.9 81.3,421.8 81.5,431.7 81.6,427.1 81.8,431.7 81.9,431.4 82.1,429.0 82.2,423.7 82.3,423.8 82.5,423.1 82.6,422.7 82.8,429.7 82.9,427.4 83.1,422.7 83.2,431.3 83.4,431.6 83.5,428.3 83.6,425.6 83.8,427.5 83.9,430.8 84.1,427.6 84.2,433.4 84.4,434.1 84.5,432.8 84.7,428.8 84.8,423.5 84.9,433.4 85.1,429.5 85.2,433.5 85.4,426.6 85.5,424.5 85.7,423.8 85.8,434.7 86.0,424.5 86.1,429.9 86.2,434.5 86.4,431.5 86.5,424.3 86.7,426.9 86.8,422.7 87.0,429.8 87.1,428.4 87.3,422.9 87.4,429.8 87.6,432.3 87.7,432.4 87.8,431.6 88.0,437.0 88.1,431.4 88.3,427.0 88.4,424.9 88.6,431.9 88.7,431.6 88.9,436.2 89.0,429.9 89.1,424.3 89.3,424.3 89.4,431.5 89.6,428.4 89.7,438.1 89.9,432.1 90.0,435.5 90.2,428.9 90.3,433.9 90.4,429.6 90.6,437.7 90.7,436.9 90.9,437.1 91.0,433.7 91.2,428.5 91.3,429.1 91.5,428.7 91.6,430.8 91.7,438.6 91.9,429.3 92.0,430.6 92.2,436.0 92.3,428.3 92.5,430.9 92.6,438.4 92.8,437.8 92.9,427.8 93.0,435.9 93.2,429.9 93.3,440.1 93.5,432.7 93.6,427.5 93.8,438.5 93.9,430.4 94.1,439.9 94.2,436.2 94.3,430.0 94.5,441.4 94.6,433.2 94.8,445.3 94.9,438.2 95.1,432.6 95.2,438.4 95.4,437.9 95.5,443.2 95.7,434.6 95.8,440.0 95.9,439.1 96.1,437.2 96.2,437.9 96.4,442.1 96.5,435.5 96.7,449.6 96.8,431.1 97.0,438.7 97.1,434.1 97.2,432.2 97.4,431.5 97.5,437.4 97.7,444.7 97.8,431.8 98.0,430.9 98.1,444.5 98.3,445.3 98.4,441.4 98.5,447.4 98.7,438.2 98.8,442.8 99.0,430.4 99.1,430.3 99.3,433.4 99.4,436.8 99.6,440.4 99.7,433.8 99.8,431.2 100.0,442.2 100.1,435.0 100.3,443.3 100.4,446.7 100.6,437.6 100.7,437.2 100.9,431.2 101.0,443.7 101.1,438.7 101.3,444.1 101.4,446.3 101.6,444.7 101.7,439.9 101.9,432.7 102.0,438.3 102.2,448.0 102.3,446.6 102.4,440.2 102.6,432.2 102.7,445.9 102.9,448.5 103.0,439.2 103.2,435.8 103.3,448.3 103.5,441.1 103.6,444.2 103.8,450.2 103.9,453.3 104.0,441.0 104.2,452.3 104.3,447.7 104.5,443.1 104.6,433.5 104.8,446.1 104.9,437.2 105.1,436.9 105.2,442.7 105.3,442.7 105.5,449.7 105.6,438.8 105.8,456.8 105.9,448.4 106.1,434.6 106.2,435.1 106.4,447.7 106.5,435.8 106.6,441.3 106.8,436.5 106.9,451.5 107.1,441.6 107.2,445.5 107.4,446.6 107.5,435.2 107.7,452.8 107.8,439.4 107.9,440.8 108.1,447.5 108.2,450.0 108.4,453.7 108.5,448.2 108.7,457.6 108.8,452.1 109.0,445.2 109.1,450.6 109.2,440.6 109.4,449.2 109.5,436.5 109.7,445.4 109.8,442.3 110.0,444.0 110.1,440.6 110.3,456.4 110.4,444.4 110.6,442.3 110.7,456.5 110.8,459.2 111.0,443.0 111.1,449.7 111.3,437.6 111.4,454.7 111.6,453.8 111.7,449.2 111.9,450.9 112.0,449.5 112.1,441.5 112.3,448.3 112.4,448.8 112.6,441.6 112.7,441.1 112.9,448.3 113.0,439.0 113.2,455.4 113.3,446.9 113.4,445.8 113.6,442.9 113.7,455.2 113.9,445.3 114.0,442.0 114.2,440.5 114.3,441.6 114.5,454.6 114.6,444.4 114.7,440.1 114.9,444.3 115.0,443.3 115.2,454.7 115.3,442.4 115.5,440.0 115.6,444.6 115.8,440.7 115.9,443.9 116.0,455.3 116.2,452.8 116.3,459.3 116.5,445.9 116.6,448.9 116.8,442.3 116.9,450.8 117.1,456.7 117.2,448.3 117.3,458.2 117.5,457.1 117.6,446.3 117.8,455.2 117.9,450.7 118.1,446.6 118.2,448.4 118.4,440.1 118.5,458.1 118.7,447.2 118.8,444.4 118.9,456.2 119.1,455.4 119.2,455.8 119.4,455.7 119.5,456.5 119.7,465.9 119.8,462.3 120.0,458.0 120.1,454.6 120.2,452.7 120.4,447.5 120.5,460.6 120.7,454.1 120.8,449.3 121.0,443.1 121.1,445.8 121.3,452.5 121.4,449.2 121.5,451.8 121.7,448.5 121.8,445.1 122.0,454.0 122.1,452.1 122.3,445.4 122.4,451.7 122.6,443.6 122.7,466.2 122.8,458.6 123.0,453.5 123.1,451.2 123.3,443.9 123.4,446.9 123.6,452.2 123.7,447.5 123.9,442.9 124.0,447.4 124.1,455.7 124.3,453.1 124.4,449.1 124.6,459.7 124.7,458.0 124.9,459.2 125.0,445.3 125.2,463.1 125.3,457.3 125.4,464.6 125.6,462.1 125.7,462.7 125.9,463.8 126.0,461.3 126.2,458.4 126.3,446.4 126.5,445.9 126.6,461.4 126.8,460.0 126.9,457.2 127.0,463.2 127.2,453.2 127.3,461.3 127.5,452.5 127.6,459.3 127.8,447.8 127.9,447.2 128.1,463.7 128.2,468.3 128.3,455.3 128.5,465.0 128.6,468.9 128.8,460.4 128.9,458.4 129.1,449.0 129.2,460.3 129.4,462.7 129.5,458.8 129.6,462.0 129.8,452.5 129.9,460.8 130.1,450.4 130.2,458.7 130.4,456.1 130.5,466.9 130.7,459.3 130.8,447.0 130.9,462.6 131.1,451.7 131.2,466.2 131.4,463.3 131.5,454.1 131.7,457.6 131.8,466.0 132.0,457.5 132.1,465.1 132.2,466.3 132.4,455.8 132.5,458.9 132.7,453.2 132.8,461.7 133.0,458.9 133.1,454.4 133.3,461.7 133.4,464.0 133.5,455.8 133.7,473.7 133.8,470.3 134.0,466.6 134.1,456.5 134.3,469.0 134.4,464.0 134.6,458.0 134.7,456.7 134.9,467.8 135.0,453.9 135.1,449.2 135.3,448.5 135.4,457.3 135.6,467.2 135.7,457.6 135.9,465.5 136.0,463.8 136.2,450.3 136.3,463.4 136.4,449.0 136.6,469.3 136.7,472.3 136.9,461.0 137.0,465.6 137.2,467.8 137.3,477.4 137.5,474.1 137.6,465.4 137.7,461.6 137.9,473.0 138.0,451.0 138.2,460.2 138.3,456.9 138.5,459.6 138.6,451.0 138.8,467.3 138.9,473.1 139.0,471.5 139.2,462.5 139.3,470.7 139.5,461.2 139.6,462.1 139.8,465.0 139.9,454.1 140.1,468.7 140.2,470.7 140.3,458.6 140.5,457.9 140.6,473.0 140.8,466.2 140.9,452.1 141.1,474.7 141.2,451.5 141.4,466.0 141.5,453.2 141.6,465.6 141.8,465.3 141.9,461.3 142.1,453.7 142.2,472.6 142.4,477.8 142.5,456.2 142.7,469.5 142.8,469.7 143.0,462.3 143.1,454.7 143.2,472.3 143.4,461.9 143.5,472.7 143.7,457.7 143.8,474.7 144.0,453.3 144.1,471.7 144.3,453.5 144.4,466.4 144.5,455.1 144.7,468.9 144.8,461.5 145.0,475.2 145.1,456.3 145.3,470.1 145.4,466.3 145.6,474.9 145.7,484.1 145.8,457.4 146.0,464.4 146.1,465.6 146.3,471.9 146.4,465.2 146.6,463.7 146.7,479.0 146.9,457.7 147.0,462.4 147.1,465.8 147.3,470.2 147.4,460.4 147.6,470.3 147.7,475.8 147.9,470.6 148.0,482.3 148.2,473.6 148.3,484.0 148.4,473.4 148.6,461.8 148.7,477.6 148.9,475.9 149.0,472.4 149.2,469.6 149.3,472.9 149.5,460.2 149.6,460.6 149.8,472.5 149.9,480.4 150.0,457.7 150.2,479.0 150.3,460.6 150.5,479.7 150.6,475.2 150.8,461.3 150.9,477.9 151.1,463.4 151.2,464.9 151.3,465.4 151.5,473.3 151.6,471.6 151.8,465.8 151.9,465.0 152.1,479.0 152.2,468.4 152.4,464.9 152.5,468.6 152.6,474.9 152.8,471.6 152.9,491.3 153.1,464.1 153.2,457.5 153.4,465.2 153.5,477.3 153.7,471.5 153.8,475.7 153.9,478.0 154.1,471.2 154.2,484.5 154.4,483.6 154.5,482.2 154.7,480.4 154.8,460.1 155.0,465.4 155.1,477.9 155.2,474.3 155.4,464.6 155.5,483.7 155.7,483.2 155.8,462.2 156.0,474.1 156.1,473.1 156.3,479.4 156.4,479.6 156.5,464.8 156.7,485.0 156.8,478.5 157.0,473.5 157.1,465.6 157.3,472.4 157.4,475.4 157.6,468.5 157.7,486.1 157.9,467.5 158.0,476.1 158.1,463.5 158.3,477.1 158.4,478.3 158.6,469.6 158.7,471.7 158.9,479.9 159.0,479.5 159.2,485.1 159.3,473.0 159.4,469.0 159.6,476.4 159.7,464.7 159.9,462.3 160.0,473.3 160.2,469.8 160.3,482.1 160.5,463.8 160.6,474.1 160.7,468.9 160.9,466.6 161.0,488.2 161.2,472.2 161.3,474.6 161.5,492.2 161.6,474.0 161.8,482.3 161.9,467.4 162.0,469.5 162.2,488.5 162.3,477.3 162.5,478.4 162.6,461.8 162.8,484.4 162.9,480.6 163.1,472.0 163.2,483.7 163.3,477.0 163.5,469.7 163.6,462.0 163.8,470.3 163.9,490.3 164.1,494.9 164.2,474.8 164.4,462.0 164.5,482.6 164.6,471.2 164.8,494.9 164.9,488.0 165.1,481.0 165.2,468.5 165.4,478.9 165.5,490.9 165.7,468.2 165.8,489.0 166.0,474.8 166.1,466.2 166.2,470.8 166.4,463.7 166.5,480.6 166.7,475.9 166.8,483.2 167.0,488.4 167.1,486.2 167.3,471.4 167.4,493.5 167.5,504.2 167.7,475.9 167.8,475.0 168.0,483.3 168.1,470.1 168.3,477.1 168.4,491.1 168.6,467.2 168.7,492.4 168.8,493.9 169.0,488.1" fill="none" stroke="#8c8c28" stroke-width="0.9"/>
<polyline points="36.2,365.2 36.3,369.0 36.5,365.1 36.6,369.7 36.8,366.2 36.9,369.5 37.1,371.7 37.2,367.0 37.4,370.1 37.5,368.7 37.6,370.1 37.8,369.9 37.9,373.2 38.1,367.4 38.2,370.9 38.4,373.3 38.5,369.7 38.7,371.7 38.8,370.3 38.9,368.5 39.1,371.3 39.2,371.5 39.4,373.1 39.5,372.0 39.7,373.4 39.8,369.5 40.0,374.0 40.1,372.3 40.3,375.2 40.4,370.5 40.5,374.3 40.7,372.5 40.8,377.1 41.0,375.2 41.1,372.6 41.3,377.7 41.4,373.9 41.6,378.0 41.7,374.7 41.8,375.9 42.0,378.5 42.1,373.0 42.3,379.1 42.4,375.3 42.6,376.0 42.7,375.6 42.9,380.1 43.0,380.0 43.1,376.2 43.3,376.6 43.4,378.9 43.6,378.5 43.7,378.5 43.9,376.2 44.0,379.6 44.2,377.1 44.3,381.8 44.4,377.0 44.6,376.2 44.7,376.3 44.9,378.5 45.0,379.6 45.2,379.2 45.3,382.4 45.5,381.8 45.6,378.7 45.7,384.8 45.9,380.6 46.0,377.9 46.2,386.5 46.3,381.0 46.5,383.0 46.6,381.3 46.8,380.6 46.9,385.4 47.0,382.3 47.2,383.1 47.3,382.6 47.5,383.0 47.6,382.5 47.8,384.4 47.9,380.2 48.1,381.7 48.2,386.3 48.4,385.1 48.5,380.7 48.6,382.5 48.8,381.2 48.9,385.4 49.1,387.0 49.2,386.4 49.4,386.7 49.5,387.4 49.7,382.8 49.8,383.8 49.9,387.1 50.1,386.5 50.2,385.9 50.4,386.5 50.5,385.3 50.7,389.0 50.8,386.2 51.0,383.4 51.1,390.4 51.2,386.5 51.4,384.8 51.5,385.1 51.7,387.3 51.8,389.5 52.0,391.5 52.1,386.9 52.3,386.7 52.4,387.7 52.5,386.7 52.7,390.1 52.8,389.9 53.0,385.6 53.1,389.9 53.3,390.8 53.4,387.2 53.6,392.8 53.7,392.6 53.8,392.5 54.0,393.3 54.1,391.7 54.3,393.3 54.4,386.2 54.6,394.1 54.7,395.5 54.9,393.8 55.0,391.4 55.1,389.6 55.3,389.8 55.4,393.0 55.6,394.9 55.7,387.2 55.9,389.5 56.0,391.2 56.2,392.2 56.3,391.1 56.5,394.6 56.6,390.5 56.7,392.4 56.9,393.5 57.0,392.0 57.2,391.5 57.3,395.2 57.5,392.3 57.6,388.8 57.8,395.8 57.9,388.7 58.0,389.8 58.2,394.7 58.3,389.1 58.5,390.2 58.6,391.9 58.8,394.6 58.9,390.4 59.1,396.9 59.2,397.1 59.3,396.9 59.5,394.0 59.6,398.1 59.8,397.8 59.9,397.2 60.1,393.1 60.2,395.4 60.4,395.9 60.5,391.4 60.6,394.8 60.8,395.1 60.9,396.7 61.1,397.8 61.2,392.8 61.4,393.8 61.5,394.7 61.7,392.8 61.8,394.9 61.9,396.9 62.1,400.0 62.2,395.8 62.4,393.5 62.5,400.3 62.7,392.7 62.8,401.3 63.0,393.2 63.1,394.2 63.2,397.9 63.4,400.5 63.5,401.4 63.7,400.2 63.8,398.6 64.0,402.1 64.1,401.2 64.3,394.1 64.4,402.0 64.6,394.1 64.7,399.2 64.8,402.2 65.0,393.5 65.1,398.1 65.3,403.1 65.4,399.9 65.6,400.8 65.7,399.4 65.9,397.6 66.0,401.9 66.1,399.4 66.3,398.1 66.4,400.0 66.6,399.7 66.7,400.1 66.9,402.0 67.0,395.5 67.2,403.2 67.3,402.1 67.4,397.5 67.6,399.8 67.7,401.8 67.9,396.8 68.0,403.3 68.2,398.2 68.3,402.6 68.5,401.3 68.6,401.0 68.7,399.8 68.9,404.9 69.0,401.9 69.2,397.0 69.3,399.3 69.5,403.7 69.6,401.7 69.8,399.8 69.9,403.9 70.0,406.4 70.2,403.7 70.3,397.6 70.5,403.0 70.6,407.1 70.8,405.2 70.9,397.3 71.1,403.9 71.2,400.4 71.3,402.0 71.5,400.7 71.6,409.7 71.8,403.9 71.9,400.6 72.1,403.8 72.2,400.1 72.4,400.7 72.5,405.9 72.7,407.6 72.8,403.4 72.9,407.5 73.1,407.2 73.2,408.2 73.4,405.9 73.5,407.9 73.7,404.3 73.8,407.2 74.0,399.5 74.1,399.6 74.2,407.1 74.4,403.7 74.5,408.9 74.7,400.6 74.8,405.6 75.0,404.2 75.1,407.7 75.3,407.7 75.4,402.3 75.5,402.7 75.7,399.8 75.8,407.2 76.0,406.6 76.1,404.3 76.3,406.7 76.4,404.0 76.6,408.9 76.7,407.2 76.8,400.6 77.0,402.7 77.1,401.7 77.3,410.4 77.4,400.2 77.6,406.7 77.7,400.7 77.9,405.0 78.0,410.8 78.1,408.7 78.3,401.4 78.4,408.9 78.6,407.0 78.7,409.4 78.9,403.3 79.0,411.7 79.2,401.9 79.3,402.6 79.5,405.0 79.6,404.6 79.7,411.1 79.9,408.6 80.0,407.2 80.2,411.6 80.3,411.1 80.5,405.7 80.6,402.6 80.8,410.5 80.9,408.5 81.0,403.4 81.2,410.2 81.3,411.4 81.5,414.4 81.6,404.8 81.8,412.9 81.9,412.9 82.1,404.6 82.2,409.9 82.3,416.0 82.5,414.6 82.6,408.2 82.8,408.6 82.9,412.3 83.1,403.0 83.2,406.8 83.4,412.0 83.5,407.9 83.6,404.9 83.8,408.9 83.9,405.1 84.1,406.5 84.2,409.4 84.4,408.1 84.5,404.1 84.7,414.0 84.8,413.9 84.9,414.6 85.1,407.5 85.2,411.3 85.4,404.3 85.5,413.5 85.7,408.5 85.8,404.6 86.0,415.4 86.1,406.1 86.2,406.2 86.4,406.3 86.5,413.4 86.7,411.4 86.8,415.1 87.0,412.2 87.1,404.7 87.3,410.6 87.4,406.3 87.6,411.0 87.7,413.9 87.8,420.1 88.0,411.7 88.1,415.6 88.3,415.2 88.4,407.5 88.6,410.9 88.7,413.3 88.9,407.0 89.0,409.7 89.1,406.6 89.3,412.0 89.4,418.8 89.6,409.9 89.7,408.4 89.9,412.3 90.0,413.9 90.2,411.1 90.3,416.7 90.4,415.5 90.6,407.9 90.7,408.0 90.9,409.4 91.0,412.0 91.2,416.7 91.3,408.6 91.5,409.8 91.6,414.9 91.7,414.8 91.9,415.1 92.0,418.6 92.2,408.6 92.3,415.1 92.5,417.7 92.6,411.7 92.8,408.9 92.9,415.6 93.0,409.7 93.2,418.6 93.3,415.9 93.5,407.9 93.6,412.4 93.8,419.1 93.9,418.2 94.1,408.2 94.2,414.8 94.3,418.8 94.5,408.4 94.6,416.1 94.8,411.7 94.9,417.8 95.1,414.9 95.2,411.7 95.4,418.4 95.5,413.4 95.7,419.2 95.8,412.9 95.9,415.7 96.1,420.6 96.2,414.4 96.4,416.2 96.5,424.2 96.7,415.3 96.8,411.6 97.0,413.9 97.1,420.2 97.2,416.1 97.4,412.0 97.5,411.0 97.7,413.3 97.8,415.0 98.0,417.2 98.1,414.5 98.3,417.5 98.4,421.7 98.5,421.1 98.7,417.3 98.8,415.2 99.0,422.1 99.1,421.2 99.3,423.2 99.4,417.9 99.6,421.5 99.7,417.1 99.8,410.2 100.0,412.8 100.1,416.4 100.3,415.3 100.4,414.1 100.6,416.4 100.7,422.3 100.9,418.0 101.0,421.5 101.1,420.9 101.3,422.9 101.4,412.8 101.6,419.9 101.7,419.0 101.9,422.4 102.0,423.1 102.2,423.0 102.3,415.8 102.4,414.9 102.6,416.5 102.7,421.6 102.9,417.7 103.0,420.4 103.2,417.7 103.3,418.7 103.5,416.8 103.6,426.8 103.8,413.7 103.9,426.6 104.0,414.5 104.2,419.2 104.3,424.0 104.5,424.4 104.6,418.4 104.8,423.8 104.9,416.6 105.1,424.3 105.2,414.1 105.3,425.1 105.5,416.2 105.6,413.9 105.8,421.8 105.9,416.7 106.1,420.6 106.2,421.4 106.4,426.1 106.5,420.0 106.6,420.5 106.8,417.3 106.9,415.1 107.1,420.9 107.2,415.2 107.4,424.5 107.5,416.0 107.7,425.3 107.8,422.3 107.9,423.6 108.1,415.1 108.2,415.5 108.4,417.2 108.5,424.6 108.7,422.5 108.8,417.7 109.0,413.9 109.1,417.0 109.2,425.1 109.4,426.3 109.5,420.6 109.7,424.9 109.8,422.7 110.0,420.9 110.1,426.1 110.3,423.2 110.4,418.7 110.6,418.3 110.7,423.3 110.8,415.4 111.0,423.4 111.1,423.3 111.3,423.4 111.4,420.9 111.6,421.0 111.7,427.1 111.9,423.3 112.0,426.1 112.1,417.9 112.3,421.8 112.4,415.4 112.6,426.0 112.7,426.2 112.9,418.6 113.0,427.9 113.2,422.6 113.3,415.5 113.4,420.5 113.6,424.6 113.7,418.3 113.9,423.6 114.0,426.5 114.2,428.6 114.3,421.6 114.5,423.3 114.6,424.4 114.7,420.0 114.9,428.9 115.0,418.1 115.2,418.7 115.3,425.7 115.5,416.8 115.6,419.8 115.8,424.5 115.9,425.3 116.0,431.1 116.2,421.7 116.3,417.8 116.5,426.5 116.6,423.6 116.8,423.5 116.9,426.7 117.1,430.3 117.2,429.9 117.3,423.6 117.5,430.3 117.6,430.9 117.8,426.2 117.9,420.8 118.1,420.5 118.2,427.9 118.4,419.5 118.5,427.2 118.7,421.2 118.8,424.9 118.9,425.8 119.1,424.1 119.2,432.2 119.4,421.8 119.5,419.6 119.7,423.7 119.8,430.7 120.0,427.4 120.1,432.0 120.2,423.7 120.4,432.7 120.5,421.9 120.7,419.3 120.8,421.4 121.0,427.4 121.1,435.5 121.3,421.9 121.4,427.7 121.5,430.4 121.7,428.4 121.8,432.2 122.0,419.6 122.1,432.2 122.3,421.3 122.4,430.9 122.6,427.6 122.7,431.8 122.8,439.3 123.0,420.2 123.1,424.4 123.3,434.0 123.4,424.6 123.6,425.5 123.7,420.3 123.9,421.7 124.0,430.1 124.1,421.3 124.3,427.4 124.4,425.1 124.6,422.4 124.7,437.9 124.9,430.4 125.0,425.8 125.2,438.4 125.3,428.8 125.4,432.4 125.6,435.9 125.7,421.4 125.9,434.7 126.0,424.4 126.2,433.9 126.3,425.4 126.5,421.8 126.6,424.0 126.8,428.0 126.9,429.5 127.0,425.2 127.2,425.4 127.3,424.5 127.5,438.3 127.6,427.9 127.8,441.3 127.9,427.8 128.1,431.8 128.2,423.1 128.3,441.0 128.5,428.1 128.6,425.9 128.8,431.0 128.9,428.7 129.1,433.5 129.2,425.1 129.4,437.0 129.5,426.2 129.6,424.9 129.8,430.3 129.9,424.5 130.1,429.8 130.2,440.5 130.4,436.4 130.5,423.9 130.7,426.7 130.8,435.6 130.9,441.9 131.1,433.7 131.2,428.1 131.4,425.6 131.5,433.0 131.7,426.5 131.8,438.1 132.0,426.6 132.1,429.9 132.2,427.8 132.4,438.7 132.5,432.1 132.7,425.5 132.8,427.1 133.0,426.6 133.1,429.3 133.3,432.2 133.4,426.4 133.5,433.1 133.7,434.0 133.8,431.0 134.0,438.2 134.1,427.8 134.3,439.4 134.4,427.8 134.6,431.4 134.7,431.8 134.9,437.7 135.0,438.5 135.1,439.5 135.3,432.5 135.4,444.3 135.6,436.4 135.7,431.3 135.9,439.4 136.0,432.8 136.2,438.5 136.3,437.7 136.4,440.5 136.6,431.6 136.7,427.0 136.9,435.1 137.0,428.3 137.2,439.9 137.3,435.6 137.5,432.7 137.6,432.0 137.7,439.0 137.9,428.2 138.0,426.1 138.2,428.1 138.3,428.6 138.5,433.8 138.6,448.3 138.8,432.2 138.9,445.4 139.0,435.0 139.2,438.9 139.3,439.9 139.5,440.0 139.6,438.1 139.8,440.4 139.9,426.4 140.1,442.5 140.2,436.6 140.3,445.1 140.5,430.2 140.6,431.2 140.8,433.9 140.9,438.7 141.1,442.5 141.2,440.0 141.4,432.6 141.5,435.1 141.6,436.0 141.8,434.0 141.9,440.0 142.1,439.5 142.2,440.9 142.4,435.4 142.5,439.9 142.7,434.6 142.8,427.3 143.0,435.0 143.1,433.4 143.2,438.3 143.4,433.1 143.5,429.0 143.7,427.4 143.8,434.9 144.0,442.8 144.1,428.4 144.3,440.0 144.4,428.9 144.5,428.9 144.7,442.4 144.8,438.6 145.0,440.0 145.1,437.4 145.3,437.0 145.4,432.6 145.6,444.1 145.7,428.5 145.8,441.5 146.0,440.6 146.1,430.6 146.3,428.6 146.4,435.7 146.6,439.7 146.7,437.3 146.9,434.8 147.0,432.3 147.1,444.7 147.3,443.0 147.4,441.1 147.6,433.2 147.7,439.2 147.9,445.2 148.0,436.8 148.2,441.6 148.3,440.2 148.4,436.3 148.6,443.1 148.7,431.5 148.9,436.3 149.0,432.8 149.2,440.7 149.3,437.4 149.5,436.2 149.6,435.9 149.8,429.8 149.9,440.5 150.0,435.7 150.2,440.2 150.3,434.5 150.5,442.5 150.6,432.3 150.8,431.2 150.9,447.8 151.1,440.2 151.2,434.8 151.3,441.5 151.5,441.2 151.6,442.8 151.8,439.9 151.9,447.5 152.1,442.7 152.2,438.8 152.4,450.5 152.5,433.6 152.6,441.1 152.8,444.8 152.9,437.7 153.1,438.2 153.2,438.4 153.4,441.4 153.5,447.3 153.7,443.2 153.8,440.1 153.9,446.8 154.1,436.4 154.2,435.9 154.4,448.6 154.5,436.5 154.7,432.3 154.8,438.5 155.0,448.0 155.1,445.5 155.2,443.2 155.4,457.3 155.5,435.5 155.7,438.6 155.8,438.9 156.0,434.9 156.1,434.7 156.3,444.1 156.4,449.0 156.5,436.4 156.7,456.5 156.8,452.0 157.0,442.4 157.1,443.3 157.3,438.6 157.4,447.6 157.6,439.5 157.7,439.5 157.9,448.8 158.0,433.9 158.1,442.1 158.3,442.4 158.4,434.6 158.6,442.7 158.7,433.3 158.9,439.1 159.0,441.9 159.2,433.4 159.3,438.6 159.4,433.1 159.6,435.3 159.7,439.2 159.9,448.3 160.0,446.3 160.2,454.2 160.3,449.7 160.5,441.5 160.6,452.3 160.7,452.7 160.9,447.7 161.0,449.3 161.2,436.6 161.3,446.6 161.5,445.0 161.6,445.5 161.8,443.7 161.9,439.4 162.0,446.0 162.2,453.0 162.3,450.8 162.5,450.6 162.6,444.6 162.8,459.0 162.9,448.0 163.1,441.2 163.2,442.3 163.3,435.0 163.5,444.7 163.6,446.0 163.8,443.8 163.9,452.5 164.1,449.4 164.2,436.8 164.4,442.3 164.5,448.8 164.6,441.9 164.8,458.1 164.9,449.5 165.1,450.6 165.2,454.1 165.4,440.6 165.5,437.9 165.7,443.6 165.8,452.7 166.0,439.1 166.1,448.5 166.2,452.2 166.4,455.0 166.5,455.8 166.7,439.7 166.8,452.1 167.0,452.4 167.1,454.6 167.3,441.7 167.4,447.0 167.5,441.1 167.7,440.3 167.8,452.9 168.0,455.6 168.1,455.9 168.3,448.6 168.4,451.2 168.6,452.6 168.7,437.9 168.8,451.2 169.0,445.1" fill="none" stroke="#f4541e" stroke-width="0.9"/>
<polyline points="36.2,367.6 36.3,368.9 36.5,364.6 36.6,365.1 36.8,370.4 36.9,369.6 37.1,368.7 37.2,369.7 37.4,369.3 37.5,370.9 37.6,368.1 37.8,369.9 37.9,367.5 38.1,368.0 38.2,367.7 38.4,370.7 38.5,367.6 38.7,368.3 38.8,371.3 38.9,371.7 39.1,371.3 39.2,370.6 39.4,369.0 39.5,373.6 39.7,370.6 39.8,372.0 40.0,368.9 40.1,374.0 40.3,371.5 40.4,371.1 40.5,376.5 40.7,370.8 40.8,371.3 41.0,375.3 41.1,374.2 41.3,373.7 41.4,372.0 41.6,371.6 41.7,371.6 41.8,371.2 42.0,373.4 42.1,375.2 42.3,376.2 42.4,374.1 42.6,373.8 42.7,377.0 42.9,377.3 43.0,374.0 43.1,379.7 43.3,372.4 43.4,375.4 43.6,377.5 43.7,377.3 43.9,375.5 44.0,375.2 44.2,375.1 44.3,378.1 44.4,374.8 44.6,377.0 44.7,374.1 44.9,375.2 45.0,378.3 45.2,377.0 45.3,376.7 45.5,376.2 45.6,379.5 45.7,377.8 45.9,375.6 46.0,375.2 46.2,378.0 46.3,379.5 46.5,378.8 46.6,375.7 46.8,378.0 46.9,376.8 47.0,377.4 47.2,381.6 47.3,381.9 47.5,382.1 47.6,376.5 47.8,378.4 47.9,378.8 48.1,382.6 48.2,381.6 48.4,378.4 48.5,378.7 48.6,377.4 48.8,381.0 48.9,382.2 49.1,381.9 49.2,383.0 49.4,378.8 49.5,381.6 49.7,379.8 49.8,382.0 49.9,383.3 50.1,379.6 50.2,384.4 50.4,381.3 50.5,382.7 50.7,385.0 50.8,385.1 51.0,379.4 51.1,379.1 51.2,384.6 51.4,382.2 51.5,383.4 51.7,384.8 51.8,383.7 52.0,384.3 52.1,386.0 52.3,385.0 52.4,386.1 52.5,384.5 52.7,383.7 52.8,386.0 53.0,383.3 53.1,385.8 53.3,385.6 53.4,381.8 53.6,382.1 53.7,383.5 53.8,388.7 54.0,382.8 54.1,382.7 54.3,384.7 54.4,388.0 54.6,387.7 54.7,385.5 54.9,381.8 55.0,385.7 55.1,386.5 55.3,383.8 55.4,389.9 55.6,384.0 55.7,386.4 55.9,385.7 56.0,383.5 56.2,385.5 56.3,384.4 56.5,389.6 56.6,388.8 56.7,388.1 56.9,388.3 57.0,385.4 57.2,388.3 57.3,384.0 57.5,389.9 57.6,388.7 57.8,389.7 57.9,386.6 58.0,384.0 58.2,386.7 58.3,384.1 58.5,387.2 58.6,389.9 58.8,389.8 58.9,392.1 59.1,391.4 59.2,389.1 59.3,385.7 59.5,388.6 59.6,389.1 59.8,388.0 59.9,386.9 60.1,386.0 60.2,385.5 60.4,389.2 60.5,391.4 60.6,388.6 60.8,388.8 60.9,386.8 61.1,386.9 61.2,387.5 61.4,389.9 61.5,392.3 61.7,388.6 61.8,392.4 61.9,388.4 62.1,388.5 62.2,389.9 62.4,388.4 62.5,387.6 62.7,393.9 62.8,395.1 63.0,390.3 63.1,392.8 63.2,389.4 63.4,390.4 63.5,394.2 63.7,390.8 63.8,389.4 64.0,391.4 64.1,389.6 64.3,393.2 64.4,389.2 64.6,392.1 64.7,390.3 64.8,397.0 65.0,389.9 65.1,392.7 65.3,394.6 65.4,396.4 65.6,392.5 65.7,391.3 65.9,391.4 66.0,389.0 66.1,393.3 66.3,390.9 66.4,389.8 66.6,388.6 66.7,396.1 66.9,389.1 67.0,395.2 67.2,397.3 67.3,395.7 67.4,390.0 67.6,392.3 67.7,389.9 67.9,389.5 68.0,392.4 68.2,393.5 68.3,391.3 68.5,395.2 68.6,395.0 68.7,397.2 68.9,394.4 69.0,391.7 69.2,391.9 69.3,395.8 69.5,395.3 69.6,394.9 69.8,396.8 69.9,394.7 70.0,397.1 70.2,398.0 70.3,395.9 70.5,401.0 70.6,391.8 70.8,398.2 70.9,391.1 71.1,398.0 71.2,395.9 71.3,399.2 71.5,396.3 71.6,398.1 71.8,396.8 71.9,398.7 72.1,398.6 72.2,401.1 72.4,399.1 72.5,393.6 72.7,399.2 72.8,396.6 72.9,394.6 73.1,398.3 73.2,394.7 73.4,398.5 73.5,399.6 73.7,400.7 73.8,399.7 74.0,399.2 74.1,398.6 74.2,396.8 74.4,395.9 74.5,396.7 74.7,400.3 74.8,399.6 75.0,400.7 75.1,397.8 75.3,398.6 75.4,399.7 75.5,393.5 75.7,395.1 75.8,395.5 76.0,400.1 76.1,399.6 76.3,399.1 76.4,396.8 76.6,395.6 76.7,397.8 76.8,395.2 77.0,400.2 77.1,395.6 77.3,394.7 77.4,401.3 77.6,394.3 77.7,396.2 77.9,401.3 78.0,401.3 78.1,398.5 78.3,402.0 78.4,401.0 78.6,400.8 78.7,399.2 78.9,399.9 79.0,398.7 79.2,397.1 79.3,405.6 79.5,398.0 79.6,395.3 79.7,402.8 79.9,403.1 80.0,400.5 80.2,398.1 80.3,403.6 80.5,403.0 80.6,400.4 80.8,396.6 80.9,404.3 81.0,399.9 81.2,398.0 81.3,397.0 81.5,402.7 81.6,397.8 81.8,401.5 81.9,401.2 82.1,400.3 82.2,397.7 82.3,403.0 82.5,400.8 82.6,398.8 82.8,398.8 82.9,401.4 83.1,400.2 83.2,401.3 83.4,404.5 83.5,404.7 83.6,404.3 83.8,399.4 83.9,405.6 84.1,406.8 84.2,402.3 84.4,403.8 84.5,398.8 84.7,401.3 84.8,403.8 84.9,404.0 85.1,403.2 85.2,399.5 85.4,404.6 85.5,405.6 85.7,403.8 85.8,400.5 86.0,407.5 86.1,405.5 86.2,405.4 86.4,404.2 86.5,405.4 86.7,405.1 86.8,405.0 87.0,402.4 87.1,399.8 87.3,406.7 87.4,404.3 87.6,398.6 87.7,398.8 87.8,398.3 88.0,404.7 88.1,399.8 88.3,407.4 88.4,406.1 88.6,406.7 88.7,403.2 88.9,402.3 89.0,401.8 89.1,406.4 89.3,402.8 89.4,400.1 89.6,407.9 89.7,406.0 89.9,407.3 90.0,401.5 90.2,410.8 90.3,408.2 90.4,401.3 90.6,406.8 90.7,399.8 90.9,407.0 91.0,401.8 91.2,407.9 91.3,408.7 91.5,406.5 91.6,401.1 91.7,408.5 91.9,409.5 92.0,406.7 92.2,402.2 92.3,403.8 92.5,406.7 92.6,403.8 92.8,409.2 92.9,408.6 93.0,405.8 93.2,408.4 93.3,405.7 93.5,405.0 93.6,408.8 93.8,400.9 93.9,407.1 94.1,408.6 94.2,403.6 94.3,411.0 94.5,401.4 94.6,410.5 94.8,404.0 94.9,403.4 95.1,406.1 95.2,409.7 95.4,402.5 95.5,406.0 95.7,405.3 95.8,409.8 95.9,410.6 96.1,405.1 96.2,408.3 96.4,410.6 96.5,409.0 96.7,405.4 96.8,404.0 97.0,405.5 97.1,407.1 97.2,403.8 97.4,408.2 97.5,406.3 97.7,410.3 97.8,409.7 98.0,409.5 98.1,408.0 98.3,410.3 98.4,404.1 98.5,404.8 98.7,403.0 98.8,405.1 99.0,409.4 99.1,413.3 99.3,404.0 99.4,407.4 99.6,409.4 99.7,411.0 99.8,405.2 100.0,408.9 100.1,409.5 100.3,410.1 100.4,410.4 100.6,411.5 100.7,403.8 100.9,410.3 101.0,409.0 101.1,408.7 101.3,406.8 101.4,407.3 101.6,410.0 101.7,408.2 101.9,406.6 102.0,412.3 102.2,413.4 102.3,407.2 102.4,413.9 102.6,414.9 102.7,412.4 102.9,413.0 103.0,406.4 103.2,412.6 103.3,414.3 103.5,413.5 103.6,407.4 103.8,414.7 103.9,407.1 104.0,407.1 104.2,410.4 104.3,412.7 104.5,413.4 104.6,407.1 104.8,405.7 104.9,406.5 105.1,413.7 105.2,412.6 105.3,414.8 105.5,408.0 105.6,412.6 105.8,409.6 105.9,407.0 106.1,407.6 106.2,413.9 106.4,406.3 106.5,405.9 106.6,410.5 106.8,415.6 106.9,413.2 107.1,414.2 107.2,414.3 107.4,408.4 107.5,414.3 107.7,415.9 107.8,409.9 107.9,409.7 108.1,408.0 108.2,418.3 108.4,410.6 108.5,415.3 108.7,413.1 108.8,408.1 109.0,414.7 109.1,416.9 109.2,415.9 109.4,407.6 109.5,407.9 109.7,416.7 109.8,416.7 110.0,410.4 110.1,407.8 110.3,409.5 110.4,408.6 110.6,411.7 110.7,409.0 110.8,408.9 111.0,410.8 111.1,411.7 111.3,410.8 111.4,409.1 111.6,420.8 111.7,409.1 111.9,409.7 112.0,409.0 112.1,411.0 112.3,416.8 112.4,408.8 112.6,413.3 112.7,418.5 112.9,414.3 113.0,416.2 113.2,413.6 113.3,416.7 113.4,415.2 113.6,411.8 113.7,414.2 113.9,413.0 114.0,417.5 114.2,413.1 114.3,414.7 114.5,409.7 114.6,420.2 114.7,417.3 114.9,414.3 115.0,416.6 115.2,412.3 115.3,415.6 115.5,409.3 115.6,414.4 115.8,409.8 115.9,412.9 116.0,415.5 116.2,413.2 116.3,414.6 116.5,423.6 116.6,411.7 116.8,414.9 116.9,413.1 117.1,414.7 117.2,414.3 117.3,414.6 117.5,419.2 117.6,416.8 117.8,412.5 117.9,420.6 118.1,414.1 118.2,421.5 118.4,414.9 118.5,420.5 118.7,416.8 118.8,411.8 118.9,412.8 119.1,412.4 119.2,415.8 119.4,410.8 119.5,418.7 119.7,421.6 119.8,411.3 120.0,413.8 120.1,411.8 120.2,420.4 120.4,415.6 120.5,418.8 120.7,411.3 120.8,419.7 121.0,419.7 121.1,415.4 121.3,413.3 121.4,412.9 121.5,422.6 121.7,419.2 121.8,418.8 122.0,414.4 122.1,419.2 122.3,421.5 122.4,421.5 122.6,421.1 122.7,415.2 122.8,421.5 123.0,421.7 123.1,416.3 123.3,417.1 123.4,418.9 123.6,414.4 123.7,428.1 123.9,422.5 124.0,419.3 124.1,418.5 124.3,423.6 124.4,416.7 124.6,416.5 124.7,425.7 124.9,415.5 125.0,423.2 125.2,419.5 125.3,421.7 125.4,422.7 125.6,417.8 125.7,418.5 125.9,422.9 126.0,415.1 126.2,422.9 126.3,417.2 126.5,419.8 126.6,414.0 126.8,420.0 126.9,419.3 127.0,422.2 127.2,424.7 127.3,419.9 127.5,414.1 127.6,414.9 127.8,420.5 127.9,417.6 128.1,417.1 128.2,421.7 128.3,421.0 128.5,428.4 128.6,415.7 128.8,425.0 128.9,415.3 129.1,418.0 129.2,426.6 129.4,417.7 129.5,415.1 129.6,429.1 129.8,425.7 129.9,418.4 130.1,417.9 130.2,424.2 130.4,423.2 130.5,424.4 130.7,422.6 130.8,426.3 130.9,417.4 131.1,418.2 131.2,423.3 131.4,423.5 131.5,427.5 131.7,415.4 131.8,430.0 132.0,422.3 132.1,425.5 132.2,424.0 132.4,417.5 132.5,427.0 132.7,417.7 132.8,422.2 133.0,427.1 133.1,425.2 133.3,427.8 133.4,428.0 133.5,420.6 133.7,428.6 133.8,417.7 134.0,421.1 134.1,427.7 134.3,422.4 134.4,427.2 134.6,419.6 134.7,421.4 134.9,422.0 135.0,423.4 135.1,429.1 135.3,419.2 135.4,427.6 135.6,422.3 135.7,425.6 135.9,429.3 136.0,427.6 136.2,425.6 136.3,427.7 136.4,426.7 136.6,423.1 136.7,428.0 136.9,427.9 137.0,418.1 137.2,423.5 137.3,418.3 137.5,424.3 137.6,418.1 137.7,428.8 137.9,422.3 138.0,421.3 138.2,424.8 138.3,425.7 138.5,430.1 138.6,422.1 138.8,428.1 138.9,430.2 139.0,423.4 139.2,423.7 139.3,423.3 139.5,427.3 139.6,427.4 139.8,421.7 139.9,431.3 140.1,429.5 140.2,419.3 140.3,432.3 140.5,422.3 140.6,419.2 140.8,426.4 140.9,423.4 141.1,433.0 141.2,421.9 141.4,421.5 141.5,425.6 141.6,431.9 141.8,424.1 141.9,428.0 142.1,426.7 142.2,423.1 142.4,427.9 142.5,426.2 142.7,426.1 142.8,422.7 143.0,428.4 143.1,430.8 143.2,429.8 143.4,429.8 143.5,427.1 143.7,431.7 143.8,424.3 144.0,427.2 144.1,425.3 144.3,421.7 144.4,420.7 144.5,423.1 144.7,430.7 144.8,431.6 145.0,431.4 145.1,423.3 145.3,427.1 145.4,432.1 145.6,427.8 145.7,429.8 145.8,433.7 146.0,429.0 146.1,431.4 146.3,425.0 146.4,421.5 146.6,431.2 146.7,434.7 146.9,431.6 147.0,431.5 147.1,431.6 147.3,430.5 147.4,431.2 147.6,426.5 147.7,425.6 147.9,430.6 148.0,430.7 148.2,427.6 148.3,433.8 148.4,433.5 148.6,428.3 148.7,434.7 148.9,429.0 149.0,425.9 149.2,435.0 149.3,428.4 149.5,426.3 149.6,426.2 149.8,434.2 149.9,432.6 150.0,423.8 150.2,431.4 150.3,430.2 150.5,430.0 150.6,432.8 150.8,435.9 150.9,431.6 151.1,431.1 151.2,432.6 151.3,424.3 151.5,427.5 151.6,427.9 151.8,434.3 151.9,432.0 152.1,432.0 152.2,427.9 152.4,429.5 152.5,425.6 152.6,427.7 152.8,435.2 152.9,426.5 153.1,427.8 153.2,437.0 153.4,441.4 153.5,433.1 153.7,423.7 153.8,424.5 153.9,425.2 154.1,431.6 154.2,428.1 154.4,426.7 154.5,434.5 154.7,430.6 154.8,425.1 155.0,433.7 155.1,436.8 155.2,434.4 155.4,426.2 155.5,437.5 155.7,439.0 155.8,434.2 156.0,436.5 156.1,428.2 156.3,432.9 156.4,435.8 156.5,424.9 156.7,438.6 156.8,426.1 157.0,437.4 157.1,430.0 157.3,426.9 157.4,426.8 157.6,427.6 157.7,438.9 157.9,435.9 158.0,429.4 158.1,433.0 158.3,430.6 158.4,438.0 158.6,431.4 158.7,434.4 158.9,433.2 159.0,435.1 159.2,435.5 159.3,437.6 159.4,427.7 159.6,431.6 159.7,436.4 159.9,438.3 160.0,427.1 160.2,430.6 160.3,432.9 160.5,442.4 160.6,437.9 160.7,443.9 160.9,445.3 161.0,440.8 161.2,438.8 161.3,438.9 161.5,431.6 161.6,427.9 161.8,440.5 161.9,431.2 162.0,433.5 162.2,435.9 162.3,435.7 162.5,436.9 162.6,440.0 162.8,439.8 162.9,433.2 163.1,432.3 163.2,430.4 163.3,441.2 163.5,430.1 163.6,442.7 163.8,436.9 163.9,430.9 164.1,435.5 164.2,441.8 164.4,437.5 164.5,442.7 164.6,435.9 164.8,440.1 164.9,440.2 165.1,437.1 165.2,436.8 165.4,437.5 165.5,441.0 165.7,431.4 165.8,432.9 166.0,428.5 166.1,431.2 166.2,442.0 166.4,447.5 166.5,434.3 166.7,429.4 166.8,432.0 167.0,431.9 167.1,441.5 167.3,443.2 167.4,436.7 167.5,445.1 167.7,435.1 167.8,442.5 168.0,432.3 168.1,439.2 168.3,440.4 168.4,444.2 168.6,434.1 168.7,436.0 168.8,440.8 169.0,431.5" fill="none" stroke="#b0101e" stroke-width="0.9"/>
<line x1="36.2" y1="474.2" x2="36.2" y2="366.6" stroke="#303060" stroke-width="0.8"/>
</g>
<rect x="29.8" y="363.7" width="137.8" height="110.5" fill="none" stroke="#707070" stroke-width="0.9"/>
<line x1="36.2" y1="474.2" x2="36.2" y2="476.2" stroke="#707070" stroke-width="0.8"/>
<text x="36.2" y="483.6" text-anchor="middle" font-family="Liberation Sans, Arial, sans-serif" font-size="7.5" fill="#444">0</text>
<line x1="62.5" y1="474.2" x2="62.5" y2="476.2" stroke="#707070" stroke-width="0.8"/>
<text x="62.5" y="483.6" text-anchor="middle" font-family="Liberation Sans, Arial, sans-serif" font-size="7.5" fill="#444">20</text>
<line x1="88.8" y1="474.2" x2="88.8" y2="476.2" stroke="#707070" stroke-width="0.8"/>
<text x="88.8" y="483.6" text-anchor="middle" font-family="Liberation Sans, Arial, sans-serif" font-size="7.5" fill="#444">40</text>
<line x1="115.1" y1="474.2" x2="115.1" y2="476.2" stroke="#707070" stroke-width="0.8"/>
<text x="115.1" y="483.6" text-anchor="middle" font-family="Liberation Sans, Arial, sans-serif" font-size="7.5" fill="#444">60</text>
<line x1="141.4" y1="474.2" x2="141.4" y2="476.2" stroke="#707070" stroke-width="0.8"/>
<text x="141.4" y="483.6" text-anchor="middle" font-family="Liberation Sans, Arial, sans-serif" font-size="7.5" fill="#444">80</text>
<line x1="167.7" y1="474.2" x2="167.7" y2="476.2" stroke="#707070" stroke-width="0.8"/>
<text x="167.7" y="483.6" text-anchor="middle" font-family="Liberation Sans, Arial, sans-serif" font-size="7.5" fill="#444">100</text>
<line x1="49.4" y1="474.2" x2="49.4" y2="475.4" stroke="#707070" stroke-width="0.6"/>
<line x1="75.7" y1="474.2" x2="75.7" y2="475.4" stroke="#707070" stroke-width="0.6"/>
<line x1="102" y1="474.2" x2="102" y2="475.4" stroke="#707070" stroke-width="0.6"/>
<line x1="128.2" y1="474.2" x2="128.2" y2="475.4" stroke="#707070" stroke-width="0.6"/>
<line x1="154.6" y1="474.2" x2="154.6" y2="475.4" stroke="#707070" stroke-width="0.6"/>
<line x1="27.8" y1="366.6" x2="29.8" y2="366.6" stroke="#707070" stroke-width="0.8"/>
<text x="26.8" y="369" text-anchor="end" font-family="Liberation Sans, Arial, sans-serif" font-size="6.8" fill="#444">1</text>
<line x1="27.8" y1="437.3" x2="29.8" y2="437.3" stroke="#707070" stroke-width="0.8"/>
<text x="26.8" y="439.7" text-anchor="end" font-family="Liberation Sans, Arial, sans-serif" font-size="6.8" fill="#444">0.1</text>
<line x1="28.6" y1="369.8" x2="29.8" y2="369.8" stroke="#707070" stroke-width="0.5"/>
<line x1="28.6" y1="373.5" x2="29.8" y2="373.5" stroke="#707070" stroke-width="0.5"/>
<line x1="28.6" y1="377.6" x2="29.8" y2="377.6" stroke="#707070" stroke-width="0.5"/>
<line x1="28.6" y1="382.3" x2="29.8" y2="382.3" stroke="#707070" stroke-width="0.5"/>
<line x1="28.6" y1="387.9" x2="29.8" y2="387.9" stroke="#707070" stroke-width="0.5"/>
<line x1="28.6" y1="394.7" x2="29.8" y2="394.7" stroke="#707070" stroke-width="0.5"/>
<line x1="28.6" y1="403.6" x2="29.8" y2="403.6" stroke="#707070" stroke-width="0.5"/>
<line x1="28.6" y1="416" x2="29.8" y2="416" stroke="#707070" stroke-width="0.5"/>
<line x1="28.6" y1="440.5" x2="29.8" y2="440.5" stroke="#707070" stroke-width="0.5"/>
<line x1="28.6" y1="444.2" x2="29.8" y2="444.2" stroke="#707070" stroke-width="0.5"/>
<line x1="28.6" y1="448.3" x2="29.8" y2="448.3" stroke="#707070" stroke-width="0.5"/>
<line x1="28.6" y1="453" x2="29.8" y2="453" stroke="#707070" stroke-width="0.5"/>
<line x1="28.6" y1="458.6" x2="29.8" y2="458.6" stroke="#707070" stroke-width="0.5"/>
<line x1="28.6" y1="465.4" x2="29.8" y2="465.4" stroke="#707070" stroke-width="0.5"/>
<line x1="28.6" y1="474.3" x2="29.8" y2="474.3" stroke="#707070" stroke-width="0.5"/>
<text x="84.4" y="493" font-family="Liberation Sans, Arial, sans-serif" font-size="8.6" fill="#333" textLength="36.4" lengthAdjust="spacingAndGlyphs">Time (ns)</text>
<text transform="translate(12.2 465.4) rotate(-90)" font-family="Liberation Sans, Arial, sans-serif" font-size="8.4" fill="#333" textLength="92.2" lengthAdjust="spacingAndGlyphs">Normalized PL intensity</text>
<text x="67.2" y="379.3" font-family="Liberation Sans, Arial, sans-serif" font-size="7.2" fill="#333" textLength="47" lengthAdjust="spacingAndGlyphs">τ= 2.5 - 34.5 ns</text>
<line x1="126.8" y1="366" x2="138.8" y2="366" stroke="#b84050" stroke-width="0.6"/>
<text x="140" y="368.1" font-family="Liberation Sans, Arial, sans-serif" font-size="5.8" fill="#333" textLength="12.8" lengthAdjust="spacingAndGlyphs">CsPbI</text>
<text x="152.9" y="369.2" font-family="Liberation Sans, Arial, sans-serif" font-size="3.8" fill="#333">3</text>
<line x1="126.8" y1="374" x2="138.8" y2="374" stroke="#f09070" stroke-width="0.6"/>
<text x="140" y="376.1" font-family="Liberation Sans, Arial, sans-serif" font-size="5.8" fill="#333" textLength="15.3" lengthAdjust="spacingAndGlyphs">CsPbBr</text>
<text x="155.5" y="377.2" font-family="Liberation Sans, Arial, sans-serif" font-size="3.8" fill="#333">1</text>
<text x="157.7" y="376.1" font-family="Liberation Sans, Arial, sans-serif" font-size="5.8" fill="#333" textLength="2.6" lengthAdjust="spacingAndGlyphs">I</text>
<text x="160.5" y="377.2" font-family="Liberation Sans, Arial, sans-serif" font-size="3.8" fill="#333">2</text>
<line x1="126.8" y1="382" x2="138.8" y2="382" stroke="#a0a050" stroke-width="0.6"/>
<text x="140" y="384.1" font-family="Liberation Sans, Arial, sans-serif" font-size="5.8" fill="#333" textLength="15.3" lengthAdjust="spacingAndGlyphs">CsPbBr</text>
<text x="155.5" y="385.2" font-family="Liberation Sans, Arial, sans-serif" font-size="3.8" fill="#333">2</text>
<text x="157.7" y="384.1" font-family="Liberation Sans, Arial, sans-serif" font-size="5.8" fill="#333" textLength="2.6" lengthAdjust="spacingAndGlyphs">I</text>
<text x="160.5" y="385.2" font-family="Liberation Sans, Arial, sans-serif" font-size="3.8" fill="#333">1</text>
<line x1="126.8" y1="390" x2="138.8" y2="390" stroke="#90c890" stroke-width="0.6"/>
<text x="140" y="392.1" font-family="Liberation Sans, Arial, sans-serif" font-size="5.8" fill="#333" textLength="15.3" lengthAdjust="spacingAndGlyphs">CsPbBr</text>
<text x="155.5" y="393.2" font-family="Liberation Sans, Arial, sans-serif" font-size="3.8" fill="#333">3</text>
<line x1="126.8" y1="398" x2="138.8" y2="398" stroke="#a0d0e0" stroke-width="0.6"/>
<text x="140" y="400.1" font-family="Liberation Sans, Arial, sans-serif" font-size="5.8" fill="#333" textLength="15.3" lengthAdjust="spacingAndGlyphs">CsPbCl</text>
<text x="155.5" y="401.2" font-family="Liberation Sans, Arial, sans-serif" font-size="3.8" fill="#333">1</text>
<text x="157.7" y="400.1" font-family="Liberation Sans, Arial, sans-serif" font-size="5.8" fill="#333" textLength="5.2" lengthAdjust="spacingAndGlyphs">Br</text>
<text x="163.1" y="401.2" font-family="Liberation Sans, Arial, sans-serif" font-size="3.8" fill="#333">2</text>
<line x1="126.8" y1="405.9" x2="138.8" y2="405.9" stroke="#6878a8" stroke-width="0.6"/>
<text x="140" y="408" font-family="Liberation Sans, Arial, sans-serif" font-size="5.8" fill="#333" textLength="15.3" lengthAdjust="spacingAndGlyphs">CsPbCl</text>
<text x="155.5" y="409.1" font-family="Liberation Sans, Arial, sans-serif" font-size="3.8" fill="#333">2</text>
<text x="157.7" y="408" font-family="Liberation Sans, Arial, sans-serif" font-size="5.8" fill="#333" textLength="5.2" lengthAdjust="spacingAndGlyphs">Br</text>
<text x="163.1" y="409.1" font-family="Liberation Sans, Arial, sans-serif" font-size="3.8" fill="#333">1</text>
<line x1="126.8" y1="413.9" x2="138.8" y2="413.9" stroke="#404870" stroke-width="0.6"/>
<text x="140" y="416" font-family="Liberation Sans, Arial, sans-serif" font-size="5.8" fill="#333" textLength="15.3" lengthAdjust="spacingAndGlyphs">CsPbCl</text>
<text x="155.5" y="417.1" font-family="Liberation Sans, Arial, sans-serif" font-size="3.8" fill="#333">3</text>
<rect x="193.2" y="244.8" width="146.3" height="228.6" fill="none" stroke="#8a8a8a" stroke-width="1"/>
<line x1="193.3" y1="473.4" x2="193.3" y2="476.2" stroke="#8a8a8a" stroke-width="0.8"/>
<line x1="193.3" y1="244.8" x2="193.3" y2="246.2" stroke="#8a8a8a" stroke-width="0.8"/>
<text x="192" y="485.8" text-anchor="middle" font-family="Liberation Sans, Arial, sans-serif" font-size="7.4" fill="#444">350</text>
<line x1="211.6" y1="473.4" x2="211.6" y2="475" stroke="#8a8a8a" stroke-width="0.8"/>
<line x1="211.6" y1="244.8" x2="211.6" y2="247.2" stroke="#8a8a8a" stroke-width="0.8"/>
<line x1="229.9" y1="473.4" x2="229.9" y2="476.2" stroke="#8a8a8a" stroke-width="0.8"/>
<line x1="229.9" y1="244.8" x2="229.9" y2="246.2" stroke="#8a8a8a" stroke-width="0.8"/>
<text x="228.6" y="485.8" text-anchor="middle" font-family="Liberation Sans, Arial, sans-serif" font-size="7.4" fill="#444">450</text>
<line x1="248.1" y1="473.4" x2="248.1" y2="475" stroke="#8a8a8a" stroke-width="0.8"/>
<line x1="248.1" y1="244.8" x2="248.1" y2="247.2" stroke="#8a8a8a" stroke-width="0.8"/>
<line x1="266.4" y1="473.4" x2="266.4" y2="476.2" stroke="#8a8a8a" stroke-width="0.8"/>
<line x1="266.4" y1="244.8" x2="266.4" y2="246.2" stroke="#8a8a8a" stroke-width="0.8"/>
<text x="265.1" y="485.8" text-anchor="middle" font-family="Liberation Sans, Arial, sans-serif" font-size="7.4" fill="#444">550</text>
<line x1="284.7" y1="473.4" x2="284.7" y2="475" stroke="#8a8a8a" stroke-width="0.8"/>
<line x1="284.7" y1="244.8" x2="284.7" y2="247.2" stroke="#8a8a8a" stroke-width="0.8"/>
<line x1="302.9" y1="473.4" x2="302.9" y2="476.2" stroke="#8a8a8a" stroke-width="0.8"/>
<line x1="302.9" y1="244.8" x2="302.9" y2="246.2" stroke="#8a8a8a" stroke-width="0.8"/>
<text x="301.6" y="485.8" text-anchor="middle" font-family="Liberation Sans, Arial, sans-serif" font-size="7.4" fill="#444">650</text>
<line x1="321.2" y1="473.4" x2="321.2" y2="475" stroke="#8a8a8a" stroke-width="0.8"/>
<line x1="321.2" y1="244.8" x2="321.2" y2="247.2" stroke="#8a8a8a" stroke-width="0.8"/>
<line x1="339.5" y1="473.4" x2="339.5" y2="476.2" stroke="#8a8a8a" stroke-width="0.8"/>
<line x1="339.5" y1="244.8" x2="339.5" y2="246.2" stroke="#8a8a8a" stroke-width="0.8"/>
<text x="338.2" y="485.8" text-anchor="middle" font-family="Liberation Sans, Arial, sans-serif" font-size="7.4" fill="#444">750</text>
<text x="230.5" y="497" font-family="Liberation Sans, Arial, sans-serif" font-size="9.4" fill="#333" textLength="71.4" lengthAdjust="spacingAndGlyphs">Wavelength (nm)</text>
<text transform="translate(188 445) rotate(-90)" font-family="Liberation Sans, Arial, sans-serif" font-size="8" fill="#333" textLength="175.5" lengthAdjust="spacingAndGlyphs">Photoluminescence &amp; Absorption (a.u.)</text>
<defs><clipPath id="cpE"><rect x="193.2" y="244.8" width="146.3" height="228.6"/></clipPath></defs>
<g clip-path="url(#cpE)">
<path d="M266.3 244C268.4 246.3 274.8 253.7 279 258C283.2 262.3 288.3 267.2 291.8 270C295.3 272.8 297 273.4 300 275C303 276.6 307.1 277.7 309.8 279.5C312.5 281.3 314 283.4 316 286C318 288.6 319.4 292.9 321.7 295C324 297.1 327 297.9 330 298.6C333 299.3 337.9 298.9 339.5 299" fill="none" stroke="#8c1a2c" stroke-width="1.4" stroke-dasharray="1.2 1.6"/>
<polyline points="269.3,298.9 269.8,298.9 270.3,298.9 270.8,298.9 271.3,298.9 271.8,298.9 272.3,298.9 272.8,298.9 273.3,298.8 273.8,298.8 274.3,298.8 274.8,298.8 275.3,298.8 275.8,298.8 276.3,298.8 276.8,298.8 277.3,298.8 277.8,298.8 278.3,298.8 278.8,298.8 279.3,298.8 279.8,298.8 280.3,298.8 280.8,298.8 281.3,298.8 281.8,298.8 282.3,298.8 282.8,298.8 283.3,298.7 283.8,298.7 284.3,298.7 284.8,298.7 285.3,298.7 285.8,298.7 286.3,298.7 286.8,298.7 287.3,298.7 287.8,298.7 288.3,298.6 288.8,298.6 289.3,298.6 289.8,298.6 290.3,298.6 290.8,298.6 291.3,298.6 291.8,298.5 292.3,298.5 292.8,298.5 293.3,298.5 293.8,298.5 294.3,298.4 294.8,298.4 295.3,298.4 295.8,298.3 296.3,298.3 296.8,298.3 297.3,298.2 297.8,298.1 298.3,298.1 298.8,298 299.3,297.9 299.8,297.8 300.3,297.7 300.8,297.5 301.3,297.4 301.8,297.1 302.3,296.9 302.8,296.6 303.3,296.3 303.8,295.9 304.3,295.4 304.8,294.9 305.3,294.4 305.8,293.7 306.3,293 306.8,292.2 307.3,291.3 307.8,290.3 308.3,289.3 308.8,288.2 309.3,287 309.8,285.8 310.3,284.6 310.8,283.4 311.3,282.1 311.8,281 312.3,279.8 312.8,278.8 313.3,277.9 313.8,277.1 314.3,276.5 314.8,276.2 315.3,276 315.8,276.1 316.3,276.4 316.8,276.9 317.3,277.6 317.8,278.4 318.3,279.4 318.8,280.5 319.3,281.7 319.8,282.9 320.3,284.1 320.8,285.3 321.3,286.6 321.8,287.7 322.3,288.9 322.8,289.9 323.3,290.9 323.8,291.8 324.3,292.7 324.8,293.4 325.3,294.1 325.8,294.7 326.3,295.3 326.8,295.7 327.3,296.1 327.8,296.5 328.3,296.8 328.8,297.1 329.3,297.3 329.8,297.5 330.3,297.6 330.8,297.8 331.3,297.9 331.8,298 332.3,298 332.8,298.1 333.3,298.2 333.8,298.2 334.3,298.3 334.8,298.3 335.3,298.4 335.8,298.4 336.3,298.4 336.8,298.4 337.3,298.5 337.8,298.5 338.3,298.5 338.8,298.5 339.3,298.6" fill="none" stroke="#8c1a2c" stroke-width="1.7"/>
<path d="M248.4 274.4C249.5 276.3 252.8 282.2 255 286C257.2 289.8 259.4 293.4 261.9 296.9C264.4 300.4 267 303.8 270 307C273 310.2 276.7 313.8 279.8 316.3C282.9 318.9 285.4 320 288.8 322.3C292.2 324.6 296 328 300 330C304 332 310.7 333.6 312.8 334.3" fill="none" stroke="#b82a3a" stroke-width="1.4" stroke-dasharray="1.2 1.6"/>
<polyline points="259.5,334.4 260,334.4 260.5,334.4 261,334.4 261.5,334.4 262,334.4 262.5,334.4 263,334.4 263.5,334.4 264,334.4 264.5,334.4 265,334.4 265.5,334.4 266,334.3 266.5,334.3 267,334.3 267.5,334.3 268,334.3 268.5,334.3 269,334.3 269.5,334.3 270,334.3 270.5,334.3 271,334.2 271.5,334.2 272,334.2 272.5,334.2 273,334.2 273.5,334.2 274,334.1 274.5,334.1 275,334.1 275.5,334.1 276,334 276.5,334 277,334 277.5,334 278,333.9 278.5,333.9 279,333.8 279.5,333.8 280,333.7 280.5,333.6 281,333.5 281.5,333.4 282,333.3 282.5,333.1 283,332.9 283.5,332.7 284,332.4 284.5,332.1 285,331.7 285.5,331.3 286,330.8 286.5,330.2 287,329.6 287.5,328.9 288,328 288.5,327.1 289,326.2 289.5,325.1 290,324 290.5,322.8 291,321.5 291.5,320.3 292,319 292.5,317.7 293,316.5 293.5,315.3 294,314.3 294.5,313.4 295,312.7 295.5,312.2 296,311.9 296.5,311.9 297,312.1 297.5,312.6 298,313.3 298.5,314.1 299,315.1 299.5,316.3 300,317.5 300.5,318.7 301,320 301.5,321.3 302,322.5 302.5,323.7 303,324.9 303.5,326 304,327 304.5,327.9 305,328.7 305.5,329.5 306,330.1 306.5,330.7 307,331.2 307.5,331.7 308,332 308.5,332.4 309,332.6 309.5,332.9 310,333.1 310.5,333.2 311,333.4 311.5,333.5 312,333.6 312.5,333.7 313,333.7 313.5,333.8 314,333.9 314.5,333.9 315,333.9 315.5,334 316,334 316.5,334 317,334.1 317.5,334.1 318,334.1 318.5,334.1 319,334.2 319.5,334.2 320,334.2 320.5,334.2 321,334.2 321.5,334.2 322,334.2 322.5,334.3 323,334.3 323.5,334.3 324,334.3 324.5,334.3 325,334.3 325.5,334.3 326,334.3 326.5,334.3 327,334.3 327.5,334.4 328,334.4 328.5,334.4 329,334.4 329.5,334.4 330,334.4 330.5,334.4 331,334.4 331.5,334.4 332,334.4 332.5,334.4 333,334.4 333.5,334.4 334,334.4 334.5,334.4 335,334.4 335.5,334.4 336,334.4 336.5,334.5 337,334.5 337.5,334.5 338,334.5 338.5,334.5 339,334.5 339.5,334.5" fill="none" stroke="#cc2a3c" stroke-width="1.7"/>
<path d="M240.9 314.9C242.1 316.6 245.8 321.8 248 325C250.2 328.2 252.2 330.9 254 334C255.8 337.1 257.2 340.5 258.9 343.3C260.6 346.1 262 348.8 264 351C266 353.2 268.5 355.5 270.8 356.8C273.1 358.1 276.8 358.3 278 358.6" fill="none" stroke="#8a8a2a" stroke-width="1.4" stroke-dasharray="1.2 1.6"/>
<polyline points="240.3,358.7 240.8,358.7 241.3,358.7 241.8,358.7 242.3,358.7 242.8,358.7 243.3,358.7 243.8,358.7 244.3,358.6 244.8,358.6 245.3,358.6 245.8,358.6 246.3,358.6 246.8,358.6 247.3,358.6 247.8,358.5 248.3,358.5 248.8,358.5 249.3,358.5 249.8,358.5 250.3,358.4 250.8,358.4 251.3,358.4 251.8,358.3 252.3,358.3 252.8,358.2 253.3,358.2 253.8,358.1 254.3,358 254.8,357.9 255.3,357.8 255.8,357.6 256.3,357.4 256.8,357.1 257.3,356.7 257.8,356.3 258.3,355.7 258.8,355.1 259.3,354.3 259.8,353.4 260.3,352.3 260.8,351.2 261.3,349.8 261.8,348.4 262.3,346.9 262.8,345.3 263.3,343.7 263.8,342.2 264.3,340.8 264.8,339.6 265.3,338.7 265.8,338.1 266.3,337.9 266.8,338.1 267.3,338.7 267.8,339.6 268.3,340.8 268.8,342.2 269.3,343.7 269.8,345.3 270.3,346.9 270.8,348.4 271.3,349.8 271.8,351.2 272.3,352.3 272.8,353.4 273.3,354.3 273.8,355.1 274.3,355.7 274.8,356.3 275.3,356.7 275.8,357.1 276.3,357.4 276.8,357.6 277.3,357.8 277.8,357.9 278.3,358 278.8,358.1 279.3,358.2 279.8,358.2 280.3,358.3 280.8,358.3 281.3,358.4 281.8,358.4 282.3,358.4 282.8,358.5 283.3,358.5 283.8,358.5 284.3,358.5 284.8,358.5 285.3,358.6 285.8,358.6 286.3,358.6 286.8,358.6 287.3,358.6 287.8,358.6 288.3,358.6 288.8,358.7 289.3,358.7 289.8,358.7 290.3,358.7 290.8,358.7 291.3,358.7 291.8,358.7 292.3,358.7 292.8,358.7 293.3,358.7 293.8,358.7 294.3,358.7 294.8,358.7 295.3,358.8 295.8,358.8 296.3,358.8 296.8,358.8 297.3,358.8 297.8,358.8 298.3,358.8 298.8,358.8 299.3,358.8 299.8,358.8 300.3,358.8 300.8,358.8 301.3,358.8 301.8,358.8 302.3,358.8 302.8,358.8 303.3,358.8 303.8,358.8" fill="none" stroke="#7c7a22" stroke-width="1.7"/>
<path d="M236.4 361C237.5 361.6 240.8 363.3 243 364.5C245.2 365.7 247.9 366.6 249.9 368.4C251.9 370.1 253.7 372.9 255 375C256.4 377.1 256.9 379.5 258 381C259.1 382.5 261.2 383.5 261.9 384" fill="none" stroke="#98d098" stroke-width="1.4" stroke-dasharray="1.2 1.6"/>
<polyline points="229,384.2 229.5,384.2 230,384.2 230.5,384.2 231,384.2 231.5,384.1 232,384.1 232.5,384.1 233,384.1 233.5,384.1 234,384.1 234.5,384.1 235,384.1 235.5,384.1 236,384.1 236.5,384 237,384 237.5,384 238,384 238.5,384 239,384 239.5,383.9 240,383.9 240.5,383.9 241,383.8 241.5,383.8 242,383.8 242.5,383.7 243,383.6 243.5,383.6 244,383.5 244.5,383.3 245,383.1 245.5,382.9 246,382.6 246.5,382.1 247,381.6 247.5,380.8 248,379.9 248.5,378.7 249,377.3 249.5,375.7 250,373.8 250.5,371.9 251,369.9 251.5,367.9 252,366.1 252.5,364.7 253,363.7 253.5,363.4 254,363.7 254.5,364.7 255,366.1 255.5,367.9 256,369.9 256.5,371.9 257,373.8 257.5,375.7 258,377.3 258.5,378.7 259,379.9 259.5,380.8 260,381.6 260.5,382.1 261,382.6 261.5,382.9 262,383.1 262.5,383.3 263,383.5 263.5,383.6 264,383.6 264.5,383.7 265,383.8 265.5,383.8 266,383.8 266.5,383.9 267,383.9 267.5,383.9 268,384 268.5,384 269,384 269.5,384 270,384 270.5,384 271,384.1 271.5,384.1 272,384.1 272.5,384.1 273,384.1 273.5,384.1 274,384.1 274.5,384.1 275,384.1 275.5,384.1 276,384.2 276.5,384.2 277,384.2 277.5,384.2 278,384.2 278.5,384.2 279,384.2 279.5,384.2 280,384.2 280.5,384.2 281,384.2 281.5,384.2 282,384.2 282.5,384.2 283,384.2 283.5,384.2 284,384.2 284.5,384.2 285,384.2" fill="none" stroke="#5cb85c" stroke-width="1.7"/>
<path d="M230.4 387.9C231.2 388.7 233.2 390.5 235 392.5C236.8 394.5 239.4 397.5 240.9 399.9C242.4 402.3 243.1 404.6 244 407C244.9 409.4 245.7 412.2 246.5 414C247.3 415.8 248.6 416.9 249 417.5" fill="none" stroke="#b8e0ee" stroke-width="1.4" stroke-dasharray="1.2 1.6"/>
<polyline points="222.9,417.6 223.4,417.6 223.9,417.6 224.4,417.6 224.9,417.6 225.4,417.6 225.9,417.6 226.4,417.5 226.9,417.5 227.4,417.5 227.9,417.5 228.4,417.5 228.9,417.5 229.4,417.4 229.9,417.4 230.4,417.4 230.9,417.3 231.4,417.3 231.9,417.3 232.4,417.2 232.9,417.2 233.4,417.1 233.9,417 234.4,416.9 234.9,416.8 235.4,416.6 235.9,416.3 236.4,415.9 236.9,415.5 237.4,414.9 237.9,414 238.4,413 238.9,411.8 239.4,410.3 239.9,408.5 240.4,406.6 240.9,404.5 241.4,402.3 241.9,400.2 242.4,398.3 242.9,396.8 243.4,395.8 243.9,395.4 244.4,395.8 244.9,396.8 245.4,398.3 245.9,400.2 246.4,402.3 246.9,404.5 247.4,406.6 247.9,408.5 248.4,410.3 248.9,411.8 249.4,413 249.9,414 250.4,414.9 250.9,415.5 251.4,415.9 251.9,416.3 252.4,416.6 252.9,416.8 253.4,416.9 253.9,417 254.4,417.1 254.9,417.2 255.4,417.2 255.9,417.3 256.4,417.3 256.9,417.3 257.4,417.4 257.9,417.4 258.4,417.4 258.9,417.5 259.4,417.5 259.9,417.5 260.4,417.5 260.9,417.5 261.4,417.5 261.9,417.6 262.4,417.6 262.9,417.6 263.4,417.6 263.9,417.6 264.4,417.6 264.9,417.6 265.4,417.6 265.9,417.6 266.4,417.6 266.9,417.6 267.4,417.7 267.9,417.7 268.4,417.7 268.9,417.7 269.4,417.7 269.9,417.7" fill="none" stroke="#a8d8ea" stroke-width="1.7"/>
<path d="M211 418.4C211.7 418.7 213.5 419.6 215 420C216.5 420.4 218.5 419.8 220 420.8C221.5 421.8 222.8 424 224 426C225.2 428 226 430.7 227 433C228 435.3 229 438.2 230 440C231 441.8 232.5 442.9 233 443.5" fill="none" stroke="#2a4a9a" stroke-width="1.4" stroke-dasharray="1.2 1.6"/>
<polyline points="214.6,443.3 215.1,443.3 215.6,443.2 216.1,443 216.6,442.9 217.1,442.6 217.6,442.3 218.1,441.8 218.6,441 219.1,440 219.6,438.6 220.1,436.8 220.6,434.6 221.1,432.1 221.6,429.3 222.1,426.5 222.6,423.9 223.1,421.9 223.6,420.9 224.1,421 224.6,422.3 225.1,424.4 225.6,427 226.1,429.9 226.6,432.6 227.1,435.1 227.6,437.2 228.1,438.9 228.6,440.2 229.1,441.2 229.6,441.9 230.1,442.4 230.6,442.7 231.1,442.9 231.6,443.1 232.1,443.2 232.6,443.3 233.1,443.3 233.6,443.4 234.1,443.4 234.6,443.5 235.1,443.5 235.6,443.5 236.1,443.6 236.6,443.6 237.1,443.6 237.6,443.6 238.1,443.7 238.6,443.7 239.1,443.7 239.6,443.7 240.1,443.7 240.6,443.7 241.1,443.7 241.6,443.7 242.1,443.7 242.6,443.8 243.1,443.8 243.6,443.8 244.1,443.8 244.6,443.8 245.1,443.8 245.6,443.8 246.1,443.8 246.6,443.8 247.1,443.8 247.6,443.8 248.1,443.8 248.6,443.8 249.1,443.8 249.6,443.8 250.1,443.8 250.6,443.8 251.1,443.8 251.6,443.8 252.1,443.8 252.6,443.8 253.1,443.8 253.6,443.8 254.1,443.8 254.6,443.8 255.1,443.8 255.6,443.8 256.1,443.9" fill="none" stroke="#2a4a9a" stroke-width="1.7"/>
<path d="M193 450.2C193.7 450.6 195.5 451.9 197 452.5C198.5 453.1 200.3 453.8 202 453.8C203.7 453.8 205.5 453 207 452.5C208.5 452 209.8 449.9 211 450.8C212.2 451.7 213.2 455.6 214 458C214.8 460.4 215.2 463 216 465C216.8 467 218.5 469.2 219 470" fill="none" stroke="#1a2a5c" stroke-width="1.4" stroke-dasharray="1.2 1.6"/>
<polyline points="205,470.7 205.5,470.6 206,470.6 206.5,470.5 207,470.4 207.5,470.3 208,470.1 208.5,469.8 209,469.3 209.5,468.5 210,467.4 210.5,465.7 211,463.4 211.5,460.4 212,456.9 212.5,453.2 213,449.7 213.5,447.2 214,446.3 214.5,447.2 215,449.7 215.5,453.2 216,456.9 216.5,460.4 217,463.4 217.5,465.7 218,467.4 218.5,468.5 219,469.3 219.5,469.8 220,470.1 220.5,470.3 221,470.4 221.5,470.5 222,470.6 222.5,470.6 223,470.7 223.5,470.7 224,470.7 224.5,470.8 225,470.8 225.5,470.8 226,470.8 226.5,470.9 227,470.9 227.5,470.9 228,470.9 228.5,470.9 229,470.9 229.5,470.9 230,471 230.5,471 231,471 231.5,471 232,471 232.5,471 233,471 233.5,471 234,471" fill="none" stroke="#1a2a5c" stroke-width="1.7"/>
</g>
<text x="209.4" y="261.2" font-family="Liberation Sans, Arial, sans-serif" font-size="7.6" fill="#333" textLength="16.1" lengthAdjust="spacingAndGlyphs">CsPbI</text>
<text x="225.8" y="262.8" font-family="Liberation Sans, Arial, sans-serif" font-size="4.6" fill="#333">3</text>
<text x="233.4" y="261.2" font-family="Liberation Sans, Arial, sans-serif" font-size="7.6" fill="#333" textLength="24.2" lengthAdjust="spacingAndGlyphs">QY 90%</text>
<text x="201" y="306.2" font-family="Liberation Sans, Arial, sans-serif" font-size="7.6" fill="#333" textLength="19.3" lengthAdjust="spacingAndGlyphs">CsPbBr</text>
<text x="220.6" y="307.8" font-family="Liberation Sans, Arial, sans-serif" font-size="4.6" fill="#333">1</text>
<text x="223.2" y="306.2" font-family="Liberation Sans, Arial, sans-serif" font-size="7.6" fill="#333" textLength="2.9" lengthAdjust="spacingAndGlyphs">I</text>
<text x="226.4" y="307.8" font-family="Liberation Sans, Arial, sans-serif" font-size="4.6" fill="#333">2</text>
<text x="234.3" y="306.2" font-family="Liberation Sans, Arial, sans-serif" font-size="7.6" fill="#333" textLength="24.2" lengthAdjust="spacingAndGlyphs">QY 80%</text>
<text x="195.4" y="348.1" font-family="Liberation Sans, Arial, sans-serif" font-size="7.6" fill="#333" textLength="19.3" lengthAdjust="spacingAndGlyphs">CsPbBr</text>
<text x="215" y="349.7" font-family="Liberation Sans, Arial, sans-serif" font-size="4.6" fill="#333">2</text>
<text x="217.6" y="348.1" font-family="Liberation Sans, Arial, sans-serif" font-size="7.6" fill="#333" textLength="2.9" lengthAdjust="spacingAndGlyphs">I</text>
<text x="220.8" y="349.7" font-family="Liberation Sans, Arial, sans-serif" font-size="4.6" fill="#333">1</text>
<text x="228.7" y="348.1" font-family="Liberation Sans, Arial, sans-serif" font-size="7.6" fill="#333" textLength="24.2" lengthAdjust="spacingAndGlyphs">QY 77%</text>
<text x="279.8" y="377.1" font-family="Liberation Sans, Arial, sans-serif" font-size="7.6" fill="#333" textLength="19.3" lengthAdjust="spacingAndGlyphs">CsPbBr</text>
<text x="299.4" y="378.7" font-family="Liberation Sans, Arial, sans-serif" font-size="4.6" fill="#333">3</text>
<text x="306.5" y="377.1" font-family="Liberation Sans, Arial, sans-serif" font-size="7.6" fill="#333" textLength="24.2" lengthAdjust="spacingAndGlyphs">QY 92%</text>
<text x="270.8" y="406.5" font-family="Liberation Sans, Arial, sans-serif" font-size="7.6" fill="#333" textLength="19.3" lengthAdjust="spacingAndGlyphs">CsPbCl</text>
<text x="290.4" y="408.1" font-family="Liberation Sans, Arial, sans-serif" font-size="4.6" fill="#333">1</text>
<text x="293" y="406.5" font-family="Liberation Sans, Arial, sans-serif" font-size="7.6" fill="#333" textLength="5.7" lengthAdjust="spacingAndGlyphs">Br</text>
<text x="299" y="408.1" font-family="Liberation Sans, Arial, sans-serif" font-size="4.6" fill="#333">2</text>
<text x="305" y="406.5" font-family="Liberation Sans, Arial, sans-serif" font-size="7.6" fill="#333" textLength="24.2" lengthAdjust="spacingAndGlyphs">QY 82%</text>
<text x="267.2" y="432.5" font-family="Liberation Sans, Arial, sans-serif" font-size="7.6" fill="#333" textLength="19.3" lengthAdjust="spacingAndGlyphs">CsPbCl</text>
<text x="286.8" y="434.1" font-family="Liberation Sans, Arial, sans-serif" font-size="4.6" fill="#333">2</text>
<text x="289.4" y="432.5" font-family="Liberation Sans, Arial, sans-serif" font-size="7.6" fill="#333" textLength="5.7" lengthAdjust="spacingAndGlyphs">Br</text>
<text x="295.4" y="434.1" font-family="Liberation Sans, Arial, sans-serif" font-size="4.6" fill="#333">1</text>
<text x="305" y="432.5" font-family="Liberation Sans, Arial, sans-serif" font-size="7.6" fill="#333" textLength="24.2" lengthAdjust="spacingAndGlyphs">QY 22%</text>
<text x="266.3" y="457.4" font-family="Liberation Sans, Arial, sans-serif" font-size="7.6" fill="#333" textLength="19.3" lengthAdjust="spacingAndGlyphs">CsPbCl</text>
<text x="285.9" y="459" font-family="Liberation Sans, Arial, sans-serif" font-size="4.6" fill="#333">3</text>
<text x="294.5" y="457.4" font-family="Liberation Sans, Arial, sans-serif" font-size="7.6" fill="#333" textLength="24.2" lengthAdjust="spacingAndGlyphs">QY 10%</text>
<rect x="368.5" y="245.3" width="140.8" height="229.6" fill="none" stroke="#8a8a8a" stroke-width="1"/>
<line x1="381.3" y1="474.9" x2="381.3" y2="477.3" stroke="#8a8a8a" stroke-width="0.8"/>
<text x="380.8" y="488.3" text-anchor="middle" font-family="Liberation Serif, Times New Roman, serif" font-weight="bold" font-size="9.8" fill="#222">400</text>
<line x1="394" y1="474.9" x2="394" y2="476.3" stroke="#8a8a8a" stroke-width="0.8"/>
<line x1="406.8" y1="474.9" x2="406.8" y2="477.3" stroke="#8a8a8a" stroke-width="0.8"/>
<text x="406.3" y="488.3" text-anchor="middle" font-family="Liberation Serif, Times New Roman, serif" font-weight="bold" font-size="9.8" fill="#222">500</text>
<line x1="419.6" y1="474.9" x2="419.6" y2="476.3" stroke="#8a8a8a" stroke-width="0.8"/>
<line x1="432.3" y1="474.9" x2="432.3" y2="477.3" stroke="#8a8a8a" stroke-width="0.8"/>
<text x="431.8" y="488.3" text-anchor="middle" font-family="Liberation Serif, Times New Roman, serif" font-weight="bold" font-size="9.8" fill="#222">600</text>
<line x1="445.1" y1="474.9" x2="445.1" y2="476.3" stroke="#8a8a8a" stroke-width="0.8"/>
<line x1="457.9" y1="474.9" x2="457.9" y2="477.3" stroke="#8a8a8a" stroke-width="0.8"/>
<text x="457.4" y="488.3" text-anchor="middle" font-family="Liberation Serif, Times New Roman, serif" font-weight="bold" font-size="9.8" fill="#222">700</text>
<line x1="470.6" y1="474.9" x2="470.6" y2="476.3" stroke="#8a8a8a" stroke-width="0.8"/>
<line x1="483.4" y1="474.9" x2="483.4" y2="477.3" stroke="#8a8a8a" stroke-width="0.8"/>
<text x="482.9" y="488.3" text-anchor="middle" font-family="Liberation Serif, Times New Roman, serif" font-weight="bold" font-size="9.8" fill="#222">800</text>
<line x1="496.2" y1="474.9" x2="496.2" y2="476.3" stroke="#8a8a8a" stroke-width="0.8"/>
<line x1="508.9" y1="474.9" x2="508.9" y2="477.3" stroke="#8a8a8a" stroke-width="0.8"/>
<text x="508.4" y="488.3" text-anchor="middle" font-family="Liberation Serif, Times New Roman, serif" font-weight="bold" font-size="9.8" fill="#222">900</text>
<text x="407.7" y="497.6" font-family="Liberation Serif, Times New Roman, serif" font-weight="bold" font-size="10.2" fill="#222" textLength="75.3" lengthAdjust="spacingAndGlyphs">Wavelength (nm)</text>
<text transform="translate(363.3 388) rotate(-90)" font-family="Liberation Serif, Times New Roman, serif" font-weight="bold" font-size="9.8" fill="#222" textLength="39" lengthAdjust="spacingAndGlyphs">PL &amp; UV</text>
<defs><clipPath id="cpF"><rect x="368.5" y="245.3" width="140.8" height="229.6"/></clipPath></defs>
<g clip-path="url(#cpF)">
<path d="M385.8 244C386.8 246.7 390 255.8 392 260C394 264.2 395.7 266 398 269C400.3 272 403.6 275.2 405.9 278C408.2 280.8 409.7 283.4 412 286C414.3 288.6 416.9 291.8 419.9 293.9C422.9 296 426.6 297.6 429.9 298.9C433.2 300.2 436.5 300.5 439.8 301.9C443.1 303.2 446.5 305.8 449.8 307C453.1 308.2 454.8 308.9 459.8 309.4C464.8 309.9 471.7 310 480 310.2C488.3 310.4 504.6 310.3 509.5 310.3" fill="none" stroke="#a8a838" stroke-width="1.35"/>
<path d="M368.5 256C369.4 258.3 372.1 264.7 374 270C375.9 275.3 377.3 282.6 380 287.9C382.7 293.2 386.7 297.9 390 301.9C393.3 305.9 396.9 308.8 399.9 311.8C402.9 314.8 405.3 317.2 408 320C410.7 322.8 413.4 326.2 415.9 328.8C418.4 331.4 420.7 333.8 423 335.5C425.3 337.2 427.1 338.1 429.9 339C432.7 339.9 436.8 340.2 439.8 341C442.8 341.8 444.4 343 447.8 344C451.2 345 454.6 346.3 460 347C465.4 347.7 471.8 347.8 480 348C488.2 348.2 504.6 348 509.5 348" fill="none" stroke="#a02838" stroke-width="1.35"/>
<path d="M368.5 293.9C369.4 296.2 371.8 302.1 374 307.8C376.2 313.5 379.3 322.8 382 327.8C384.7 332.8 387 334.5 390 338C393 341.5 396.6 345.3 399.9 349C403.2 352.7 406.6 356.5 409.9 360C413.2 363.5 416.7 367.6 419.9 369.9C423.1 372.2 425.7 372.8 429 374C432.3 375.2 436.3 375.8 439.8 376.9C443.3 378 446.6 379.4 450 380.5C453.4 381.6 455 382.8 460 383.5C465 384.2 471.8 384.4 480 384.6C488.2 384.8 504.6 384.8 509.5 384.9" fill="none" stroke="#a03090" stroke-width="1.35"/>
<path d="M368.5 345C369.4 346.5 372.1 351 374 354C375.9 357 378.5 361.2 380 363C381.5 364.8 382 364.5 383 365C384 365.5 384.8 364.5 386 366C387.2 367.5 387.7 370.2 390 373.9C392.3 377.5 396.6 383.6 399.9 387.9C403.2 392.2 406.6 396.5 409.9 399.8C413.2 403.1 416.5 405.7 419.9 407.8C423.2 409.9 426.7 411.2 430 412.5C433.3 413.8 434.8 414.5 439.8 415.8C444.9 417.1 453.6 419.1 460.3 420.2C467 421.3 471.8 421.8 480 422.5C488.2 423.2 504.6 423.9 509.5 424.2" fill="none" stroke="#2a2a8a" stroke-width="1.35"/>
<path d="M368.5 386C369.1 386.7 370.8 389.5 372 390C373.2 390.5 374.7 388.7 376 389C377.3 389.3 378.7 390.2 380 392C381.3 393.8 382.7 397 384 400C385.3 403 386.7 407.5 388 410C389.3 412.5 390.3 413.2 392 415C393.7 416.8 396 418.8 398 421C400 423.2 402 425.8 404 428C406 430.2 407.3 431.7 410 434C412.7 436.3 416.7 439.7 420 442C423.3 444.3 426.7 446.4 430 448C433.3 449.6 435 449.6 440 451.4C445 453.1 453.3 456.6 460 458.5C466.7 460.4 471.8 461.4 480 462.5C488.2 463.6 504.6 464.6 509.5 465" fill="none" stroke="#a040e0" stroke-width="1.35"/>
<polyline points="408.9,312 409.4,312 409.9,312 410.4,312 410.9,312 411.4,311.9 411.9,311.9 412.4,311.9 412.9,311.9 413.4,311.9 413.9,311.9 414.4,311.8 414.9,311.8 415.4,311.8 415.9,311.8 416.4,311.8 416.9,311.7 417.4,311.7 417.9,311.7 418.4,311.7 418.9,311.6 419.4,311.6 419.9,311.6 420.4,311.5 420.9,311.5 421.4,311.4 421.9,311.4 422.4,311.3 422.9,311.3 423.4,311.2 423.9,311.1 424.4,311 424.9,311 425.4,310.9 425.9,310.7 426.4,310.6 426.9,310.4 427.4,310.3 427.9,310.1 428.4,309.8 428.9,309.6 429.4,309.3 429.9,309 430.4,308.6 430.9,308.2 431.4,307.7 431.9,307.1 432.4,306.5 432.9,305.9 433.4,305.1 433.9,304.3 434.4,303.5 434.9,302.5 435.4,301.5 435.9,300.3 436.4,299.2 436.9,297.9 437.4,296.6 437.9,295.2 438.4,293.7 438.9,292.2 439.4,290.7 439.9,289.1 440.4,287.5 440.9,286 441.4,284.5 441.9,283 442.4,281.6 442.9,280.2 443.4,279 443.9,278 444.4,277.1 444.9,276.4 445.4,275.9 445.9,275.6 446.4,275.5 446.9,275.7 447.4,276 447.9,276.6 448.4,277.4 448.9,278.4 449.4,279.5 449.9,280.8 450.4,282.1 450.9,283.6 451.4,285.1 451.9,286.6 452.4,288.2 452.9,289.7 453.4,291.3 453.9,292.8 454.4,294.3 454.9,295.7 455.4,297.1 455.9,298.4 456.4,299.6 456.9,300.8 457.4,301.9 457.9,302.9 458.4,303.8 458.9,304.7 459.4,305.4 459.9,306.2 460.4,306.8 460.9,307.4 461.4,307.9 461.9,308.3 462.4,308.7 462.9,309.1 463.4,309.4 463.9,309.7 464.4,309.9 464.9,310.2 465.4,310.3 465.9,310.5 466.4,310.7 466.9,310.8 467.4,310.9 467.9,311 468.4,311.1 468.9,311.2 469.4,311.2 469.9,311.3 470.4,311.4 470.9,311.4 471.4,311.4 471.9,311.5 472.4,311.5 472.9,311.6 473.4,311.6 473.9,311.6 474.4,311.7 474.9,311.7 475.4,311.7 475.9,311.7 476.4,311.8 476.9,311.8 477.4,311.8 477.9,311.8 478.4,311.9 478.9,311.9 479.4,311.9 479.9,311.9 480.4,311.9 480.9,311.9 481.4,312 481.9,312 482.4,312 482.9,312 483.4,312 483.9,312 484.4,312 484.9,312 485.4,312.1 485.9,312.1 486.4,312.1 486.9,312.1 487.4,312.1 487.9,312.1 488.4,312.1 488.9,312.1" fill="none" stroke="#2a9a3a" stroke-width="1.45"/>
<polyline points="420.9,349.5 421.4,349.5 421.9,349.4 422.4,349.4 422.9,349.4 423.4,349.4 423.9,349.4 424.4,349.4 424.9,349.3 425.4,349.3 425.9,349.3 426.4,349.3 426.9,349.3 427.4,349.2 427.9,349.2 428.4,349.2 428.9,349.2 429.4,349.1 429.9,349.1 430.4,349.1 430.9,349.1 431.4,349 431.9,349 432.4,348.9 432.9,348.9 433.4,348.9 433.9,348.8 434.4,348.8 434.9,348.7 435.4,348.6 435.9,348.5 436.4,348.5 436.9,348.4 437.4,348.3 437.9,348.1 438.4,348 438.9,347.9 439.4,347.7 439.9,347.5 440.4,347.3 440.9,347.1 441.4,346.8 441.9,346.5 442.4,346.2 442.9,345.8 443.4,345.4 443.9,344.9 444.4,344.4 444.9,343.8 445.4,343.2 445.9,342.5 446.4,341.8 446.9,340.9 447.4,340.1 447.9,339.1 448.4,338.1 448.9,337.1 449.4,336 449.9,334.8 450.4,333.5 450.9,332.2 451.4,330.9 451.9,329.5 452.4,328.1 452.9,326.7 453.4,325.3 453.9,323.9 454.4,322.5 454.9,321.1 455.4,319.8 455.9,318.5 456.4,317.3 456.9,316.3 457.4,315.3 457.9,314.5 458.4,313.8 458.9,313.4 459.4,313 459.9,312.9 460.4,313 460.9,313.3 461.4,313.8 461.9,314.5 462.4,315.4 462.9,316.5 463.4,317.7 463.9,319 464.4,320.4 464.9,321.9 465.4,323.4 465.9,325 466.4,326.5 466.9,328.1 467.4,329.7 467.9,331.2 468.4,332.6 468.9,334 469.4,335.4 469.9,336.6 470.4,337.8 470.9,338.9 471.4,340 471.9,340.9 472.4,341.8 472.9,342.6 473.4,343.4 473.9,344 474.4,344.6 474.9,345.2 475.4,345.6 475.9,346.1 476.4,346.5 476.9,346.8 477.4,347.1 477.9,347.3 478.4,347.6 478.9,347.8 479.4,347.9 479.9,348.1 480.4,348.2 480.9,348.3 481.4,348.5 481.9,348.5 482.4,348.6 482.9,348.7 483.4,348.8 483.9,348.8 484.4,348.9 484.9,348.9 485.4,349 485.9,349 486.4,349.1 486.9,349.1 487.4,349.1 487.9,349.1 488.4,349.2 488.9,349.2 489.4,349.2 489.9,349.3 490.4,349.3 490.9,349.3 491.4,349.3 491.9,349.3 492.4,349.4 492.9,349.4 493.4,349.4 493.9,349.4" fill="none" stroke="#e040d8" stroke-width="1.45"/>
<polyline points="423,386.2 423.5,386.2 424,386.2 424.5,386.2 425,386.1 425.5,386.1 426,386.1 426.5,386.1 427,386.1 427.5,386 428,386 428.5,386 429,385.9 429.5,385.9 430,385.9 430.5,385.8 431,385.8 431.5,385.8 432,385.7 432.5,385.7 433,385.6 433.5,385.6 434,385.5 434.5,385.4 435,385.4 435.5,385.3 436,385.2 436.5,385.1 437,385 437.5,384.9 438,384.8 438.5,384.6 439,384.5 439.5,384.3 440,384.1 440.5,383.9 441,383.7 441.5,383.5 442,383.2 442.5,383 443,382.7 443.5,382.4 444,382 444.5,381.6 445,381.2 445.5,380.8 446,380.3 446.5,379.8 447,379.3 447.5,378.7 448,378.1 448.5,377.5 449,376.8 449.5,376.1 450,375.4 450.5,374.6 451,373.8 451.5,372.9 452,372.1 452.5,371.2 453,370.2 453.5,369.2 454,368.2 454.5,367.2 455,366.2 455.5,365.2 456,364.1 456.5,363 457,362 457.5,360.9 458,359.9 458.5,358.8 459,357.8 459.5,356.9 460,355.9 460.5,355.1 461,354.2 461.5,353.5 462,352.7 462.5,352.1 463,351.6 463.5,351.1 464,350.8 464.5,350.5 465,350.4 465.5,350.3 466,350.4 466.5,350.7 467,351.1 467.5,351.7 468,352.4 468.5,353.3 469,354.3 469.5,355.4 470,356.6 470.5,357.8 471,359.2 471.5,360.5 472,361.9 472.5,363.2 473,364.6 473.5,366 474,367.3 474.5,368.6 475,369.9 475.5,371.2 476,372.3 476.5,373.5 477,374.5 477.5,375.5 478,376.5 478.5,377.4 479,378.2 479.5,379 480,379.7 480.5,380.3 481,380.9 481.5,381.5 482,382 482.5,382.4 483,382.8 483.5,383.2 484,383.5 484.5,383.8 485,384.1 485.5,384.3 486,384.5 486.5,384.7 487,384.9 487.5,385 488,385.1 488.5,385.3 489,385.4 489.5,385.5 490,385.5 490.5,385.6 491,385.7 491.5,385.7 492,385.8 492.5,385.8 493,385.9 493.5,385.9 494,386 494.5,386 495,386 495.5,386.1 496,386.1 496.5,386.1 497,386.2 497.5,386.2 498,386.2 498.5,386.2" fill="none" stroke="#3030d0" stroke-width="1.45"/>
<polyline points="434.1,425.8 434.6,425.7 435.1,425.7 435.6,425.7 436.1,425.7 436.6,425.7 437.1,425.7 437.6,425.7 438.1,425.6 438.6,425.6 439.1,425.6 439.6,425.6 440.1,425.6 440.6,425.5 441.1,425.5 441.6,425.5 442.1,425.5 442.6,425.4 443.1,425.4 443.6,425.4 444.1,425.3 444.6,425.3 445.1,425.3 445.6,425.2 446.1,425.2 446.6,425.1 447.1,425.1 447.6,425 448.1,424.9 448.6,424.9 449.1,424.8 449.6,424.7 450.1,424.5 450.6,424.4 451.1,424.2 451.6,424.1 452.1,423.8 452.6,423.6 453.1,423.3 453.6,423 454.1,422.6 454.6,422.1 455.1,421.6 455.6,421 456.1,420.3 456.6,419.6 457.1,418.8 457.6,417.8 458.1,416.8 458.6,415.6 459.1,414.4 459.6,413.1 460.1,411.6 460.6,410.1 461.1,408.5 461.6,406.8 462.1,405.1 462.6,403.4 463.1,401.6 463.6,399.8 464.1,398.1 464.6,396.4 465.1,394.9 465.6,393.4 466.1,392.2 466.6,391.1 467.1,390.3 467.6,389.8 468.1,389.5 468.6,389.6 469.1,389.9 469.6,390.5 470.1,391.3 470.6,392.4 471.1,393.7 471.6,395.2 472.1,396.8 472.6,398.4 473.1,400.2 473.6,401.9 474.1,403.7 474.6,405.5 475.1,407.2 475.6,408.8 476.1,410.4 476.6,411.9 477.1,413.3 477.6,414.7 478.1,415.9 478.6,417 479.1,418 479.6,418.9 480.1,419.8 480.6,420.5 481.1,421.1 481.6,421.7 482.1,422.2 482.6,422.6 483.1,423 483.6,423.4 484.1,423.6 484.6,423.9 485.1,424.1 485.6,424.3 486.1,424.4 486.6,424.6 487.1,424.7 487.6,424.8 488.1,424.9 488.6,425 489.1,425 489.6,425.1 490.1,425.1 490.6,425.2 491.1,425.2 491.6,425.3 492.1,425.3 492.6,425.4 493.1,425.4 493.6,425.4 494.1,425.4 494.6,425.5 495.1,425.5 495.6,425.5 496.1,425.5 496.6,425.6 497.1,425.6 497.6,425.6 498.1,425.6 498.6,425.6" fill="none" stroke="#e03040" stroke-width="1.45"/>
<polyline points="431.7,465.1 432.2,465.1 432.7,465.1 433.2,465.1 433.7,465.1 434.2,465.1 434.7,465.1 435.2,465 435.7,465 436.2,465 436.7,465 437.2,465 437.7,465 438.2,465 438.7,464.9 439.2,464.9 439.7,464.9 440.2,464.9 440.7,464.9 441.2,464.8 441.7,464.8 442.2,464.8 442.7,464.8 443.2,464.7 443.7,464.7 444.2,464.7 444.7,464.6 445.2,464.6 445.7,464.6 446.2,464.5 446.7,464.5 447.2,464.4 447.7,464.4 448.2,464.3 448.7,464.2 449.2,464.1 449.7,464 450.2,463.9 450.7,463.8 451.2,463.7 451.7,463.5 452.2,463.3 452.7,463.1 453.2,462.8 453.7,462.5 454.2,462.2 454.7,461.8 455.2,461.3 455.7,460.8 456.2,460.2 456.7,459.5 457.2,458.7 457.7,457.9 458.2,456.9 458.7,455.9 459.2,454.7 459.7,453.4 460.2,452.1 460.7,450.6 461.2,449.1 461.7,447.5 462.2,445.8 462.7,444.1 463.2,442.3 463.7,440.5 464.2,438.8 464.7,437 465.2,435.4 465.7,433.9 466.2,432.5 466.7,431.3 467.2,430.3 467.7,429.5 468.2,429 468.7,428.8 469.2,428.9 469.7,429.3 470.2,429.9 470.7,430.8 471.2,432 471.7,433.3 472.2,434.8 472.7,436.4 473.2,438.1 473.7,439.8 474.2,441.6 474.7,443.4 475.2,445.1 475.7,446.8 476.2,448.5 476.7,450 477.2,451.5 477.7,452.9 478.2,454.2 478.7,455.4 479.2,456.5 479.7,457.5 480.2,458.4 480.7,459.2 481.2,459.9 481.7,460.6 482.2,461.1 482.7,461.6 483.2,462 483.7,462.4 484.2,462.7 484.7,463 485.2,463.2 485.7,463.4 486.2,463.6 486.7,463.8 487.2,463.9 487.7,464 488.2,464.1 488.7,464.2 489.2,464.3 489.7,464.3 490.2,464.4 490.7,464.5 491.2,464.5 491.7,464.5 492.2,464.6 492.7,464.6 493.2,464.7 493.7,464.7 494.2,464.7 494.7,464.7 495.2,464.8 495.7,464.8 496.2,464.8 496.7,464.8 497.2,464.9 497.7,464.9 498.2,464.9 498.7,464.9 499.2,464.9 499.7,465 500.2,465 500.7,465 501.2,465 501.7,465" fill="none" stroke="#202020" stroke-width="1.45"/>
</g>
<text x="413.3" y="280.5" font-family="Liberation Serif, Times New Roman, serif" font-weight="bold" font-size="9" fill="#222" textLength="24.6" lengthAdjust="spacingAndGlyphs">6.6 nm</text>
<text x="423" y="326.8" font-family="Liberation Serif, Times New Roman, serif" font-weight="bold" font-size="9" fill="#222" textLength="25" lengthAdjust="spacingAndGlyphs">9.8 nm</text>
<text x="423.5" y="365.5" font-family="Liberation Serif, Times New Roman, serif" font-weight="bold" font-size="9" fill="#222" textLength="28.3" lengthAdjust="spacingAndGlyphs">10.6 nm</text>
<text x="429.6" y="403.8" font-family="Liberation Serif, Times New Roman, serif" font-weight="bold" font-size="9" fill="#222" textLength="28.4" lengthAdjust="spacingAndGlyphs">11.7 nm</text>
<text x="432.5" y="445" font-family="Liberation Serif, Times New Roman, serif" font-weight="bold" font-size="9" fill="#222" textLength="28.8" lengthAdjust="spacingAndGlyphs">13.3 nm</text></svg></body></html>
